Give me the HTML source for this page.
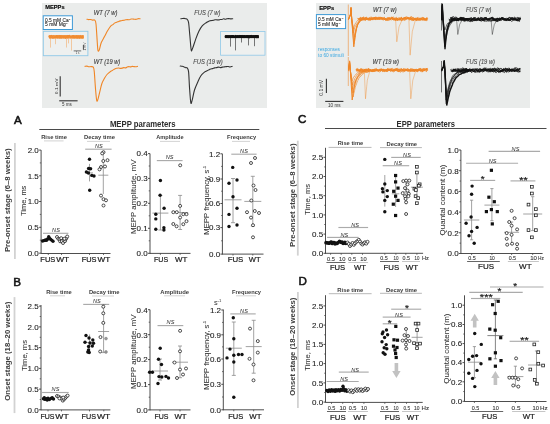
<!DOCTYPE html>
<html><head><meta charset="utf-8"><title>MEPP / EPP parameters</title>
<style>html,body{margin:0;padding:0;background:#fff;width:550px;height:424px;overflow:hidden}svg{display:block;filter:blur(0.3px)}</style>
</head><body>
<svg width="550" height="424" viewBox="0 0 550 424" font-family="'Liberation Sans', Arial, sans-serif">
<rect x="0.00" y="0.00" width="550.00" height="424.00" fill="#ffffff" stroke="none" stroke-width="1"/>
<rect x="42.00" y="3.00" width="225.00" height="105.00" fill="#eaeceb" stroke="none" stroke-width="1"/>
<text x="45.20" y="9.30" font-size="5.6" font-weight="bold" textLength="19.40" lengthAdjust="spacingAndGlyphs" stroke="#222" stroke-width="0.15">MEPPs</text>
<rect x="43.20" y="15.80" width="29.20" height="13.70" fill="#ffffff" stroke="#3d9ad6" stroke-width="1.0"/>
<text x="45.10" y="21.70" font-size="4.6" fill="#2a2a2a" textLength="23.50" lengthAdjust="spacingAndGlyphs" stroke="#2a2a2a" stroke-width="0.1">0.5 mM Ca</text>
<text x="68.80" y="19.50" font-size="2.4" fill="#2a2a2a">2+</text>
<text x="45.10" y="26.30" font-size="4.6" fill="#2a2a2a" textLength="20.60" lengthAdjust="spacingAndGlyphs" stroke="#2a2a2a" stroke-width="0.1">5 mM Mg</text>
<text x="65.90" y="24.30" font-size="2.4" fill="#2a2a2a">2+</text>
<rect x="43.30" y="31.30" width="44.60" height="24.40" fill="#eef0ef" stroke="#8fc9e8" stroke-width="0.9"/>
<path d="M49.00 36.34 L49.35 35.89 L49.70 37.19 L50.05 35.69 L50.40 36.89 L50.75 36.45 L51.10 35.65 L51.45 36.82 L51.80 35.60 L52.15 36.63 L52.50 35.68 L52.85 35.74 L53.20 36.60 L53.55 37.65 L53.90 35.82 L54.25 36.08 L54.60 37.13 L54.95 37.96 L55.30 37.00 L55.65 36.53 L56.00 38.04 L56.35 35.62 L56.70 37.73 L57.05 36.25 L57.40 35.88 L57.75 35.81 L58.10 36.30 L58.45 37.62 L58.80 35.97 L59.15 37.01 L59.50 37.16 L59.85 36.47 L60.20 36.92 L60.55 35.66 L60.90 35.65 L61.25 36.04 L61.60 37.27 L61.95 36.61 L62.30 36.32 L62.65 37.02 L63.00 36.68 L63.35 36.28 L63.70 37.57 L64.05 37.32 L64.40 36.13 L64.75 36.99 L65.10 36.87 L65.45 37.78 L65.80 37.40 L66.15 36.25 L66.50 38.05 L66.85 35.81 L67.20 36.59 L67.55 37.47 L67.90 35.90 L68.25 36.77 L68.60 35.60 L68.95 37.24 L69.30 37.49 L69.65 36.99 L70.00 37.78 L70.35 36.32 L70.70 37.31 L71.05 37.05 L71.40 37.01 L71.75 36.69 L72.10 37.68 L72.45 37.96 L72.80 36.73 L73.15 37.23 L73.50 35.66 L73.85 37.32 L74.20 37.18 L74.55 38.08 L74.90 37.64 L75.25 36.24 L75.60 36.50 L75.95 37.24 L76.30 35.56 L76.65 36.70 L77.00 35.94 L77.35 35.80 L77.70 35.65 L78.05 37.50 L78.40 35.84 L78.75 36.14 L79.10 36.52 L79.45 37.77 L79.80 35.71 L80.15 36.67 L80.50 36.93 L80.85 37.80 L81.20 37.63 L81.55 37.75 L81.90 36.22 L82.25 36.58 L82.60 36.43 L82.95 37.80 L83.30 37.99" fill="none" stroke="#f08626" stroke-width="0.7" stroke-linejoin="round" stroke-linecap="round"/>
<path d="M49.00 35.89 L49.35 35.96 L49.70 36.10 L50.05 36.11 L50.40 36.76 L50.75 37.03 L51.10 36.18 L51.45 35.51 L51.80 36.59 L52.15 36.46 L52.50 36.97 L52.85 37.98 L53.20 37.30 L53.55 36.84 L53.90 37.11 L54.25 37.26 L54.60 35.64 L54.95 37.84 L55.30 37.53 L55.65 37.77 L56.00 37.57 L56.35 36.52 L56.70 36.54 L57.05 35.77 L57.40 37.15 L57.75 35.66 L58.10 35.68 L58.45 36.04 L58.80 35.92 L59.15 36.38 L59.50 35.64 L59.85 35.50 L60.20 35.89 L60.55 35.76 L60.90 36.45 L61.25 35.57 L61.60 37.77 L61.95 37.10 L62.30 35.89 L62.65 36.16 L63.00 36.40 L63.35 36.45 L63.70 35.82 L64.05 37.71 L64.40 38.08 L64.75 36.71 L65.10 36.76 L65.45 35.72 L65.80 35.77 L66.15 36.39 L66.50 36.19 L66.85 37.66 L67.20 35.92 L67.55 35.56 L67.90 37.97 L68.25 36.87 L68.60 35.88 L68.95 36.91 L69.30 35.57 L69.65 36.87 L70.00 38.04 L70.35 37.74 L70.70 37.31 L71.05 36.18 L71.40 36.45 L71.75 35.93 L72.10 37.51 L72.45 36.88 L72.80 37.53 L73.15 36.36 L73.50 36.08 L73.85 37.61 L74.20 38.06 L74.55 37.72 L74.90 37.60 L75.25 37.63 L75.60 37.42 L75.95 36.09 L76.30 36.85 L76.65 36.42 L77.00 35.58 L77.35 35.57 L77.70 36.23 L78.05 36.17 L78.40 37.30 L78.75 37.99 L79.10 36.66 L79.45 37.94 L79.80 38.07 L80.15 37.98 L80.50 36.45 L80.85 36.07 L81.20 36.09 L81.55 36.01 L81.90 36.03 L82.25 37.12 L82.60 37.84 L82.95 37.69 L83.30 36.75" fill="none" stroke="#f08626" stroke-width="0.7" stroke-linejoin="round" stroke-linecap="round"/>
<path d="M49.00 37.20 L49.35 37.58 L49.70 35.72 L50.05 37.22 L50.40 37.87 L50.75 37.53 L51.10 37.45 L51.45 36.74 L51.80 35.96 L52.15 37.55 L52.50 36.36 L52.85 37.58 L53.20 38.03 L53.55 36.53 L53.90 36.54 L54.25 37.96 L54.60 37.38 L54.95 35.94 L55.30 35.83 L55.65 35.89 L56.00 37.85 L56.35 37.60 L56.70 35.88 L57.05 37.65 L57.40 38.05 L57.75 37.21 L58.10 36.41 L58.45 36.93 L58.80 35.84 L59.15 35.54 L59.50 38.02 L59.85 37.19 L60.20 36.87 L60.55 37.93 L60.90 36.63 L61.25 37.77 L61.60 37.65 L61.95 36.05 L62.30 36.15 L62.65 36.26 L63.00 36.13 L63.35 37.02 L63.70 36.17 L64.05 36.59 L64.40 35.84 L64.75 37.87 L65.10 36.42 L65.45 36.69 L65.80 37.02 L66.15 37.85 L66.50 36.59 L66.85 37.89 L67.20 36.80 L67.55 36.88 L67.90 36.86 L68.25 35.55 L68.60 36.64 L68.95 35.98 L69.30 35.51 L69.65 37.58 L70.00 35.95 L70.35 36.73 L70.70 37.39 L71.05 36.95 L71.40 36.35 L71.75 36.85 L72.10 36.94 L72.45 37.54 L72.80 35.78 L73.15 36.96 L73.50 36.15 L73.85 36.22 L74.20 37.51 L74.55 36.82 L74.90 36.96 L75.25 37.48 L75.60 37.87 L75.95 36.65 L76.30 37.09 L76.65 36.81 L77.00 36.83 L77.35 37.30 L77.70 36.68 L78.05 36.89 L78.40 36.74 L78.75 37.95 L79.10 37.32 L79.45 37.78 L79.80 37.95 L80.15 36.17 L80.50 36.95 L80.85 37.95 L81.20 37.68 L81.55 35.86 L81.90 35.82 L82.25 36.65 L82.60 35.69 L82.95 36.13 L83.30 35.69" fill="none" stroke="#f08626" stroke-width="0.7" stroke-linejoin="round" stroke-linecap="round"/>
<path d="M49.00 37.24 L49.35 37.54 L49.70 37.83 L50.05 35.90 L50.40 37.36 L50.75 37.22 L51.10 35.87 L51.45 37.80 L51.80 38.02 L52.15 36.07 L52.50 37.98 L52.85 36.54 L53.20 36.77 L53.55 38.07 L53.90 37.66 L54.25 35.92 L54.60 36.62 L54.95 36.84 L55.30 36.38 L55.65 36.01 L56.00 36.33 L56.35 37.38 L56.70 35.55 L57.05 36.94 L57.40 36.65 L57.75 35.55 L58.10 36.36 L58.45 37.12 L58.80 36.83 L59.15 35.67 L59.50 38.06 L59.85 37.55 L60.20 38.03 L60.55 35.77 L60.90 36.19 L61.25 35.60 L61.60 37.53 L61.95 36.20 L62.30 35.84 L62.65 36.60 L63.00 37.87 L63.35 37.63 L63.70 36.17 L64.05 35.89 L64.40 37.89 L64.75 36.98 L65.10 37.32 L65.45 35.73 L65.80 35.65 L66.15 37.29 L66.50 36.61 L66.85 35.69 L67.20 37.94 L67.55 37.15 L67.90 37.58 L68.25 35.72 L68.60 37.73 L68.95 35.67 L69.30 37.74 L69.65 36.68 L70.00 36.38 L70.35 36.94 L70.70 37.91 L71.05 36.20 L71.40 35.84 L71.75 36.87 L72.10 36.12 L72.45 35.78 L72.80 35.92 L73.15 35.63 L73.50 36.02 L73.85 36.31 L74.20 36.29 L74.55 37.47 L74.90 36.25 L75.25 36.80 L75.60 35.96 L75.95 36.40 L76.30 35.55 L76.65 36.15 L77.00 35.54 L77.35 37.41 L77.70 36.93 L78.05 35.99 L78.40 36.73 L78.75 37.93 L79.10 35.78 L79.45 37.63 L79.80 36.62 L80.15 36.79 L80.50 37.67 L80.85 36.52 L81.20 36.82 L81.55 37.29 L81.90 38.05 L82.25 36.39 L82.60 37.66 L82.95 37.34 L83.30 37.15" fill="none" stroke="#f08626" stroke-width="0.7" stroke-linejoin="round" stroke-linecap="round"/>
<path d="M49.00 36.55 L49.35 36.40 L49.70 35.64 L50.05 35.84 L50.40 35.68 L50.75 37.43 L51.10 36.16 L51.45 35.92 L51.80 35.72 L52.15 37.69 L52.50 37.76 L52.85 37.24 L53.20 36.23 L53.55 36.13 L53.90 36.26 L54.25 36.69 L54.60 35.91 L54.95 36.66 L55.30 36.18 L55.65 38.00 L56.00 38.03 L56.35 36.92 L56.70 36.14 L57.05 38.01 L57.40 36.30 L57.75 36.43 L58.10 35.50 L58.45 36.49 L58.80 36.73 L59.15 36.81 L59.50 36.02 L59.85 36.81 L60.20 35.51 L60.55 36.19 L60.90 35.73 L61.25 36.54 L61.60 35.61 L61.95 35.56 L62.30 36.29 L62.65 36.11 L63.00 37.02 L63.35 36.88 L63.70 37.45 L64.05 37.21 L64.40 37.36 L64.75 37.79 L65.10 36.51 L65.45 36.35 L65.80 38.06 L66.15 35.89 L66.50 37.38 L66.85 37.17 L67.20 35.61 L67.55 37.67 L67.90 37.82 L68.25 37.13 L68.60 37.41 L68.95 37.61 L69.30 35.86 L69.65 36.86 L70.00 36.81 L70.35 37.67 L70.70 37.59 L71.05 37.65 L71.40 37.02 L71.75 37.82 L72.10 37.28 L72.45 37.30 L72.80 36.10 L73.15 35.58 L73.50 35.85 L73.85 36.44 L74.20 35.77 L74.55 37.67 L74.90 36.95 L75.25 37.13 L75.60 37.13 L75.95 37.27 L76.30 36.77 L76.65 35.51 L77.00 37.57 L77.35 37.45 L77.70 36.81 L78.05 36.89 L78.40 37.21 L78.75 35.67 L79.10 37.42 L79.45 36.16 L79.80 35.69 L80.15 36.19 L80.50 37.40 L80.85 36.03 L81.20 37.42 L81.55 38.04 L81.90 36.78 L82.25 36.49 L82.60 36.75 L82.95 37.28 L83.30 37.49" fill="none" stroke="#f08626" stroke-width="0.7" stroke-linejoin="round" stroke-linecap="round"/>
<rect x="49.40" y="35.30" width="33.90" height="3.20" fill="#f39a48" stroke="none" stroke-width="1"/>
<path d="M49.40 37.30 L49.85 37.39 L50.30 35.46 L50.75 35.70 L51.20 36.06 L51.65 37.73 L52.10 36.24 L52.55 37.13 L53.00 35.24 L53.45 35.41 L53.90 36.11 L54.35 37.48 L54.80 37.55 L55.25 37.50 L55.70 36.19 L56.15 36.96 L56.60 36.78 L57.05 36.79 L57.50 35.60 L57.95 38.24 L58.40 35.88 L58.85 38.53 L59.30 38.38 L59.75 35.26 L60.20 36.76 L60.65 37.99 L61.10 38.49 L61.55 36.73 L62.00 36.11 L62.45 35.91 L62.90 38.41 L63.35 35.92 L63.80 37.18 L64.25 35.68 L64.70 36.98 L65.15 38.44 L65.60 35.65 L66.05 37.99 L66.50 36.93 L66.95 38.22 L67.40 37.59 L67.85 35.99 L68.30 38.25 L68.75 36.85 L69.20 35.28 L69.65 35.21 L70.10 36.87 L70.55 36.73 L71.00 36.23 L71.45 35.68 L71.90 36.37 L72.35 36.27 L72.80 38.06 L73.25 35.21 L73.70 37.75 L74.15 38.05 L74.60 35.61 L75.05 38.35 L75.50 37.62 L75.95 38.27 L76.40 36.19 L76.85 36.47 L77.30 36.54 L77.75 38.60 L78.20 37.20 L78.65 36.43 L79.10 36.66 L79.55 36.14 L80.00 35.36 L80.45 35.55 L80.90 38.04 L81.35 36.17 L81.80 38.38 L82.25 36.05 L82.70 36.10 L83.15 36.94" fill="none" stroke="#f08a30" stroke-width="0.45" stroke-linejoin="round" stroke-linecap="round"/>
<path d="M49.40 35.85 L49.85 36.47 L50.30 38.45 L50.75 38.21 L51.20 37.96 L51.65 37.35 L52.10 38.31 L52.55 38.40 L53.00 37.07 L53.45 37.65 L53.90 35.37 L54.35 37.69 L54.80 36.73 L55.25 37.76 L55.70 37.39 L56.15 36.17 L56.60 35.37 L57.05 38.35 L57.50 35.63 L57.95 36.81 L58.40 36.37 L58.85 36.21 L59.30 37.71 L59.75 38.52 L60.20 36.08 L60.65 37.43 L61.10 36.22 L61.55 37.09 L62.00 36.54 L62.45 35.77 L62.90 35.75 L63.35 35.91 L63.80 38.28 L64.25 36.89 L64.70 35.95 L65.15 38.28 L65.60 38.59 L66.05 36.73 L66.50 35.67 L66.95 35.85 L67.40 35.51 L67.85 36.36 L68.30 35.51 L68.75 36.01 L69.20 36.08 L69.65 37.14 L70.10 38.22 L70.55 37.75 L71.00 36.60 L71.45 36.61 L71.90 36.98 L72.35 36.48 L72.80 36.35 L73.25 35.41 L73.70 36.14 L74.15 38.49 L74.60 35.63 L75.05 36.91 L75.50 37.34 L75.95 38.13 L76.40 35.93 L76.85 36.12 L77.30 36.04 L77.75 36.56 L78.20 36.72 L78.65 38.44 L79.10 38.09 L79.55 38.17 L80.00 35.27 L80.45 35.31 L80.90 37.61 L81.35 38.25 L81.80 36.81 L82.25 37.20 L82.70 35.20 L83.15 36.53" fill="none" stroke="#f08a30" stroke-width="0.45" stroke-linejoin="round" stroke-linecap="round"/>
<path d="M49.40 38.35 L49.85 38.01 L50.30 38.11 L50.75 38.51 L51.20 36.04 L51.65 35.57 L52.10 35.72 L52.55 36.98 L53.00 37.52 L53.45 38.40 L53.90 37.65 L54.35 37.40 L54.80 37.80 L55.25 36.75 L55.70 37.08 L56.15 35.33 L56.60 37.86 L57.05 35.99 L57.50 38.33 L57.95 37.39 L58.40 36.23 L58.85 35.64 L59.30 36.06 L59.75 37.36 L60.20 37.58 L60.65 35.58 L61.10 35.44 L61.55 36.98 L62.00 37.18 L62.45 36.52 L62.90 35.96 L63.35 37.24 L63.80 35.24 L64.25 36.23 L64.70 36.77 L65.15 38.46 L65.60 37.39 L66.05 38.20 L66.50 36.82 L66.95 36.00 L67.40 36.04 L67.85 38.47 L68.30 37.60 L68.75 36.25 L69.20 35.27 L69.65 36.89 L70.10 37.49 L70.55 36.63 L71.00 36.07 L71.45 37.47 L71.90 38.35 L72.35 35.97 L72.80 35.32 L73.25 36.35 L73.70 36.63 L74.15 37.52 L74.60 35.87 L75.05 37.91 L75.50 37.71 L75.95 36.92 L76.40 35.90 L76.85 38.50 L77.30 36.26 L77.75 37.99 L78.20 35.98 L78.65 35.95 L79.10 37.79 L79.55 36.20 L80.00 38.44 L80.45 36.89 L80.90 35.84 L81.35 35.96 L81.80 36.62 L82.25 37.46 L82.70 38.43 L83.15 35.70" fill="none" stroke="#f08a30" stroke-width="0.45" stroke-linejoin="round" stroke-linecap="round"/>
<path d="M49.40 36.54 L49.85 35.92 L50.30 38.51 L50.75 35.68 L51.20 35.38 L51.65 35.40 L52.10 36.54 L52.55 38.25 L53.00 38.20 L53.45 37.69 L53.90 38.59 L54.35 38.37 L54.80 36.32 L55.25 35.83 L55.70 38.38 L56.15 37.74 L56.60 35.31 L57.05 37.46 L57.50 36.49 L57.95 36.47 L58.40 36.33 L58.85 35.78 L59.30 35.21 L59.75 36.15 L60.20 36.39 L60.65 38.45 L61.10 35.62 L61.55 38.48 L62.00 35.91 L62.45 36.41 L62.90 37.99 L63.35 37.99 L63.80 36.67 L64.25 35.37 L64.70 36.81 L65.15 36.47 L65.60 38.33 L66.05 35.86 L66.50 36.44 L66.95 38.25 L67.40 35.30 L67.85 36.60 L68.30 37.96 L68.75 37.81 L69.20 35.34 L69.65 35.32 L70.10 35.41 L70.55 38.33 L71.00 36.07 L71.45 37.74 L71.90 38.26 L72.35 36.35 L72.80 36.13 L73.25 38.46 L73.70 37.30 L74.15 36.09 L74.60 37.64 L75.05 36.28 L75.50 36.14 L75.95 35.21 L76.40 37.77 L76.85 38.32 L77.30 37.36 L77.75 38.41 L78.20 35.28 L78.65 36.00 L79.10 36.82 L79.55 38.45 L80.00 38.44 L80.45 36.51 L80.90 36.05 L81.35 36.66 L81.80 36.88 L82.25 38.36 L82.70 35.82 L83.15 37.93" fill="none" stroke="#f08a30" stroke-width="0.45" stroke-linejoin="round" stroke-linecap="round"/>
<line x1="50.50" y1="38.00" x2="50.50" y2="47.60" stroke="#f4ac6a" stroke-width="0.6"/>
<line x1="55.50" y1="38.00" x2="55.50" y2="44.20" stroke="#f4ac6a" stroke-width="0.6"/>
<line x1="66.50" y1="38.00" x2="66.50" y2="47.50" stroke="#f4ac6a" stroke-width="0.6"/>
<line x1="68.50" y1="38.00" x2="68.50" y2="43.40" stroke="#f4ac6a" stroke-width="0.6"/>
<line x1="71.50" y1="38.00" x2="71.50" y2="50.50" stroke="#f4ac6a" stroke-width="0.6"/>
<line x1="73.70" y1="50.90" x2="81.20" y2="50.90" stroke="#333" stroke-width="0.7"/>
<text x="77.50" y="54.40" font-size="2.8" fill="#333" text-anchor="middle" textLength="3.60" lengthAdjust="spacingAndGlyphs">1 s</text>
<line x1="83.40" y1="45.00" x2="83.40" y2="49.60" stroke="#333" stroke-width="0.9"/>
<text x="86.40" y="46.50" font-size="2.6" fill="#555" text-anchor="middle" textLength="8.00" lengthAdjust="spacingAndGlyphs" transform="rotate(-90 86.40 46.50)">1 mV</text>
<text x="93.80" y="15.20" font-size="6.3" font-style="italic" fill="#383838" textLength="23.60" lengthAdjust="spacingAndGlyphs" stroke="#383838" stroke-width="0.1">WT (7 w)</text>
<text x="93.80" y="63.70" font-size="6.3" font-style="italic" fill="#383838" textLength="26.50" lengthAdjust="spacingAndGlyphs" stroke="#383838" stroke-width="0.1">WT (19 w)</text>
<text x="194.20" y="15.20" font-size="6.3" font-style="italic" fill="#4a4a4a" textLength="26.20" lengthAdjust="spacingAndGlyphs" stroke="#4a4a4a" stroke-width="0.1">FUS (7 w)</text>
<text x="193.20" y="64.20" font-size="6.3" font-style="italic" fill="#4a4a4a" textLength="29.50" lengthAdjust="spacingAndGlyphs" stroke="#4a4a4a" stroke-width="0.1">FUS (19 w)</text>
<path d="M86.90 19.20 C87.20 19.26 88.10 19.54 88.70 19.59 C89.30 19.64 89.85 19.41 90.50 19.50 C91.15 19.59 91.90 20.02 92.60 20.12 C93.30 20.22 94.13 19.45 94.70 20.10 C95.27 20.75 95.57 20.22 96.00 24.00 C96.43 27.78 96.97 38.37 97.30 42.80 C97.63 47.23 97.67 49.42 98.00 50.60 C98.33 51.78 98.77 51.20 99.30 49.90 C99.83 48.60 100.33 45.02 101.20 42.80 C102.07 40.58 103.42 38.65 104.50 36.60 C105.58 34.55 106.63 32.30 107.70 30.50 C108.77 28.70 110.04 26.78 110.90 25.80 C111.76 24.82 112.20 25.11 112.85 24.62 C113.50 24.14 114.15 23.29 114.80 22.90 C115.45 22.51 116.10 22.51 116.75 22.26 C117.40 22.01 118.09 21.63 118.70 21.40 C119.31 21.17 119.86 21.01 120.43 20.86 C121.01 20.71 121.59 20.58 122.17 20.49 C122.74 20.39 123.29 20.41 123.90 20.30 C124.51 20.19 125.20 19.93 125.85 19.81 C126.50 19.70 127.20 19.60 127.80 19.60 C128.40 19.60 128.88 19.89 129.43 19.78 C129.97 19.68 130.51 19.11 131.05 18.98 C131.59 18.85 132.13 18.96 132.68 19.00 C133.22 19.03 133.71 19.15 134.30 19.20 C134.89 19.25 135.59 19.41 136.23 19.32 C136.88 19.23 137.52 18.77 138.17 18.68 C138.81 18.59 139.78 18.78 140.10 18.80" fill="none" stroke="#f08626" stroke-width="1.1" stroke-linejoin="round" stroke-linecap="round"/>
<path d="M85.00 66.40 C85.33 66.36 86.33 66.10 87.00 66.16 C87.67 66.23 88.30 66.73 89.00 66.80 C89.70 66.87 90.47 66.50 91.20 66.58 C91.93 66.67 92.88 66.41 93.40 67.30 C93.92 68.19 93.97 68.55 94.30 71.90 C94.63 75.25 95.00 82.65 95.40 87.40 C95.80 92.15 96.27 98.45 96.70 100.40 C97.13 102.35 97.47 100.62 98.00 99.10 C98.53 97.58 99.25 93.90 99.90 91.30 C100.55 88.70 101.13 85.67 101.90 83.50 C102.67 81.33 103.65 79.80 104.50 78.30 C105.35 76.80 105.93 75.68 107.00 74.50 C108.07 73.32 109.93 71.93 110.90 71.20 C111.88 70.47 112.20 70.49 112.85 70.10 C113.50 69.72 114.15 69.20 114.80 68.90 C115.45 68.60 116.10 68.43 116.75 68.28 C117.40 68.13 118.09 67.99 118.70 68.00 C119.31 68.01 119.86 68.33 120.43 68.35 C121.01 68.37 121.59 68.24 122.17 68.12 C122.74 67.99 123.34 67.63 123.90 67.60 C124.46 67.57 124.98 68.01 125.53 67.91 C126.07 67.82 126.61 67.22 127.15 67.01 C127.69 66.81 128.23 66.68 128.78 66.66 C129.32 66.64 129.83 66.95 130.40 66.90 C130.97 66.85 131.58 66.41 132.18 66.37 C132.77 66.33 133.36 66.59 133.95 66.65 C134.54 66.71 135.13 66.78 135.72 66.73 C136.32 66.69 137.20 66.46 137.50 66.40" fill="none" stroke="#f08626" stroke-width="1.1" stroke-linejoin="round" stroke-linecap="round"/>
<path d="M180.80 18.80 C181.08 18.76 181.90 18.61 182.45 18.55 C183.00 18.48 183.56 18.38 184.10 18.40 C184.64 18.42 185.17 18.50 185.70 18.68 C186.23 18.87 186.82 18.83 187.30 19.50 C187.78 20.17 188.17 19.90 188.60 22.70 C189.03 25.50 189.47 31.77 189.90 36.30 C190.33 40.83 190.77 47.85 191.20 49.90 C191.63 51.95 191.73 50.43 192.50 48.60 C193.27 46.77 194.72 41.82 195.80 38.90 C196.88 35.98 197.93 33.27 199.00 31.10 C200.07 28.93 201.02 27.30 202.20 25.90 C203.38 24.50 205.12 23.41 206.10 22.70 C207.07 21.99 207.40 21.98 208.05 21.67 C208.70 21.35 209.39 20.99 210.00 20.80 C210.61 20.61 211.16 20.65 211.73 20.55 C212.31 20.46 212.89 20.38 213.47 20.24 C214.04 20.10 214.62 19.76 215.20 19.70 C215.78 19.64 216.36 19.85 216.93 19.88 C217.51 19.92 218.09 19.98 218.67 19.91 C219.24 19.85 219.84 19.57 220.40 19.50 C220.96 19.43 221.48 19.61 222.03 19.49 C222.57 19.37 223.11 18.80 223.65 18.77 C224.19 18.74 224.73 19.31 225.28 19.32 C225.82 19.32 226.31 18.92 226.90 18.80 C227.49 18.68 228.19 18.58 228.83 18.59 C229.48 18.60 230.12 18.83 230.77 18.87 C231.41 18.90 232.38 18.81 232.70 18.80" fill="none" stroke="#333" stroke-width="1.1" stroke-linejoin="round" stroke-linecap="round"/>
<path d="M180.20 66.00 C180.52 66.05 181.50 66.17 182.15 66.32 C182.80 66.47 183.51 66.67 184.10 66.90 C184.69 67.13 185.17 67.50 185.70 67.69 C186.23 67.87 186.82 67.30 187.30 68.00 C187.78 68.70 188.23 68.67 188.60 71.90 C188.97 75.13 189.13 82.27 189.50 87.40 C189.87 92.53 190.37 100.53 190.80 102.70 C191.23 104.87 191.48 102.52 192.10 100.40 C192.72 98.28 193.57 93.03 194.50 90.00 C195.43 86.97 196.63 84.57 197.70 82.20 C198.77 79.83 199.72 77.52 200.90 75.80 C202.08 74.08 203.72 72.77 204.80 71.90 C205.88 71.03 206.68 70.98 207.40 70.60 C208.12 70.22 208.56 69.90 209.13 69.63 C209.71 69.37 210.29 69.19 210.87 69.01 C211.44 68.84 211.99 68.79 212.60 68.60 C213.21 68.41 213.90 68.01 214.55 67.85 C215.20 67.68 215.85 67.73 216.50 67.60 C217.15 67.47 217.80 67.07 218.45 67.08 C219.10 67.08 219.75 67.62 220.40 67.63 C221.05 67.65 221.70 67.28 222.35 67.15 C223.00 67.03 223.65 66.99 224.30 66.90 C224.95 66.81 225.60 66.66 226.25 66.60 C226.90 66.54 227.55 66.48 228.20 66.55 C228.85 66.62 229.50 67.04 230.15 67.02 C230.80 66.99 231.78 66.50 232.10 66.40" fill="none" stroke="#333" stroke-width="1.1" stroke-linejoin="round" stroke-linecap="round"/>
<rect x="220.60" y="31.50" width="44.40" height="23.70" fill="#eef0ef" stroke="#8fc9e8" stroke-width="0.8"/>
<path d="M225.30 36.72 L225.65 36.00 L226.00 37.50 L226.35 37.10 L226.70 37.98 L227.05 35.67 L227.40 36.63 L227.75 37.53 L228.10 37.59 L228.45 37.78 L228.80 35.50 L229.15 36.16 L229.50 35.71 L229.85 35.89 L230.20 37.93 L230.55 36.92 L230.90 37.82 L231.25 36.37 L231.60 37.65 L231.95 36.57 L232.30 36.08 L232.65 37.42 L233.00 37.86 L233.35 35.68 L233.70 36.95 L234.05 37.01 L234.40 35.97 L234.75 36.36 L235.10 35.77 L235.45 35.93 L235.80 36.06 L236.15 36.96 L236.50 37.09 L236.85 35.93 L237.20 35.43 L237.55 36.25 L237.90 37.16 L238.25 35.88 L238.60 36.21 L238.95 35.93 L239.30 37.47 L239.65 36.82 L240.00 35.56 L240.35 35.66 L240.70 36.43 L241.05 36.83 L241.40 37.06 L241.75 35.64 L242.10 35.83 L242.45 37.21 L242.80 36.47 L243.15 36.14 L243.50 36.20 L243.85 37.88 L244.20 36.21 L244.55 36.87 L244.90 36.33 L245.25 36.48 L245.60 37.65 L245.95 37.99 L246.30 36.35 L246.65 35.91 L247.00 37.29 L247.35 35.93 L247.70 35.42 L248.05 37.74 L248.40 36.50 L248.75 37.53 L249.10 36.46 L249.45 37.70 L249.80 36.60 L250.15 35.82 L250.50 35.44 L250.85 36.83 L251.20 37.07 L251.55 37.77 L251.90 35.63 L252.25 37.02 L252.60 36.36 L252.95 36.71 L253.30 35.78 L253.65 36.14 L254.00 36.76 L254.35 37.81 L254.70 35.68 L255.05 36.68 L255.40 37.49 L255.75 37.91 L256.10 35.91 L256.45 35.73 L256.80 37.85 L257.15 37.94 L257.50 36.66 L257.85 35.54 L258.20 37.81" fill="none" stroke="#111" stroke-width="0.7" stroke-linejoin="round" stroke-linecap="round"/>
<path d="M225.30 36.41 L225.65 37.75 L226.00 37.01 L226.35 37.54 L226.70 35.82 L227.05 37.44 L227.40 35.98 L227.75 36.45 L228.10 37.60 L228.45 37.56 L228.80 35.88 L229.15 35.97 L229.50 36.44 L229.85 36.75 L230.20 36.40 L230.55 35.72 L230.90 36.04 L231.25 37.28 L231.60 37.73 L231.95 35.51 L232.30 36.86 L232.65 37.37 L233.00 35.50 L233.35 37.58 L233.70 35.71 L234.05 36.96 L234.40 36.83 L234.75 37.03 L235.10 36.20 L235.45 36.49 L235.80 36.91 L236.15 36.51 L236.50 37.11 L236.85 36.56 L237.20 36.54 L237.55 35.46 L237.90 37.01 L238.25 36.67 L238.60 36.01 L238.95 37.39 L239.30 37.43 L239.65 36.59 L240.00 35.87 L240.35 36.63 L240.70 35.68 L241.05 35.73 L241.40 36.52 L241.75 35.64 L242.10 36.55 L242.45 36.73 L242.80 35.51 L243.15 37.05 L243.50 35.61 L243.85 37.31 L244.20 37.42 L244.55 36.73 L244.90 35.54 L245.25 36.71 L245.60 36.38 L245.95 37.87 L246.30 35.75 L246.65 37.63 L247.00 37.99 L247.35 37.30 L247.70 37.52 L248.05 35.90 L248.40 37.95 L248.75 36.68 L249.10 37.89 L249.45 37.78 L249.80 35.83 L250.15 37.45 L250.50 37.82 L250.85 35.57 L251.20 36.31 L251.55 37.37 L251.90 35.81 L252.25 37.73 L252.60 36.11 L252.95 37.52 L253.30 35.77 L253.65 36.71 L254.00 37.79 L254.35 35.94 L254.70 36.08 L255.05 36.72 L255.40 36.23 L255.75 35.50 L256.10 35.87 L256.45 35.82 L256.80 37.83 L257.15 37.17 L257.50 37.73 L257.85 35.84 L258.20 37.44" fill="none" stroke="#111" stroke-width="0.7" stroke-linejoin="round" stroke-linecap="round"/>
<path d="M225.30 35.70 L225.65 36.78 L226.00 37.05 L226.35 36.34 L226.70 37.67 L227.05 36.84 L227.40 36.91 L227.75 37.69 L228.10 35.67 L228.45 37.98 L228.80 37.04 L229.15 36.43 L229.50 37.47 L229.85 36.09 L230.20 37.98 L230.55 36.90 L230.90 36.34 L231.25 37.39 L231.60 36.55 L231.95 35.86 L232.30 37.33 L232.65 35.53 L233.00 37.53 L233.35 36.06 L233.70 37.06 L234.05 37.96 L234.40 36.92 L234.75 37.13 L235.10 36.21 L235.45 35.40 L235.80 35.49 L236.15 35.79 L236.50 37.00 L236.85 36.52 L237.20 36.73 L237.55 37.73 L237.90 35.74 L238.25 35.99 L238.60 37.10 L238.95 35.46 L239.30 35.41 L239.65 36.32 L240.00 35.68 L240.35 36.33 L240.70 35.98 L241.05 36.92 L241.40 36.93 L241.75 35.93 L242.10 37.02 L242.45 36.63 L242.80 35.75 L243.15 37.84 L243.50 36.03 L243.85 35.79 L244.20 35.65 L244.55 37.06 L244.90 37.67 L245.25 37.43 L245.60 36.45 L245.95 36.09 L246.30 35.43 L246.65 37.08 L247.00 36.86 L247.35 36.31 L247.70 37.08 L248.05 36.55 L248.40 37.84 L248.75 37.31 L249.10 36.05 L249.45 37.75 L249.80 35.51 L250.15 36.78 L250.50 36.46 L250.85 36.02 L251.20 35.55 L251.55 37.43 L251.90 35.43 L252.25 36.83 L252.60 37.85 L252.95 35.77 L253.30 35.92 L253.65 36.98 L254.00 36.72 L254.35 37.07 L254.70 37.51 L255.05 35.85 L255.40 36.20 L255.75 36.18 L256.10 35.53 L256.45 37.71 L256.80 37.44 L257.15 37.26 L257.50 35.42 L257.85 37.60 L258.20 37.34" fill="none" stroke="#111" stroke-width="0.7" stroke-linejoin="round" stroke-linecap="round"/>
<path d="M225.30 36.61 L225.65 37.33 L226.00 36.58 L226.35 35.99 L226.70 35.67 L227.05 36.00 L227.40 35.50 L227.75 36.27 L228.10 37.35 L228.45 37.21 L228.80 37.60 L229.15 37.25 L229.50 36.09 L229.85 36.84 L230.20 36.53 L230.55 37.45 L230.90 36.76 L231.25 36.09 L231.60 37.07 L231.95 37.91 L232.30 35.96 L232.65 37.69 L233.00 35.44 L233.35 36.08 L233.70 36.01 L234.05 37.33 L234.40 37.86 L234.75 37.34 L235.10 36.25 L235.45 37.69 L235.80 36.25 L236.15 36.02 L236.50 37.76 L236.85 37.04 L237.20 37.20 L237.55 37.13 L237.90 37.95 L238.25 36.62 L238.60 37.58 L238.95 37.21 L239.30 37.63 L239.65 36.54 L240.00 37.28 L240.35 36.88 L240.70 36.20 L241.05 35.95 L241.40 37.02 L241.75 35.60 L242.10 37.77 L242.45 35.78 L242.80 35.47 L243.15 35.68 L243.50 37.82 L243.85 36.30 L244.20 35.77 L244.55 35.47 L244.90 35.51 L245.25 37.20 L245.60 37.05 L245.95 37.21 L246.30 37.32 L246.65 35.57 L247.00 36.94 L247.35 36.34 L247.70 37.53 L248.05 37.53 L248.40 37.72 L248.75 35.57 L249.10 37.66 L249.45 37.78 L249.80 37.86 L250.15 35.68 L250.50 35.93 L250.85 35.69 L251.20 35.49 L251.55 37.60 L251.90 37.51 L252.25 37.05 L252.60 37.55 L252.95 37.04 L253.30 36.15 L253.65 35.66 L254.00 35.65 L254.35 37.37 L254.70 35.93 L255.05 36.23 L255.40 36.50 L255.75 35.45 L256.10 36.07 L256.45 36.13 L256.80 37.26 L257.15 36.36 L257.50 36.23 L257.85 37.91 L258.20 36.71" fill="none" stroke="#111" stroke-width="0.7" stroke-linejoin="round" stroke-linecap="round"/>
<path d="M225.30 37.61 L225.65 37.01 L226.00 35.48 L226.35 36.47 L226.70 36.53 L227.05 37.41 L227.40 36.30 L227.75 37.23 L228.10 36.80 L228.45 35.96 L228.80 37.64 L229.15 35.64 L229.50 37.53 L229.85 35.84 L230.20 35.40 L230.55 35.93 L230.90 37.38 L231.25 37.94 L231.60 35.41 L231.95 36.68 L232.30 36.68 L232.65 37.47 L233.00 35.88 L233.35 36.69 L233.70 36.30 L234.05 37.56 L234.40 36.08 L234.75 37.85 L235.10 36.14 L235.45 35.96 L235.80 37.22 L236.15 36.70 L236.50 35.69 L236.85 37.05 L237.20 35.61 L237.55 37.45 L237.90 37.21 L238.25 37.45 L238.60 37.03 L238.95 36.32 L239.30 36.44 L239.65 36.43 L240.00 37.72 L240.35 35.62 L240.70 37.71 L241.05 35.47 L241.40 35.94 L241.75 36.08 L242.10 37.74 L242.45 36.70 L242.80 36.39 L243.15 37.70 L243.50 36.01 L243.85 36.60 L244.20 36.78 L244.55 37.36 L244.90 37.36 L245.25 37.08 L245.60 36.31 L245.95 36.25 L246.30 35.80 L246.65 37.59 L247.00 37.12 L247.35 37.33 L247.70 35.84 L248.05 36.54 L248.40 37.41 L248.75 36.91 L249.10 35.73 L249.45 36.60 L249.80 37.70 L250.15 36.02 L250.50 35.90 L250.85 36.18 L251.20 37.23 L251.55 37.59 L251.90 35.80 L252.25 35.81 L252.60 36.04 L252.95 36.25 L253.30 36.76 L253.65 35.82 L254.00 36.25 L254.35 35.89 L254.70 37.94 L255.05 37.29 L255.40 35.66 L255.75 37.90 L256.10 35.66 L256.45 36.40 L256.80 37.96 L257.15 37.47 L257.50 37.31 L257.85 36.53 L258.20 35.91" fill="none" stroke="#111" stroke-width="0.7" stroke-linejoin="round" stroke-linecap="round"/>
<rect x="225.30" y="35.30" width="33.20" height="2.80" fill="#111" stroke="none" stroke-width="1"/>
<path d="M225.30 37.09 L225.75 35.60 L226.20 35.88 L226.65 36.39 L227.10 35.40 L227.55 36.42 L228.00 37.51 L228.45 37.24 L228.90 36.70 L229.35 37.07 L229.80 36.60 L230.25 35.70 L230.70 36.99 L231.15 36.43 L231.60 37.37 L232.05 37.84 L232.50 36.50 L232.95 36.91 L233.40 37.40 L233.85 36.48 L234.30 35.94 L234.75 37.32 L235.20 37.76 L235.65 37.47 L236.10 37.26 L236.55 37.69 L237.00 37.20 L237.45 37.10 L237.90 36.57 L238.35 36.18 L238.80 37.06 L239.25 35.57 L239.70 36.47 L240.15 37.49 L240.60 37.30 L241.05 37.06 L241.50 36.00 L241.95 36.49 L242.40 36.57 L242.85 37.04 L243.30 36.45 L243.75 37.19 L244.20 37.90 L244.65 35.81 L245.10 37.13 L245.55 37.48 L246.00 36.39 L246.45 36.67 L246.90 38.03 L247.35 35.41 L247.80 36.82 L248.25 35.75 L248.70 37.49 L249.15 37.93 L249.60 36.75 L250.05 35.58 L250.50 36.91 L250.95 36.81 L251.40 37.31 L251.85 36.73 L252.30 37.09 L252.75 37.62 L253.20 36.76 L253.65 36.45 L254.10 37.95 L254.55 35.89 L255.00 37.22 L255.45 36.40 L255.90 37.44 L256.35 35.64 L256.80 38.06 L257.25 36.30 L257.70 35.46 L258.15 36.07" fill="none" stroke="#111" stroke-width="0.5" stroke-linejoin="round" stroke-linecap="round"/>
<path d="M225.30 36.42 L225.75 35.34 L226.20 36.47 L226.65 36.48 L227.10 37.26 L227.55 36.29 L228.00 36.04 L228.45 35.93 L228.90 37.38 L229.35 37.93 L229.80 36.78 L230.25 35.91 L230.70 37.54 L231.15 36.40 L231.60 35.89 L232.05 35.66 L232.50 37.47 L232.95 37.57 L233.40 37.08 L233.85 36.61 L234.30 36.87 L234.75 35.93 L235.20 38.00 L235.65 36.29 L236.10 37.09 L236.55 37.59 L237.00 37.59 L237.45 36.61 L237.90 36.12 L238.35 36.84 L238.80 35.65 L239.25 37.63 L239.70 36.29 L240.15 37.68 L240.60 36.05 L241.05 36.35 L241.50 36.01 L241.95 36.49 L242.40 35.82 L242.85 35.31 L243.30 37.32 L243.75 36.09 L244.20 35.99 L244.65 36.15 L245.10 36.64 L245.55 36.50 L246.00 37.08 L246.45 37.15 L246.90 36.31 L247.35 37.90 L247.80 37.69 L248.25 35.46 L248.70 37.62 L249.15 37.84 L249.60 37.50 L250.05 35.69 L250.50 37.63 L250.95 37.07 L251.40 35.34 L251.85 35.33 L252.30 37.96 L252.75 37.14 L253.20 36.00 L253.65 35.58 L254.10 35.70 L254.55 35.95 L255.00 37.47 L255.45 36.27 L255.90 35.73 L256.35 37.83 L256.80 37.52 L257.25 35.77 L257.70 37.80 L258.15 37.00" fill="none" stroke="#111" stroke-width="0.5" stroke-linejoin="round" stroke-linecap="round"/>
<path d="M225.30 37.49 L225.75 37.17 L226.20 37.80 L226.65 37.51 L227.10 37.65 L227.55 35.85 L228.00 37.24 L228.45 36.79 L228.90 37.38 L229.35 36.53 L229.80 37.77 L230.25 36.85 L230.70 36.04 L231.15 35.96 L231.60 35.69 L232.05 36.68 L232.50 35.46 L232.95 36.61 L233.40 35.70 L233.85 36.68 L234.30 36.69 L234.75 36.81 L235.20 37.72 L235.65 35.32 L236.10 37.65 L236.55 36.61 L237.00 36.88 L237.45 37.16 L237.90 37.65 L238.35 36.35 L238.80 36.47 L239.25 37.99 L239.70 35.51 L240.15 37.08 L240.60 37.08 L241.05 35.38 L241.50 37.01 L241.95 37.21 L242.40 37.91 L242.85 36.23 L243.30 38.05 L243.75 36.73 L244.20 36.66 L244.65 37.81 L245.10 35.39 L245.55 37.31 L246.00 37.05 L246.45 36.25 L246.90 37.71 L247.35 36.33 L247.80 36.63 L248.25 36.77 L248.70 37.46 L249.15 35.89 L249.60 36.52 L250.05 36.48 L250.50 36.85 L250.95 37.61 L251.40 36.12 L251.85 37.62 L252.30 36.43 L252.75 36.71 L253.20 36.06 L253.65 36.72 L254.10 38.03 L254.55 37.13 L255.00 37.52 L255.45 36.23 L255.90 36.19 L256.35 36.14 L256.80 36.94 L257.25 37.08 L257.70 37.50 L258.15 35.41" fill="none" stroke="#111" stroke-width="0.5" stroke-linejoin="round" stroke-linecap="round"/>
<line x1="230.50" y1="38.00" x2="230.50" y2="46.60" stroke="#222" stroke-width="0.6"/>
<line x1="235.50" y1="38.00" x2="235.50" y2="50.40" stroke="#222" stroke-width="0.6"/>
<line x1="241.50" y1="38.00" x2="241.50" y2="42.50" stroke="#222" stroke-width="0.6"/>
<line x1="248.50" y1="38.00" x2="248.50" y2="45.40" stroke="#222" stroke-width="0.6"/>
<line x1="254.50" y1="38.00" x2="254.50" y2="46.20" stroke="#222" stroke-width="0.6"/>
<line x1="60.20" y1="76.30" x2="60.20" y2="96.60" stroke="#333" stroke-width="1.1"/>
<text x="58.50" y="86.30" font-size="4.4" fill="#333" text-anchor="middle" textLength="15.70" lengthAdjust="spacingAndGlyphs" transform="rotate(-90 58.50 86.30)">0.1 mV</text>
<line x1="59.20" y1="100.80" x2="77.60" y2="100.80" stroke="#333" stroke-width="1.1"/>
<text x="66.80" y="106.30" font-size="4.7" fill="#333" text-anchor="middle" textLength="9.80" lengthAdjust="spacingAndGlyphs">5 ms</text>
<rect x="316.00" y="3.00" width="214.00" height="105.00" fill="#eaeceb" stroke="none" stroke-width="1"/>
<text x="319.20" y="9.60" font-size="5.6" font-weight="bold" textLength="15.00" lengthAdjust="spacingAndGlyphs" stroke="#222" stroke-width="0.15">EPPs</text>
<rect x="316.40" y="14.60" width="29.20" height="14.00" fill="#ffffff" stroke="#3d9ad6" stroke-width="1.0"/>
<text x="318.00" y="20.80" font-size="4.6" fill="#2a2a2a" textLength="23.20" lengthAdjust="spacingAndGlyphs" stroke="#2a2a2a" stroke-width="0.1">0.5 mM Ca</text>
<text x="341.40" y="18.60" font-size="2.4" fill="#2a2a2a">2+</text>
<text x="318.00" y="25.60" font-size="4.6" fill="#2a2a2a" textLength="20.20" lengthAdjust="spacingAndGlyphs" stroke="#2a2a2a" stroke-width="0.1">5 mM Mg</text>
<text x="338.40" y="23.60" font-size="2.4" fill="#2a2a2a">2+</text>
<text x="318.10" y="50.80" font-size="4.8" fill="#3aa8e2" textLength="21.90" lengthAdjust="spacingAndGlyphs">responses</text>
<text x="318.10" y="56.80" font-size="4.8" fill="#3aa8e2" textLength="25.60" lengthAdjust="spacingAndGlyphs">to 60 stimuli</text>
<text x="372.90" y="11.90" font-size="6.3" font-style="italic" fill="#383838" textLength="23.70" lengthAdjust="spacingAndGlyphs" stroke="#383838" stroke-width="0.1">WT (7 w)</text>
<text x="372.50" y="63.60" font-size="6.3" font-style="italic" fill="#383838" textLength="26.50" lengthAdjust="spacingAndGlyphs" stroke="#383838" stroke-width="0.1">WT (19 w)</text>
<text x="465.90" y="11.90" font-size="6.3" font-style="italic" fill="#4a4a4a" textLength="25.50" lengthAdjust="spacingAndGlyphs" stroke="#4a4a4a" stroke-width="0.1">FUS (7 w)</text>
<text x="465.90" y="63.80" font-size="6.3" font-style="italic" fill="#4a4a4a" textLength="29.10" lengthAdjust="spacingAndGlyphs" stroke="#4a4a4a" stroke-width="0.1">FUS (19 w)</text>
<line x1="348.30" y1="4.50" x2="348.30" y2="56.00" stroke="#f08626" stroke-width="0.55"/>
<path d="M359.57 19.74 L360.47 19.43 L361.37 18.05 L362.27 17.90 L363.17 17.11 L364.07 17.12 L364.97 18.90 L365.87 19.12 L366.77 19.36 L367.67 19.81 L368.57 20.35 L369.47 19.92 L370.37 19.70 L371.27 19.60 L372.17 19.72 L373.07 19.54 L373.97 19.65 L374.87 18.57 L375.77 19.08 L376.67 18.85 L377.57 19.47 L378.47 18.20 L379.37 17.69 L380.27 17.07 L381.17 18.51 L382.07 19.65 L382.97 19.65 L383.87 18.95 L384.77 19.66 L385.67 19.97 L386.57 19.60 L387.47 18.65 L388.37 18.24 L389.27 18.30 L390.17 18.08 L391.07 18.24 L391.97 18.84 L392.87 19.87 L393.77 18.31 L394.67 18.69 L395.57 17.62 L396.47 17.23 L397.37 18.69 L398.27 18.92 L399.17 19.88 L400.07 19.27 L400.97 17.88 L401.87 18.02 L402.77 18.59 L403.67 19.75 L404.57 20.49 L405.47 19.67 L406.37 19.07 L407.27 17.98 L408.17 18.70 L409.07 18.05 L409.97 17.54 L410.87 16.93 L411.77 16.57 L412.67 18.02 L413.57 17.45 L414.47 19.19 L415.37 18.01 L416.27 19.27 L417.17 18.15 L418.07 17.27 L418.97 18.49 L419.87 18.01 L420.77 18.93 L421.67 18.11 L422.57 17.33 L423.47 18.66 L424.37 19.24 L425.27 19.91 L426.17 19.97 L427.07 18.43" fill="none" stroke="#f08626" stroke-width="0.75" stroke-linejoin="round" stroke-linecap="round"/>
<path d="M359.29 19.31 L360.19 18.98 L361.09 19.95 L361.99 18.84 L362.89 19.95 L363.79 19.96 L364.69 18.25 L365.59 17.32 L366.49 18.35 L367.39 19.32 L368.29 18.07 L369.19 17.94 L370.09 18.88 L370.99 18.03 L371.89 19.26 L372.79 19.02 L373.69 17.85 L374.59 17.96 L375.49 18.52 L376.39 18.50 L377.29 19.06 L378.19 18.08 L379.09 19.13 L379.99 18.65 L380.89 19.07 L381.79 19.26 L382.69 18.86 L383.59 18.55 L384.49 19.36 L385.39 20.19 L386.29 20.26 L387.19 19.76 L388.09 18.83 L388.99 17.75 L389.89 19.37 L390.79 19.61 L391.69 20.04 L392.59 19.07 L393.49 19.21 L394.39 20.18 L395.29 20.37 L396.19 19.91 L397.09 18.94 L397.99 18.71 L398.89 19.69 L399.79 18.99 L400.69 19.35 L401.59 19.35 L402.49 20.07 L403.39 20.24 L404.29 19.07 L405.19 17.74 L406.09 17.64 L406.99 17.97 L407.89 18.56 L408.79 19.43 L409.69 20.09 L410.59 18.40 L411.49 19.39 L412.39 19.88 L413.29 20.29 L414.19 19.79 L415.09 18.80 L415.99 19.65 L416.89 20.01 L417.79 19.92 L418.69 20.42 L419.59 19.32 L420.49 18.08 L421.39 18.53 L422.29 19.38 L423.19 18.39 L424.09 19.18 L424.99 20.06 L425.89 18.85 L426.79 19.09" fill="none" stroke="#f08626" stroke-width="0.75" stroke-linejoin="round" stroke-linecap="round"/>
<path d="M359.43 18.72 L360.33 18.04 L361.23 17.79 L362.13 18.85 L363.03 19.54 L363.93 19.11 L364.83 17.97 L365.73 19.09 L366.63 19.62 L367.53 18.60 L368.43 18.88 L369.33 19.81 L370.23 20.29 L371.13 19.67 L372.03 19.22 L372.93 19.25 L373.83 18.29 L374.73 17.77 L375.63 17.46 L376.53 18.55 L377.43 18.33 L378.33 18.70 L379.23 18.51 L380.13 18.68 L381.03 17.88 L381.93 17.19 L382.83 19.12 L383.73 18.67 L384.63 17.77 L385.53 18.56 L386.43 19.36 L387.33 18.28 L388.23 18.75 L389.13 18.39 L390.03 18.62 L390.93 17.54 L391.83 16.97 L392.73 18.99 L393.63 19.79 L394.53 19.31 L395.43 19.25 L396.33 18.47 L397.23 19.29 L398.13 18.89 L399.03 19.94 L399.93 20.07 L400.83 20.28 L401.73 20.74 L402.63 19.27 L403.53 17.93 L404.43 17.60 L405.33 17.36 L406.23 17.00 L407.13 16.72 L408.03 17.79 L408.93 19.15 L409.83 18.89 L410.73 19.94 L411.63 20.42 L412.53 18.63 L413.43 18.95 L414.33 18.63 L415.23 17.78 L416.13 19.36 L417.03 18.52 L417.93 18.80 L418.83 19.14 L419.73 20.10 L420.63 19.93 L421.53 19.16 L422.43 18.87 L423.33 18.01 L424.23 19.50 L425.13 20.38 L426.03 18.99 L426.93 17.78" fill="none" stroke="#f08626" stroke-width="0.75" stroke-linejoin="round" stroke-linecap="round"/>
<path d="M358.17 18.44 L359.07 19.58 L359.97 20.21 L360.87 20.40 L361.77 18.58 L362.67 19.37 L363.57 19.62 L364.47 19.61 L365.37 20.43 L366.27 18.61 L367.17 17.83 L368.07 18.89 L368.97 19.92 L369.87 19.84 L370.77 18.89 L371.67 19.07 L372.57 19.57 L373.47 18.27 L374.37 18.08 L375.27 17.81 L376.17 17.34 L377.07 17.95 L377.97 17.53 L378.87 17.47 L379.77 17.20 L380.67 18.35 L381.57 17.37 L382.47 18.54 L383.37 17.92 L384.27 17.19 L385.17 18.95 L386.07 18.20 L386.97 19.53 L387.87 20.09 L388.77 20.45 L389.67 18.83 L390.57 18.69 L391.47 17.76 L392.37 19.27 L393.27 19.89 L394.17 19.71 L395.07 19.19 L395.97 18.62 L396.87 19.49 L397.77 19.12 L398.67 19.29 L399.57 18.20 L400.47 17.79 L401.37 17.17 L402.27 18.42 L403.17 18.72 L404.07 17.89 L404.97 19.20 L405.87 18.45 L406.77 18.40 L407.67 17.74 L408.57 17.66 L409.47 19.00 L410.37 18.51 L411.27 17.83 L412.17 18.25 L413.07 18.05 L413.97 19.37 L414.87 18.18 L415.77 19.62 L416.67 18.17 L417.57 19.42 L418.47 19.55 L419.37 18.51 L420.27 18.59 L421.17 18.16 L422.07 17.86 L422.97 17.56 L423.87 17.79 L424.77 19.44 L425.67 20.36 L426.57 20.69 L427.47 18.86" fill="none" stroke="#f08626" stroke-width="0.75" stroke-linejoin="round" stroke-linecap="round"/>
<path d="M358.27 19.76 L359.17 18.25 L360.07 19.05 L360.97 18.44 L361.87 19.76 L362.77 18.15 L363.67 19.19 L364.57 18.63 L365.47 17.83 L366.37 17.06 L367.27 18.65 L368.17 18.78 L369.07 18.03 L369.97 18.22 L370.87 19.48 L371.77 18.49 L372.67 18.80 L373.57 17.92 L374.47 17.54 L375.37 18.76 L376.27 19.29 L377.17 18.33 L378.07 17.52 L378.97 17.09 L379.87 18.13 L380.77 18.42 L381.67 18.04 L382.57 17.67 L383.47 18.45 L384.37 19.11 L385.27 19.73 L386.17 19.51 L387.07 18.47 L387.97 17.56 L388.87 18.68 L389.77 18.51 L390.67 19.18 L391.57 17.93 L392.47 19.08 L393.37 18.55 L394.27 19.49 L395.17 20.07 L396.07 19.48 L396.97 18.00 L397.87 19.35 L398.77 19.05 L399.67 19.84 L400.57 18.80 L401.47 18.04 L402.37 19.19 L403.27 18.69 L404.17 17.92 L405.07 18.00 L405.97 18.59 L406.87 17.48 L407.77 18.12 L408.67 18.30 L409.57 18.56 L410.47 17.75 L411.37 18.74 L412.27 19.54 L413.17 20.09 L414.07 19.08 L414.97 19.47 L415.87 18.88 L416.77 19.45 L417.67 18.09 L418.57 19.32 L419.47 20.19 L420.37 19.55 L421.27 19.25 L422.17 19.12 L423.07 19.07 L423.97 17.78 L424.87 19.38 L425.77 18.45 L426.67 17.83" fill="none" stroke="#f08626" stroke-width="0.75" stroke-linejoin="round" stroke-linecap="round"/>
<path d="M357.71 18.19 L358.61 19.24 L359.51 17.90 L360.41 17.32 L361.31 18.47 L362.21 17.88 L363.11 17.12 L364.01 18.12 L364.91 18.61 L365.81 18.75 L366.71 19.27 L367.61 18.09 L368.51 19.31 L369.41 19.61 L370.31 18.14 L371.21 17.52 L372.11 18.08 L373.01 18.41 L373.91 18.05 L374.81 17.47 L375.71 17.84 L376.61 17.39 L377.51 18.25 L378.41 19.37 L379.31 18.26 L380.21 18.68 L381.11 19.33 L382.01 18.28 L382.91 19.30 L383.81 20.14 L384.71 19.27 L385.61 18.86 L386.51 19.66 L387.41 19.34 L388.31 18.84 L389.21 19.89 L390.11 20.08 L391.01 19.11 L391.91 18.34 L392.81 18.15 L393.71 18.28 L394.61 19.69 L395.51 20.03 L396.41 20.48 L397.31 20.49 L398.21 20.57 L399.11 18.69 L400.01 18.78 L400.91 19.90 L401.81 20.46 L402.71 19.10 L403.61 18.78 L404.51 19.11 L405.41 18.64 L406.31 18.79 L407.21 17.75 L408.11 18.06 L409.01 18.40 L409.91 17.42 L410.81 17.16 L411.71 19.04 L412.61 19.60 L413.51 20.30 L414.41 19.95 L415.31 20.18 L416.21 20.50 L417.11 20.67 L418.01 18.70 L418.91 19.09 L419.81 18.39 L420.71 19.01 L421.61 18.36 L422.51 18.66 L423.41 19.76 L424.31 19.62 L425.21 18.65 L426.11 18.76 L427.01 18.62" fill="none" stroke="#f08626" stroke-width="0.75" stroke-linejoin="round" stroke-linecap="round"/>
<path d="M360.25 18.28 L361.15 18.04 L362.05 18.74 L362.95 17.85 L363.85 18.50 L364.75 19.75 L365.65 19.35 L366.55 18.54 L367.45 18.58 L368.35 18.76 L369.25 17.92 L370.15 17.40 L371.05 17.14 L371.95 17.38 L372.85 17.79 L373.75 17.73 L374.65 17.59 L375.55 17.13 L376.45 18.00 L377.35 19.18 L378.25 19.28 L379.15 19.23 L380.05 19.40 L380.95 18.41 L381.85 19.09 L382.75 18.87 L383.65 18.95 L384.55 19.16 L385.45 18.92 L386.35 18.41 L387.25 17.96 L388.15 17.66 L389.05 18.20 L389.95 18.19 L390.85 18.67 L391.75 17.54 L392.65 17.75 L393.55 19.10 L394.45 18.33 L395.35 18.68 L396.25 18.71 L397.15 18.23 L398.05 19.67 L398.95 18.78 L399.85 19.45 L400.75 18.33 L401.65 17.49 L402.55 18.98 L403.45 18.75 L404.35 17.71 L405.25 17.93 L406.15 18.17 L407.05 19.03 L407.95 17.98 L408.85 17.68 L409.75 19.30 L410.65 19.65 L411.55 18.43 L412.45 18.20 L413.35 18.11 L414.25 18.85 L415.15 19.11 L416.05 19.82 L416.95 20.14 L417.85 19.58 L418.75 19.81 L419.65 19.95 L420.55 20.06 L421.45 19.43 L422.35 19.84 L423.25 19.88 L424.15 20.40 L425.05 18.78 L425.95 19.69 L426.85 18.08" fill="none" stroke="#f08626" stroke-width="0.75" stroke-linejoin="round" stroke-linecap="round"/>
<path d="M359.70 19.01 L360.60 18.91 L361.50 19.98 L362.40 19.63 L363.30 19.06 L364.20 19.63 L365.10 20.16 L366.00 19.81 L366.90 19.06 L367.80 18.83 L368.70 18.71 L369.60 19.29 L370.50 18.57 L371.40 18.41 L372.30 18.72 L373.20 18.47 L374.10 18.19 L375.00 19.16 L375.90 19.85 L376.80 19.38 L377.70 18.98 L378.60 18.13 L379.50 17.96 L380.40 17.47 L381.30 18.25 L382.20 18.70 L383.10 17.74 L384.00 19.24 L384.90 18.61 L385.80 19.53 L386.70 20.02 L387.60 20.59 L388.50 19.06 L389.40 18.77 L390.30 19.78 L391.20 18.15 L392.10 17.34 L393.00 18.16 L393.90 18.44 L394.80 19.62 L395.70 19.92 L396.60 19.51 L397.50 20.40 L398.40 19.72 L399.30 19.35 L400.20 19.55 L401.10 18.95 L402.00 18.53 L402.90 18.88 L403.80 18.48 L404.70 19.71 L405.60 19.73 L406.50 19.37 L407.40 18.14 L408.30 18.13 L409.20 18.19 L410.10 18.61 L411.00 18.88 L411.90 19.77 L412.80 20.46 L413.70 19.68 L414.60 19.14 L415.50 19.29 L416.40 20.27 L417.30 19.23 L418.20 19.11 L419.10 19.74 L420.00 18.52 L420.90 18.20 L421.80 19.63 L422.70 20.05 L423.60 19.52 L424.50 18.25 L425.40 19.46 L426.30 19.62 L427.20 20.03" fill="none" stroke="#f08626" stroke-width="0.75" stroke-linejoin="round" stroke-linecap="round"/>
<path d="M360.37 19.74 L361.27 19.13 L362.17 18.14 L363.07 17.93 L363.97 18.35 L364.87 18.56 L365.77 17.91 L366.67 17.54 L367.57 18.42 L368.47 18.84 L369.37 18.47 L370.27 19.82 L371.17 19.69 L372.07 18.18 L372.97 18.24 L373.87 19.19 L374.77 18.55 L375.67 19.12 L376.57 17.77 L377.47 17.76 L378.37 19.06 L379.27 19.15 L380.17 19.40 L381.07 18.39 L381.97 18.57 L382.87 18.80 L383.77 18.23 L384.67 18.85 L385.57 18.90 L386.47 20.06 L387.37 19.68 L388.27 19.07 L389.17 18.03 L390.07 17.54 L390.97 18.74 L391.87 17.81 L392.77 17.28 L393.67 17.17 L394.57 17.96 L395.47 19.12 L396.37 19.25 L397.27 19.79 L398.17 18.28 L399.07 17.33 L399.97 18.65 L400.87 18.29 L401.77 19.04 L402.67 18.58 L403.57 17.87 L404.47 17.72 L405.37 17.23 L406.27 18.92 L407.17 19.07 L408.07 18.58 L408.97 18.56 L409.87 18.39 L410.77 17.49 L411.67 19.03 L412.57 19.13 L413.47 20.10 L414.37 19.37 L415.27 19.40 L416.17 18.52 L417.07 17.54 L417.97 19.15 L418.87 19.86 L419.77 18.93 L420.67 19.84 L421.57 20.14 L422.47 19.06 L423.37 19.19 L424.27 20.13 L425.17 19.52 L426.07 20.29 L426.97 18.99" fill="none" stroke="#f08626" stroke-width="0.75" stroke-linejoin="round" stroke-linecap="round"/>
<path d="M348.60 19.24 L350.40 14.80 L351.00 7.16 L351.70 18.80 L353.80 46.80 L354.50 40.68 L355.20 35.30 L355.90 31.78 L356.60 28.29 L357.30 25.96 L358.00 24.40 L358.70 22.90 L359.40 22.66 L360.10 21.19 L360.80 20.86 L361.50 19.95 L362.20 20.01 L362.90 19.59 L363.60 19.40 L364.30 18.90 L365.00 18.83 L365.70 19.44 L366.40 18.89 L367.10 18.73 L367.80 18.63 L368.50 18.69 L369.20 18.62 L369.90 18.40 L370.60 19.01 L371.30 18.68 L372.00 18.49 L372.70 19.03 L373.40 18.41 L374.10 18.58 L374.80 19.15 L375.50 18.44" fill="none" stroke="#f08626" stroke-width="1.0" stroke-linejoin="round" stroke-linecap="round"/>
<path d="M348.60 19.47 L350.40 14.80 L351.00 8.91 L351.70 18.80 L353.90 44.00 L354.60 37.56 L355.30 33.21 L356.00 29.32 L356.70 27.25 L357.40 24.50 L358.10 23.75 L358.80 22.18 L359.50 21.06 L360.20 20.65 L360.90 19.86 L361.60 20.08 L362.30 19.36 L363.00 19.80 L363.70 19.34 L364.40 19.01 L365.10 18.80 L365.80 19.10 L366.50 18.66 L367.20 19.28 L367.90 18.50 L368.60 18.87 L369.30 18.89 L370.00 18.60 L370.70 19.10 L371.40 18.70 L372.10 18.97 L372.80 18.88 L373.50 18.62 L374.20 18.70 L374.90 18.39 L375.60 18.48" fill="none" stroke="#f08626" stroke-width="0.65" stroke-linejoin="round" stroke-linecap="round"/>
<path d="M348.60 18.44 L350.40 14.80 L351.00 8.49 L351.70 18.80 L354.63 41.00 L355.33 35.38 L356.03 30.95 L356.73 27.94 L357.43 25.39 L358.13 23.42 L358.83 22.37 L359.53 21.32 L360.23 20.51 L360.93 20.56 L361.63 19.73 L362.33 19.56 L363.03 19.85 L363.73 19.55 L364.43 19.54 L365.13 19.42 L365.83 18.63 L366.53 18.72 L367.23 18.44 L367.93 19.06 L368.63 19.02 L369.33 18.70 L370.03 18.75 L370.73 18.98 L371.43 19.02 L372.13 18.56 L372.83 19.16 L373.53 18.66 L374.23 18.93 L374.93 18.49 L375.63 18.42" fill="none" stroke="#f08626" stroke-width="0.65" stroke-linejoin="round" stroke-linecap="round"/>
<path d="M348.60 19.27 L350.40 14.80 L351.00 8.64 L351.70 18.80 L354.74 37.00 L355.44 31.71 L356.14 28.28 L356.84 25.71 L357.54 23.90 L358.24 22.57 L358.94 21.20 L359.64 20.71 L360.34 20.48 L361.04 19.61 L361.74 19.97 L362.44 19.48 L363.14 19.46 L363.84 18.88 L364.54 18.98 L365.24 19.16 L365.94 18.78 L366.64 18.40 L367.34 19.20 L368.04 19.13 L368.74 18.62 L369.44 18.37 L370.14 19.17 L370.84 18.92 L371.54 18.36 L372.24 18.55 L372.94 18.42 L373.64 19.10 L374.34 18.51 L375.04 19.22 L375.74 19.05" fill="none" stroke="#f08626" stroke-width="0.65" stroke-linejoin="round" stroke-linecap="round"/>
<path d="M348.60 19.19 L350.40 14.80 L351.00 7.68 L351.70 18.80 L353.26 33.00 L353.96 30.60 L354.66 27.85 L355.36 25.87 L356.06 25.29 L356.76 23.61 L357.46 23.17 L358.16 22.18 L358.86 21.61 L359.56 21.21 L360.26 20.61 L360.96 20.11 L361.66 19.45 L362.36 19.88 L363.06 19.44 L363.76 19.39 L364.46 19.69 L365.16 18.80 L365.86 19.37 L366.56 18.59 L367.26 19.20 L367.96 19.27 L368.66 18.69 L369.36 18.95 L370.06 19.35 L370.76 19.01 L371.46 18.90 L372.16 18.59 L372.86 18.40 L373.56 18.69 L374.26 18.74 L374.96 18.52 L375.66 18.63" fill="none" stroke="#f08626" stroke-width="0.65" stroke-linejoin="round" stroke-linecap="round"/>
<path d="M348.60 19.21 L350.40 14.80 L351.00 8.51 L351.70 18.80 L353.35 29.00 L354.05 26.29 L354.75 24.71 L355.45 23.22 L356.15 22.64 L356.85 21.24 L357.55 20.56 L358.25 20.68 L358.95 19.58 L359.65 19.73 L360.35 19.29 L361.05 19.61 L361.75 19.23 L362.45 19.35 L363.15 18.69 L363.85 19.13 L364.55 19.02 L365.25 18.86 L365.95 19.14 L366.65 19.19 L367.35 18.46 L368.05 18.62 L368.75 18.68 L369.45 18.52 L370.15 18.37 L370.85 18.59 L371.55 18.51 L372.25 19.01 L372.95 18.75 L373.65 18.42 L374.35 18.63 L375.05 18.77 L375.75 18.66" fill="none" stroke="#f08626" stroke-width="0.65" stroke-linejoin="round" stroke-linecap="round"/>
<path d="M395.60 19.30 L396.80 41.80 L399.00 26.85 L402.30 19.30" fill="none" stroke="#f08626" stroke-width="0.55" stroke-linejoin="round" stroke-linecap="round" stroke-opacity="0.75"/>
<path d="M408.90 19.30 L410.10 55.20 L412.30 31.54 L415.60 19.30" fill="none" stroke="#f08626" stroke-width="0.55" stroke-linejoin="round" stroke-linecap="round" stroke-opacity="0.75"/>
<line x1="348.30" y1="57.00" x2="348.30" y2="86.00" stroke="#f08626" stroke-width="0.55"/>
<path d="M356.50 69.16 L357.40 68.44 L358.30 70.43 L359.20 70.93 L360.10 69.59 L361.00 70.39 L361.90 71.47 L362.80 71.06 L363.70 69.72 L364.60 69.91 L365.50 69.88 L366.40 69.27 L367.30 69.79 L368.20 68.78 L369.10 70.44 L370.00 70.68 L370.90 70.78 L371.80 71.57 L372.70 71.33 L373.60 70.22 L374.50 69.59 L375.40 68.99 L376.30 68.39 L377.20 69.87 L378.10 70.84 L379.00 70.06 L379.90 69.36 L380.80 70.07 L381.70 70.97 L382.60 71.66 L383.50 70.20 L384.40 70.89 L385.30 71.38 L386.20 71.44 L387.10 70.46 L388.00 69.58 L388.90 70.65 L389.80 70.01 L390.70 69.78 L391.60 70.09 L392.50 69.82 L393.40 70.80 L394.30 69.90 L395.20 68.92 L396.10 69.66 L397.00 70.21 L397.90 70.98 L398.80 71.13 L399.70 71.70 L400.60 72.10 L401.50 71.23 L402.40 70.77 L403.30 69.68 L404.20 69.43 L405.10 69.97 L406.00 69.05 L406.90 70.03 L407.80 69.29 L408.70 69.56 L409.60 70.99 L410.50 69.64 L411.40 68.77 L412.30 69.27 L413.20 68.94 L414.10 70.05 L415.00 68.91 L415.90 70.32 L416.80 71.13 L417.70 71.41 L418.60 70.68 L419.50 69.94 L420.40 70.45 L421.30 70.37 L422.20 70.10 L423.10 69.75 L424.00 69.81 L424.90 70.39 L425.80 71.10 L426.70 71.67" fill="none" stroke="#f08626" stroke-width="0.75" stroke-linejoin="round" stroke-linecap="round"/>
<path d="M356.49 69.70 L357.39 69.79 L358.29 70.13 L359.19 69.79 L360.09 69.24 L360.99 68.66 L361.89 68.93 L362.79 69.40 L363.69 70.91 L364.59 71.58 L365.49 71.85 L366.39 72.26 L367.29 72.45 L368.19 71.73 L369.09 71.80 L369.99 70.01 L370.89 70.52 L371.79 70.64 L372.69 69.95 L373.59 70.24 L374.49 71.32 L375.39 70.77 L376.29 70.87 L377.19 70.08 L378.09 69.75 L378.99 70.89 L379.89 69.43 L380.79 69.02 L381.69 69.99 L382.59 69.95 L383.49 69.06 L384.39 69.96 L385.29 69.76 L386.19 70.15 L387.09 69.97 L387.99 70.15 L388.89 70.33 L389.79 70.02 L390.69 69.16 L391.59 68.85 L392.49 70.41 L393.39 70.43 L394.29 69.38 L395.19 70.63 L396.09 69.84 L396.99 69.02 L397.89 69.62 L398.79 69.28 L399.69 69.67 L400.59 70.04 L401.49 69.45 L402.39 69.96 L403.29 69.13 L404.19 69.64 L405.09 70.11 L405.99 69.13 L406.89 69.39 L407.79 68.72 L408.69 69.24 L409.59 70.55 L410.49 70.52 L411.39 70.90 L412.29 71.21 L413.19 69.82 L414.09 71.18 L414.99 71.28 L415.89 69.83 L416.79 70.80 L417.69 70.27 L418.59 69.44 L419.49 70.90 L420.39 70.74 L421.29 71.16 L422.19 69.85 L423.09 70.68 L423.99 69.39 L424.89 69.11 L425.79 69.29 L426.69 68.52 L427.59 69.51" fill="none" stroke="#f08626" stroke-width="0.75" stroke-linejoin="round" stroke-linecap="round"/>
<path d="M356.64 69.71 L357.54 70.44 L358.44 70.15 L359.34 71.12 L360.24 71.00 L361.14 71.54 L362.04 71.09 L362.94 71.71 L363.84 71.93 L364.74 70.34 L365.64 70.88 L366.54 70.19 L367.44 70.83 L368.34 70.99 L369.24 71.42 L370.14 69.96 L371.04 69.76 L371.94 70.53 L372.84 71.47 L373.74 71.44 L374.64 69.77 L375.54 70.22 L376.44 69.24 L377.34 69.79 L378.24 70.71 L379.14 69.54 L380.04 70.87 L380.94 70.99 L381.84 70.04 L382.74 69.37 L383.64 69.61 L384.54 70.70 L385.44 70.67 L386.34 69.52 L387.24 68.66 L388.14 68.41 L389.04 69.94 L389.94 69.29 L390.84 69.83 L391.74 69.49 L392.64 70.26 L393.54 69.95 L394.44 69.20 L395.34 70.56 L396.24 70.49 L397.14 70.82 L398.04 71.29 L398.94 71.89 L399.84 69.95 L400.74 69.68 L401.64 69.06 L402.54 69.58 L403.44 70.77 L404.34 71.24 L405.24 69.64 L406.14 69.12 L407.04 70.38 L407.94 70.74 L408.84 70.23 L409.74 70.16 L410.64 69.35 L411.54 70.57 L412.44 70.14 L413.34 71.08 L414.24 70.95 L415.14 69.58 L416.04 69.45 L416.94 69.10 L417.84 70.55 L418.74 70.61 L419.64 69.32 L420.54 68.91 L421.44 69.15 L422.34 69.55 L423.24 70.03 L424.14 69.83 L425.04 69.64 L425.94 68.69 L426.84 69.56" fill="none" stroke="#f08626" stroke-width="0.75" stroke-linejoin="round" stroke-linecap="round"/>
<path d="M357.00 69.03 L357.90 69.46 L358.80 70.98 L359.70 69.52 L360.60 68.97 L361.50 69.94 L362.40 69.50 L363.30 69.27 L364.20 69.69 L365.10 69.34 L366.00 69.89 L366.90 70.10 L367.80 71.26 L368.70 71.98 L369.60 70.04 L370.50 70.26 L371.40 70.89 L372.30 71.49 L373.20 71.57 L374.10 71.28 L375.00 71.12 L375.90 70.37 L376.80 69.76 L377.70 70.68 L378.60 71.37 L379.50 71.91 L380.40 71.58 L381.30 70.48 L382.20 71.00 L383.10 71.22 L384.00 70.78 L384.90 70.85 L385.80 70.19 L386.70 70.32 L387.60 70.04 L388.50 69.04 L389.40 69.17 L390.30 69.20 L391.20 70.84 L392.10 70.51 L393.00 70.05 L393.90 69.49 L394.80 69.17 L395.70 69.26 L396.60 68.80 L397.50 68.23 L398.40 70.02 L399.30 69.99 L400.20 69.95 L401.10 70.23 L402.00 69.74 L402.90 69.14 L403.80 68.56 L404.70 68.82 L405.60 68.97 L406.50 70.08 L407.40 70.26 L408.30 71.29 L409.20 70.41 L410.10 71.34 L411.00 71.03 L411.90 69.64 L412.80 69.11 L413.70 69.80 L414.60 71.16 L415.50 70.38 L416.40 70.97 L417.30 70.45 L418.20 71.23 L419.10 69.72 L420.00 69.90 L420.90 71.00 L421.80 70.10 L422.70 69.55 L423.60 68.69 L424.50 68.55 L425.40 68.73 L426.30 69.89 L427.20 69.34" fill="none" stroke="#f08626" stroke-width="0.75" stroke-linejoin="round" stroke-linecap="round"/>
<path d="M357.20 69.47 L358.10 70.05 L359.00 71.00 L359.90 71.00 L360.80 69.90 L361.70 70.61 L362.60 71.55 L363.50 71.19 L364.40 69.72 L365.30 70.69 L366.20 71.38 L367.10 70.46 L368.00 69.46 L368.90 69.04 L369.80 69.65 L370.70 70.81 L371.60 70.88 L372.50 71.60 L373.40 70.27 L374.30 69.82 L375.20 70.60 L376.10 70.78 L377.00 70.29 L377.90 70.68 L378.80 70.07 L379.70 69.05 L380.60 69.36 L381.50 68.63 L382.40 69.65 L383.30 69.49 L384.20 69.80 L385.10 70.22 L386.00 69.62 L386.90 69.79 L387.80 68.79 L388.70 70.46 L389.60 70.50 L390.50 71.55 L391.40 69.86 L392.30 70.29 L393.20 70.80 L394.10 70.11 L395.00 69.16 L395.90 68.79 L396.80 68.56 L397.70 69.95 L398.60 69.06 L399.50 70.34 L400.40 70.09 L401.30 70.23 L402.20 70.43 L403.10 70.46 L404.00 70.73 L404.90 70.74 L405.80 70.08 L406.70 70.72 L407.60 69.90 L408.50 70.55 L409.40 71.03 L410.30 71.33 L411.20 70.36 L412.10 70.95 L413.00 71.77 L413.90 70.95 L414.80 70.07 L415.70 70.19 L416.60 71.26 L417.50 69.89 L418.40 68.84 L419.30 69.39 L420.20 70.13 L421.10 70.83 L422.00 70.21 L422.90 71.40 L423.80 70.20 L424.70 70.82 L425.60 69.55 L426.50 68.69 L427.40 68.48" fill="none" stroke="#f08626" stroke-width="0.75" stroke-linejoin="round" stroke-linecap="round"/>
<path d="M356.18 70.20 L357.08 70.34 L357.98 69.50 L358.88 70.88 L359.78 70.25 L360.68 69.38 L361.58 68.96 L362.48 70.10 L363.38 71.17 L364.28 69.91 L365.18 68.90 L366.08 70.16 L366.98 69.55 L367.88 71.02 L368.78 70.65 L369.68 70.78 L370.58 70.14 L371.48 70.90 L372.38 70.49 L373.28 69.93 L374.18 71.03 L375.08 69.70 L375.98 70.49 L376.88 69.31 L377.78 70.06 L378.68 69.89 L379.58 70.91 L380.48 69.52 L381.38 69.98 L382.28 69.86 L383.18 71.03 L384.08 71.74 L384.98 71.36 L385.88 70.17 L386.78 69.58 L387.68 69.28 L388.58 69.53 L389.48 69.18 L390.38 68.92 L391.28 70.12 L392.18 70.51 L393.08 69.88 L393.98 71.22 L394.88 70.07 L395.78 70.30 L396.68 69.42 L397.58 70.65 L398.48 71.35 L399.38 70.27 L400.28 70.85 L401.18 71.34 L402.08 70.30 L402.98 69.84 L403.88 69.97 L404.78 71.02 L405.68 69.83 L406.58 70.44 L407.48 70.57 L408.38 70.29 L409.28 70.44 L410.18 71.26 L411.08 70.08 L411.98 71.07 L412.88 70.34 L413.78 70.96 L414.68 71.50 L415.58 70.14 L416.48 71.05 L417.38 71.87 L418.28 70.63 L419.18 69.28 L420.08 68.75 L420.98 70.56 L421.88 69.20 L422.78 70.65 L423.68 69.60 L424.58 70.44 L425.48 69.36 L426.38 68.93 L427.28 69.95" fill="none" stroke="#f08626" stroke-width="0.75" stroke-linejoin="round" stroke-linecap="round"/>
<path d="M356.27 69.81 L357.17 71.00 L358.07 71.17 L358.97 71.66 L359.87 72.17 L360.77 70.15 L361.67 69.53 L362.57 70.54 L363.47 70.85 L364.37 69.43 L365.27 69.79 L366.17 69.32 L367.07 69.55 L367.97 68.88 L368.87 68.31 L369.77 70.35 L370.67 69.84 L371.57 70.92 L372.47 69.67 L373.37 69.88 L374.27 69.14 L375.17 69.44 L376.07 69.00 L376.97 69.99 L377.87 69.23 L378.77 70.25 L379.67 70.23 L380.57 69.27 L381.47 69.33 L382.37 69.71 L383.27 70.95 L384.17 70.25 L385.07 69.53 L385.97 70.97 L386.87 71.55 L387.77 71.51 L388.67 70.37 L389.57 69.51 L390.47 69.25 L391.37 68.63 L392.27 68.23 L393.17 69.14 L394.07 69.39 L394.97 69.89 L395.87 69.70 L396.77 68.73 L397.67 69.85 L398.57 70.38 L399.47 70.41 L400.37 70.43 L401.27 70.79 L402.17 71.70 L403.07 71.93 L403.97 71.68 L404.87 70.77 L405.77 70.07 L406.67 69.93 L407.57 71.20 L408.47 70.48 L409.37 70.07 L410.27 69.91 L411.17 69.17 L412.07 70.85 L412.97 69.35 L413.87 70.00 L414.77 71.12 L415.67 70.11 L416.57 70.42 L417.47 70.02 L418.37 69.47 L419.27 69.07 L420.17 68.64 L421.07 70.18 L421.97 70.88 L422.87 71.57 L423.77 69.86 L424.67 70.48 L425.57 69.93 L426.47 70.41 L427.37 70.43" fill="none" stroke="#f08626" stroke-width="0.75" stroke-linejoin="round" stroke-linecap="round"/>
<path d="M356.95 71.35 L357.85 69.62 L358.75 70.48 L359.65 71.21 L360.55 70.78 L361.45 70.74 L362.35 71.70 L363.25 70.38 L364.15 70.61 L365.05 71.02 L365.95 70.36 L366.85 70.80 L367.75 70.27 L368.65 70.30 L369.55 70.53 L370.45 70.81 L371.35 70.10 L372.25 70.46 L373.15 70.45 L374.05 69.66 L374.95 70.18 L375.85 69.62 L376.75 70.87 L377.65 70.51 L378.55 70.91 L379.45 70.64 L380.35 70.39 L381.25 69.63 L382.15 69.01 L383.05 70.59 L383.95 70.48 L384.85 70.41 L385.75 70.38 L386.65 71.06 L387.55 70.04 L388.45 69.32 L389.35 70.50 L390.25 70.27 L391.15 70.58 L392.05 71.20 L392.95 71.71 L393.85 71.92 L394.75 70.04 L395.65 69.82 L396.55 70.80 L397.45 71.30 L398.35 69.89 L399.25 69.19 L400.15 69.04 L401.05 68.60 L401.95 68.97 L402.85 70.26 L403.75 70.28 L404.65 70.13 L405.55 69.16 L406.45 69.37 L407.35 70.95 L408.25 71.09 L409.15 70.57 L410.05 70.35 L410.95 71.01 L411.85 71.27 L412.75 69.94 L413.65 70.49 L414.55 70.04 L415.45 70.16 L416.35 69.54 L417.25 69.52 L418.15 69.44 L419.05 69.49 L419.95 68.64 L420.85 68.61 L421.75 69.50 L422.65 68.74 L423.55 68.62 L424.45 69.86 L425.35 69.46 L426.25 69.37 L427.15 69.11" fill="none" stroke="#f08626" stroke-width="0.75" stroke-linejoin="round" stroke-linecap="round"/>
<path d="M358.50 69.21 L359.40 69.98 L360.30 70.95 L361.20 69.89 L362.10 69.84 L363.00 70.71 L363.90 70.77 L364.80 70.20 L365.70 69.09 L366.60 69.45 L367.50 69.47 L368.40 70.31 L369.30 69.76 L370.20 69.74 L371.10 70.31 L372.00 71.01 L372.90 70.29 L373.80 69.97 L374.70 70.26 L375.60 71.27 L376.50 70.04 L377.40 71.26 L378.30 71.30 L379.20 70.49 L380.10 70.76 L381.00 70.10 L381.90 69.10 L382.80 70.22 L383.70 69.92 L384.60 70.11 L385.50 70.14 L386.40 71.14 L387.30 71.34 L388.20 69.68 L389.10 70.14 L390.00 70.07 L390.90 70.04 L391.80 70.94 L392.70 70.40 L393.60 70.24 L394.50 71.17 L395.40 70.59 L396.30 70.39 L397.20 70.33 L398.10 71.06 L399.00 71.09 L399.90 71.27 L400.80 70.55 L401.70 69.28 L402.60 70.13 L403.50 70.29 L404.40 70.90 L405.30 71.24 L406.20 69.85 L407.10 69.33 L408.00 68.69 L408.90 70.14 L409.80 69.20 L410.70 68.65 L411.60 69.96 L412.50 70.23 L413.40 69.13 L414.30 70.05 L415.20 70.63 L416.10 70.40 L417.00 69.23 L417.90 70.13 L418.80 69.96 L419.70 70.27 L420.60 71.45 L421.50 71.66 L422.40 71.91 L423.30 70.28 L424.20 69.84 L425.10 70.05 L426.00 68.91 L426.90 70.68" fill="none" stroke="#f08626" stroke-width="0.75" stroke-linejoin="round" stroke-linecap="round"/>
<path d="M348.60 69.72 L349.00 66.20 L349.60 61.54 L350.30 70.20 L352.19 100.00 L352.89 95.05 L353.59 90.38 L354.29 86.75 L354.99 83.71 L355.69 80.92 L356.39 79.18 L357.09 78.11 L357.79 76.70 L358.49 75.65 L359.19 74.14 L359.89 73.34 L360.59 72.58 L361.29 72.56 L361.99 71.98 L362.69 71.73 L363.39 71.48 L364.09 71.34 L364.79 70.94 L365.49 71.22 L366.19 70.49 L366.89 71.10 L367.59 70.65 L368.29 70.08 L368.99 70.28 L369.69 70.45 L370.39 70.29 L371.09 70.41 L371.79 70.15 L372.49 70.07 L373.19 70.58 L373.89 70.06 L374.59 70.47" fill="none" stroke="#f08626" stroke-width="1.0" stroke-linejoin="round" stroke-linecap="round"/>
<path d="M348.60 70.38 L349.00 66.20 L349.60 61.96 L350.30 70.20 L353.14 97.00 L353.84 93.38 L354.54 90.73 L355.24 87.23 L355.94 85.29 L356.64 83.48 L357.34 81.14 L358.04 80.44 L358.74 78.34 L359.44 77.73 L360.14 76.32 L360.84 76.21 L361.54 75.11 L362.24 74.70 L362.94 73.84 L363.64 73.53 L364.34 73.11 L365.04 72.37 L365.74 71.97 L366.44 72.32 L367.14 71.39 L367.84 71.96 L368.54 71.07 L369.24 70.81 L369.94 70.67 L370.64 71.24 L371.34 71.31 L372.04 70.69 L372.74 70.85 L373.44 70.39 L374.14 70.98" fill="none" stroke="#f08626" stroke-width="0.65" stroke-linejoin="round" stroke-linecap="round"/>
<path d="M348.60 69.51 L349.00 66.20 L349.60 60.77 L350.30 70.20 L352.93 93.00 L353.63 89.21 L354.33 87.17 L355.03 84.20 L355.73 82.06 L356.43 80.64 L357.13 78.87 L357.83 77.82 L358.53 76.31 L359.23 76.12 L359.93 74.73 L360.63 74.56 L361.33 73.29 L362.03 73.43 L362.73 73.19 L363.43 72.23 L364.13 71.56 L364.83 71.64 L365.53 71.67 L366.23 71.06 L366.93 71.22 L367.63 70.62 L368.33 70.87 L369.03 71.03 L369.73 70.65 L370.43 70.82 L371.13 70.19 L371.83 70.85 L372.53 70.10 L373.23 70.86 L373.93 70.90 L374.63 70.81" fill="none" stroke="#f08626" stroke-width="0.65" stroke-linejoin="round" stroke-linecap="round"/>
<path d="M348.60 69.78 L349.00 66.20 L349.60 61.64 L350.30 70.20 L352.65 89.00 L353.35 86.31 L354.05 84.45 L354.75 81.64 L355.45 80.34 L356.15 79.27 L356.85 77.76 L357.55 76.64 L358.25 75.27 L358.95 74.54 L359.65 74.00 L360.35 74.05 L361.05 73.51 L361.75 72.47 L362.45 72.80 L363.15 71.60 L363.85 71.90 L364.55 72.04 L365.25 71.22 L365.95 71.65 L366.65 71.22 L367.35 70.49 L368.05 70.67 L368.75 70.69 L369.45 70.41 L370.15 70.84 L370.85 70.22 L371.55 70.78 L372.25 70.25 L372.95 69.99 L373.65 70.44 L374.35 69.95" fill="none" stroke="#f08626" stroke-width="0.65" stroke-linejoin="round" stroke-linecap="round"/>
<path d="M348.60 70.78 L349.00 66.20 L349.60 62.39 L350.30 70.20 L352.69 85.00 L353.39 82.14 L354.09 80.62 L354.79 78.52 L355.49 77.66 L356.19 75.97 L356.89 75.42 L357.59 74.37 L358.29 73.69 L358.99 73.39 L359.69 72.41 L360.39 72.00 L361.09 72.43 L361.79 71.53 L362.49 71.80 L363.19 71.63 L363.89 71.06 L364.59 70.59 L365.29 70.42 L365.99 71.10 L366.69 70.25 L367.39 70.56 L368.09 70.54 L368.79 70.07 L369.49 70.38 L370.19 70.04 L370.89 70.39 L371.59 70.33 L372.29 70.17 L372.99 69.99 L373.69 70.18 L374.39 69.97" fill="none" stroke="#f08626" stroke-width="0.65" stroke-linejoin="round" stroke-linecap="round"/>
<path d="M348.60 69.68 L349.00 66.20 L349.60 63.21 L350.30 70.20 L351.93 81.00 L352.63 79.68 L353.33 77.36 L354.03 77.08 L354.73 75.60 L355.43 75.05 L356.13 74.10 L356.83 73.61 L357.53 72.64 L358.23 72.73 L358.93 71.77 L359.63 71.58 L360.33 71.09 L361.03 71.24 L361.73 71.18 L362.43 70.80 L363.13 71.27 L363.83 70.36 L364.53 70.76 L365.23 70.34 L365.93 70.64 L366.63 70.77 L367.33 70.65 L368.03 69.97 L368.73 70.12 L369.43 70.44 L370.13 70.80 L370.83 69.84 L371.53 70.40 L372.23 70.46 L372.93 70.58 L373.63 70.09 L374.33 70.55" fill="none" stroke="#f08626" stroke-width="0.65" stroke-linejoin="round" stroke-linecap="round"/>
<path d="M364.30 70.70 L365.50 98.80 L367.30 80.21 L370.00 70.70" fill="none" stroke="#f08626" stroke-width="0.55" stroke-linejoin="round" stroke-linecap="round" stroke-opacity="0.75"/>
<path d="M409.60 70.70 L410.80 98.80 L412.80 80.21 L415.80 70.70" fill="none" stroke="#f08626" stroke-width="0.55" stroke-linejoin="round" stroke-linecap="round" stroke-opacity="0.75"/>
<line x1="441.50" y1="3.20" x2="441.50" y2="30.50" stroke="#111" stroke-width="0.55"/>
<path d="M450.19 20.41 L451.09 18.46 L451.99 20.06 L452.89 19.42 L453.79 19.05 L454.69 17.93 L455.59 17.77 L456.49 19.09 L457.39 19.65 L458.29 18.44 L459.19 18.34 L460.09 17.69 L460.99 17.50 L461.89 17.46 L462.79 17.76 L463.69 19.78 L464.59 20.95 L465.49 21.00 L466.39 20.13 L467.29 19.71 L468.19 20.28 L469.09 20.97 L469.99 20.90 L470.89 20.53 L471.79 19.06 L472.69 19.49 L473.59 20.35 L474.49 20.66 L475.39 18.83 L476.29 19.62 L477.19 19.00 L478.09 18.12 L478.99 19.95 L479.89 20.11 L480.79 20.41 L481.69 18.81 L482.59 19.93 L483.49 20.86 L484.39 21.28 L485.29 21.05 L486.19 21.17 L487.09 21.16 L487.99 20.54 L488.89 19.75 L489.79 20.44 L490.69 20.70 L491.59 21.09 L492.49 19.66 L493.39 20.78 L494.29 20.16 L495.19 21.01 L496.09 19.09 L496.99 20.49 L497.89 20.74 L498.79 19.33 L499.69 20.25 L500.59 19.00 L501.49 18.22 L502.39 18.54 L503.29 18.08 L504.19 18.56 L505.09 20.02 L505.99 20.19 L506.89 20.35 L507.79 19.52 L508.69 20.19 L509.59 20.59 L510.49 20.49 L511.39 21.18 L512.29 21.23 L513.19 20.05 L514.09 18.48 L514.99 19.24 L515.89 20.19 L516.79 19.28 L517.69 19.52 L518.59 20.34 L519.49 20.67 L520.39 18.58" fill="none" stroke="#111" stroke-width="0.75" stroke-linejoin="round" stroke-linecap="round"/>
<path d="M450.27 17.81 L451.17 17.31 L452.07 19.06 L452.97 18.89 L453.87 19.33 L454.77 19.15 L455.67 18.70 L456.57 18.10 L457.47 18.17 L458.37 19.63 L459.27 19.78 L460.17 18.92 L461.07 17.86 L461.97 17.80 L462.87 19.01 L463.77 18.93 L464.67 19.51 L465.57 20.26 L466.47 18.69 L467.37 19.45 L468.27 18.01 L469.17 19.48 L470.07 18.44 L470.97 18.13 L471.87 19.93 L472.77 19.20 L473.67 18.41 L474.57 19.89 L475.47 19.90 L476.37 20.72 L477.27 19.73 L478.17 19.49 L479.07 20.67 L479.97 20.03 L480.87 21.06 L481.77 19.33 L482.67 20.22 L483.57 18.79 L484.47 19.05 L485.37 17.68 L486.27 17.43 L487.17 19.51 L488.07 19.24 L488.97 20.11 L489.87 18.98 L490.77 18.66 L491.67 17.75 L492.57 18.55 L493.47 19.89 L494.37 19.62 L495.27 19.08 L496.17 20.37 L497.07 20.98 L497.97 20.66 L498.87 18.78 L499.77 19.33 L500.67 19.11 L501.57 20.47 L502.47 19.50 L503.37 19.83 L504.27 19.93 L505.17 19.24 L506.07 19.29 L506.97 19.76 L507.87 20.68 L508.77 20.01 L509.67 19.25 L510.57 20.60 L511.47 18.69 L512.37 19.89 L513.27 20.11 L514.17 19.86 L515.07 19.41 L515.97 20.04 L516.87 20.79 L517.77 20.73 L518.67 20.76 L519.57 18.72 L520.47 18.43" fill="none" stroke="#111" stroke-width="0.75" stroke-linejoin="round" stroke-linecap="round"/>
<path d="M449.21 20.50 L450.11 21.04 L451.01 19.19 L451.91 19.45 L452.81 19.56 L453.71 18.09 L454.61 18.28 L455.51 19.41 L456.41 19.72 L457.31 18.86 L458.21 19.77 L459.11 18.91 L460.01 19.17 L460.91 18.95 L461.81 20.44 L462.71 20.31 L463.61 20.69 L464.51 20.53 L465.41 19.59 L466.31 20.75 L467.21 20.65 L468.11 20.55 L469.01 19.30 L469.91 18.28 L470.81 18.91 L471.71 19.98 L472.61 20.47 L473.51 19.46 L474.41 18.31 L475.31 18.75 L476.21 20.04 L477.11 18.69 L478.01 19.61 L478.91 18.47 L479.81 18.26 L480.71 17.40 L481.61 17.63 L482.51 18.00 L483.41 19.88 L484.31 20.91 L485.21 19.24 L486.11 18.67 L487.01 20.19 L487.91 18.87 L488.81 18.50 L489.71 18.64 L490.61 17.76 L491.51 17.72 L492.41 18.08 L493.31 18.25 L494.21 20.02 L495.11 18.98 L496.01 18.22 L496.91 19.84 L497.81 19.41 L498.71 20.29 L499.61 20.19 L500.51 20.55 L501.41 19.41 L502.31 18.31 L503.21 19.45 L504.11 19.25 L505.01 19.40 L505.91 19.80 L506.81 20.26 L507.71 19.13 L508.61 18.77 L509.51 20.17 L510.41 19.82 L511.31 18.93 L512.21 19.43 L513.11 18.63 L514.01 19.67 L514.91 18.14 L515.81 19.56 L516.71 19.59 L517.61 18.99 L518.51 20.35 L519.41 19.16 L520.31 18.44" fill="none" stroke="#111" stroke-width="0.75" stroke-linejoin="round" stroke-linecap="round"/>
<path d="M449.01 19.34 L449.91 20.01 L450.81 20.16 L451.71 19.48 L452.61 20.24 L453.51 18.65 L454.41 18.34 L455.31 19.15 L456.21 20.52 L457.11 20.31 L458.01 20.36 L458.91 20.63 L459.81 19.68 L460.71 20.73 L461.61 20.74 L462.51 19.59 L463.41 19.11 L464.31 20.03 L465.21 19.22 L466.11 18.31 L467.01 19.78 L467.91 19.61 L468.81 19.49 L469.71 19.85 L470.61 20.71 L471.51 18.98 L472.41 18.61 L473.31 17.63 L474.21 18.08 L475.11 18.59 L476.01 19.88 L476.91 20.06 L477.81 19.90 L478.71 19.31 L479.61 19.47 L480.51 18.70 L481.41 19.92 L482.31 20.42 L483.21 20.85 L484.11 19.10 L485.01 19.64 L485.91 20.17 L486.81 19.74 L487.71 20.64 L488.61 21.14 L489.51 20.97 L490.41 21.10 L491.31 20.67 L492.21 21.10 L493.11 19.18 L494.01 19.78 L494.91 20.11 L495.81 20.02 L496.71 19.00 L497.61 17.85 L498.51 18.75 L499.41 19.89 L500.31 18.92 L501.21 18.22 L502.11 17.87 L503.01 17.30 L503.91 18.66 L504.81 20.27 L505.71 20.66 L506.61 19.60 L507.51 19.99 L508.41 18.40 L509.31 19.74 L510.21 18.99 L511.11 17.66 L512.01 18.72 L512.91 17.90 L513.81 17.84 L514.71 17.18 L515.61 17.93 L516.51 18.66 L517.41 19.79 L518.31 18.20 L519.21 19.59 L520.11 18.29" fill="none" stroke="#111" stroke-width="0.75" stroke-linejoin="round" stroke-linecap="round"/>
<path d="M449.47 19.57 L450.37 18.94 L451.27 18.57 L452.17 19.05 L453.07 18.31 L453.97 19.55 L454.87 18.56 L455.77 19.82 L456.67 20.43 L457.57 19.98 L458.47 18.28 L459.37 19.49 L460.27 18.00 L461.17 18.56 L462.07 18.63 L462.97 17.63 L463.87 18.71 L464.77 19.58 L465.67 19.65 L466.57 19.16 L467.47 19.21 L468.37 19.46 L469.27 18.56 L470.17 19.90 L471.07 21.02 L471.97 21.07 L472.87 21.56 L473.77 20.01 L474.67 21.04 L475.57 18.98 L476.47 19.02 L477.37 18.04 L478.27 18.43 L479.17 19.30 L480.07 19.86 L480.97 19.43 L481.87 18.87 L482.77 18.13 L483.67 18.33 L484.57 18.10 L485.47 17.71 L486.37 19.06 L487.27 19.17 L488.17 19.01 L489.07 18.22 L489.97 19.25 L490.87 18.35 L491.77 18.06 L492.67 18.75 L493.57 19.53 L494.47 20.74 L495.37 20.76 L496.27 21.35 L497.17 21.59 L498.07 21.16 L498.97 20.91 L499.87 18.88 L500.77 18.18 L501.67 17.23 L502.57 19.17 L503.47 19.82 L504.37 19.92 L505.27 18.91 L506.17 18.63 L507.07 17.92 L507.97 18.87 L508.87 20.44 L509.77 19.32 L510.67 17.95 L511.57 17.58 L512.47 17.89 L513.37 19.63 L514.27 20.31 L515.17 19.68 L516.07 18.32 L516.97 17.58 L517.87 17.31 L518.77 18.96 L519.67 18.99" fill="none" stroke="#111" stroke-width="0.75" stroke-linejoin="round" stroke-linecap="round"/>
<path d="M451.77 20.39 L452.67 20.70 L453.57 19.96 L454.47 20.54 L455.37 18.87 L456.27 17.89 L457.17 18.66 L458.07 18.93 L458.97 18.21 L459.87 17.94 L460.77 17.13 L461.67 19.24 L462.57 19.83 L463.47 20.83 L464.37 21.48 L465.27 20.27 L466.17 20.46 L467.07 19.56 L467.97 20.30 L468.87 20.79 L469.77 19.02 L470.67 17.70 L471.57 17.55 L472.47 18.54 L473.37 18.49 L474.27 17.39 L475.17 19.16 L476.07 20.00 L476.97 19.54 L477.87 18.07 L478.77 19.70 L479.67 19.57 L480.57 18.17 L481.47 18.12 L482.37 18.97 L483.27 20.18 L484.17 19.70 L485.07 19.87 L485.97 18.72 L486.87 18.20 L487.77 19.82 L488.67 19.20 L489.57 18.06 L490.47 18.84 L491.37 17.92 L492.27 17.63 L493.17 18.21 L494.07 18.90 L494.97 19.43 L495.87 19.92 L496.77 19.42 L497.67 18.08 L498.57 19.23 L499.47 17.93 L500.37 18.42 L501.27 18.48 L502.17 19.30 L503.07 19.87 L503.97 18.82 L504.87 19.42 L505.77 19.88 L506.67 19.49 L507.57 18.33 L508.47 19.90 L509.37 19.87 L510.27 18.31 L511.17 17.96 L512.07 19.92 L512.97 18.81 L513.87 18.68 L514.77 19.74 L515.67 20.43 L516.57 20.26 L517.47 20.48 L518.37 18.57 L519.27 17.69 L520.17 19.74" fill="none" stroke="#111" stroke-width="0.75" stroke-linejoin="round" stroke-linecap="round"/>
<path d="M451.21 17.87 L452.11 17.17 L453.01 17.34 L453.91 19.41 L454.81 18.51 L455.71 19.32 L456.61 20.50 L457.51 20.32 L458.41 21.02 L459.31 19.52 L460.21 18.38 L461.11 17.36 L462.01 18.93 L462.91 17.91 L463.81 19.85 L464.71 20.16 L465.61 18.83 L466.51 19.88 L467.41 18.60 L468.31 18.91 L469.21 17.90 L470.11 19.31 L471.01 20.38 L471.91 21.05 L472.81 18.78 L473.71 19.98 L474.61 19.79 L475.51 20.45 L476.41 19.90 L477.31 19.93 L478.21 19.87 L479.11 20.43 L480.01 18.66 L480.91 17.62 L481.81 18.46 L482.71 18.19 L483.61 18.35 L484.51 17.31 L485.41 18.87 L486.31 17.65 L487.21 19.30 L488.11 20.15 L489.01 19.60 L489.91 18.33 L490.81 19.16 L491.71 18.33 L492.61 18.52 L493.51 17.70 L494.41 19.75 L495.31 19.63 L496.21 19.01 L497.11 17.93 L498.01 19.16 L498.91 20.19 L499.81 20.75 L500.71 18.90 L501.61 18.66 L502.51 18.33 L503.41 19.48 L504.31 18.34 L505.21 19.03 L506.11 20.49 L507.01 20.68 L507.91 18.59 L508.81 17.64 L509.71 17.23 L510.61 18.67 L511.51 19.19 L512.41 19.25 L513.31 19.10 L514.21 18.88 L515.11 19.34 L516.01 19.71 L516.91 20.68 L517.81 20.68 L518.71 20.87 L519.61 21.31" fill="none" stroke="#111" stroke-width="0.75" stroke-linejoin="round" stroke-linecap="round"/>
<path d="M451.31 19.82 L452.21 18.19 L453.11 19.17 L454.01 20.19 L454.91 19.54 L455.81 20.48 L456.71 18.98 L457.61 20.35 L458.51 19.67 L459.41 20.05 L460.31 18.96 L461.21 18.49 L462.11 18.37 L463.01 18.24 L463.91 17.50 L464.81 18.10 L465.71 19.98 L466.61 20.07 L467.51 20.93 L468.41 20.90 L469.31 21.11 L470.21 21.67 L471.11 21.29 L472.01 19.70 L472.91 18.75 L473.81 18.70 L474.71 17.55 L475.61 17.52 L476.51 19.39 L477.41 20.51 L478.31 19.43 L479.21 20.11 L480.11 20.49 L481.01 21.03 L481.91 21.06 L482.81 20.31 L483.71 18.67 L484.61 19.85 L485.51 19.02 L486.41 19.47 L487.31 18.96 L488.21 19.18 L489.11 20.53 L490.01 18.95 L490.91 19.15 L491.81 19.61 L492.71 19.53 L493.61 20.65 L494.51 19.73 L495.41 20.68 L496.31 20.56 L497.21 21.30 L498.11 19.17 L499.01 18.36 L499.91 18.12 L500.81 19.78 L501.71 18.12 L502.61 17.91 L503.51 19.11 L504.41 20.56 L505.31 19.02 L506.21 18.92 L507.11 19.58 L508.01 19.96 L508.91 20.33 L509.81 20.55 L510.71 19.22 L511.61 18.51 L512.51 17.46 L513.41 18.79 L514.31 18.14 L515.21 17.92 L516.11 19.84 L517.01 19.96 L517.91 19.88 L518.81 20.02 L519.71 19.94" fill="none" stroke="#111" stroke-width="0.75" stroke-linejoin="round" stroke-linecap="round"/>
<path d="M450.88 18.64 L451.78 17.63 L452.68 17.09 L453.58 16.64 L454.48 17.39 L455.38 17.18 L456.28 16.97 L457.18 17.96 L458.08 19.87 L458.98 20.11 L459.88 19.05 L460.78 19.89 L461.68 18.65 L462.58 17.75 L463.48 17.83 L464.38 18.19 L465.28 19.19 L466.18 19.04 L467.08 19.77 L467.98 18.34 L468.88 19.97 L469.78 19.17 L470.68 20.14 L471.58 18.37 L472.48 19.69 L473.38 18.68 L474.28 19.94 L475.18 20.48 L476.08 20.39 L476.98 19.22 L477.88 17.80 L478.78 17.54 L479.68 19.45 L480.58 18.35 L481.48 19.19 L482.38 19.45 L483.28 19.80 L484.18 18.61 L485.08 17.85 L485.98 17.30 L486.88 19.54 L487.78 19.05 L488.68 19.56 L489.58 19.60 L490.48 18.62 L491.38 17.63 L492.28 16.94 L493.18 18.97 L494.08 18.01 L494.98 19.88 L495.88 19.18 L496.78 19.83 L497.68 18.51 L498.58 19.65 L499.48 18.73 L500.38 18.56 L501.28 18.91 L502.18 17.92 L503.08 17.77 L503.98 19.27 L504.88 18.62 L505.78 18.54 L506.68 19.60 L507.58 18.62 L508.48 18.00 L509.38 17.73 L510.28 18.06 L511.18 18.18 L512.08 19.05 L512.98 19.04 L513.88 20.17 L514.78 18.44 L515.68 19.25 L516.58 20.20 L517.48 18.99 L518.38 17.73 L519.28 18.21 L520.18 17.55" fill="none" stroke="#111" stroke-width="0.75" stroke-linejoin="round" stroke-linecap="round"/>
<path d="M441.80 19.62 L441.70 15.20 L442.30 4.28 L443.00 19.20 L445.01 48.70 L445.71 41.16 L446.41 35.25 L447.11 31.13 L447.81 28.23 L448.51 25.59 L449.21 23.81 L449.91 22.82 L450.61 21.97 L451.31 21.72 L452.01 20.81 L452.71 19.93 L453.41 19.79 L454.11 20.09 L454.81 19.74 L455.51 19.93 L456.21 19.93 L456.91 19.76 L457.61 18.96 L458.31 19.75 L459.01 19.31 L459.71 19.00 L460.41 18.92 L461.11 19.60 L461.81 18.94 L462.51 18.80 L463.21 18.98 L463.91 19.63 L464.61 19.17 L465.31 19.44 L466.01 18.78 L466.71 19.16 L467.41 19.02" fill="none" stroke="#111" stroke-width="1.4" stroke-linejoin="round" stroke-linecap="round"/>
<path d="M441.80 19.53 L441.70 15.20 L442.30 5.08 L443.00 19.20 L444.73 47.00 L445.43 40.40 L446.13 34.62 L446.83 30.39 L447.53 27.29 L448.23 25.75 L448.93 23.98 L449.63 22.28 L450.33 21.82 L451.03 21.41 L451.73 20.71 L452.43 20.03 L453.13 20.02 L453.83 19.91 L454.53 19.80 L455.23 19.18 L455.93 19.76 L456.63 19.83 L457.33 19.58 L458.03 19.66 L458.73 19.15 L459.43 19.66 L460.13 18.92 L460.83 18.96 L461.53 19.32 L462.23 19.62 L462.93 18.80 L463.63 18.93 L464.33 18.74 L465.03 19.14 L465.73 18.84 L466.43 18.89 L467.13 19.45" fill="none" stroke="#111" stroke-width="0.65" stroke-linejoin="round" stroke-linecap="round"/>
<path d="M441.80 20.08 L441.70 15.20 L442.30 5.21 L443.00 19.20 L445.14 45.00 L445.84 39.42 L446.54 36.26 L447.24 32.27 L447.94 29.88 L448.64 27.80 L449.34 26.54 L450.04 24.72 L450.74 24.13 L451.44 22.88 L452.14 21.77 L452.84 21.83 L453.54 20.74 L454.24 21.18 L454.94 20.34 L455.64 19.88 L456.34 20.42 L457.04 19.63 L457.74 19.60 L458.44 19.44 L459.14 19.69 L459.84 18.98 L460.54 19.28 L461.24 19.03 L461.94 19.66 L462.64 18.81 L463.34 19.39 L464.04 19.03 L464.74 19.21 L465.44 19.31 L466.14 19.45 L466.84 18.87" fill="none" stroke="#111" stroke-width="0.65" stroke-linejoin="round" stroke-linecap="round"/>
<path d="M441.80 18.44 L441.70 15.20 L442.30 6.88 L443.00 19.20 L444.76 42.00 L445.46 35.92 L446.16 32.02 L446.86 28.87 L447.56 26.77 L448.26 24.14 L448.96 22.96 L449.66 21.89 L450.36 21.55 L451.06 20.85 L451.76 20.38 L452.46 20.54 L453.16 20.07 L453.86 20.09 L454.56 20.06 L455.26 19.27 L455.96 19.87 L456.66 19.28 L457.36 18.88 L458.06 19.71 L458.76 18.87 L459.46 18.77 L460.16 19.03 L460.86 19.02 L461.56 19.69 L462.26 19.59 L462.96 19.13 L463.66 19.24 L464.36 19.56 L465.06 19.51 L465.76 19.36 L466.46 19.22 L467.16 18.82" fill="none" stroke="#111" stroke-width="0.65" stroke-linejoin="round" stroke-linecap="round"/>
<path d="M441.80 19.52 L441.70 15.20 L442.30 5.76 L443.00 19.20 L444.77 30.00 L445.47 28.37 L446.17 26.78 L446.87 24.67 L447.57 23.46 L448.27 23.40 L448.97 22.36 L449.67 21.39 L450.37 21.43 L451.07 20.61 L451.77 20.28 L452.47 20.15 L453.17 20.11 L453.87 20.09 L454.57 19.36 L455.27 19.91 L455.97 19.71 L456.67 19.48 L457.37 19.62 L458.07 19.70 L458.77 18.88 L459.47 19.31 L460.17 19.49 L460.87 19.50 L461.57 19.42 L462.27 18.94 L462.97 19.71 L463.67 19.52 L464.37 18.96 L465.07 19.16 L465.77 19.68 L466.47 18.92 L467.17 19.12" fill="none" stroke="#111" stroke-width="0.65" stroke-linejoin="round" stroke-linecap="round"/>
<path d="M456.60 19.70 L457.80 34.50 L459.60 24.55 L462.30 19.70" fill="none" stroke="#111" stroke-width="0.55" stroke-linejoin="round" stroke-linecap="round" stroke-opacity="0.75"/>
<path d="M491.10 19.70 L492.30 34.50 L494.30 24.55 L497.30 19.70" fill="none" stroke="#111" stroke-width="0.55" stroke-linejoin="round" stroke-linecap="round" stroke-opacity="0.75"/>
<line x1="441.50" y1="61.00" x2="441.50" y2="92.40" stroke="#111" stroke-width="0.55"/>
<path d="M453.18 71.35 L454.08 70.06 L454.98 70.80 L455.88 70.13 L456.78 70.63 L457.68 71.21 L458.58 69.68 L459.48 69.12 L460.38 68.78 L461.28 68.75 L462.18 68.06 L463.08 67.98 L463.98 68.71 L464.88 69.15 L465.78 68.41 L466.68 69.45 L467.58 71.06 L468.48 70.90 L469.38 70.17 L470.28 70.77 L471.18 70.33 L472.08 69.34 L472.98 69.67 L473.88 68.52 L474.78 69.78 L475.68 68.99 L476.58 69.16 L477.48 70.96 L478.38 71.39 L479.28 71.82 L480.18 71.50 L481.08 71.30 L481.98 71.40 L482.88 72.20 L483.78 70.43 L484.68 71.09 L485.58 70.12 L486.48 69.45 L487.38 70.71 L488.28 70.77 L489.18 71.52 L490.08 72.01 L490.98 71.45 L491.88 70.02 L492.78 68.70 L493.68 69.48 L494.58 70.45 L495.48 69.68 L496.38 68.68 L497.28 67.94 L498.18 68.01 L499.08 69.56 L499.98 68.42 L500.88 68.44 L501.78 68.56 L502.68 69.90 L503.58 71.44 L504.48 69.50 L505.38 68.70 L506.28 70.63 L507.18 71.79 L508.08 70.06 L508.98 69.65 L509.88 69.96 L510.78 69.55 L511.68 69.61 L512.58 69.81 L513.48 69.29 L514.38 68.42 L515.28 68.02 L516.18 68.03 L517.08 67.83 L517.98 69.25 L518.88 70.25 L519.78 69.54" fill="none" stroke="#111" stroke-width="0.75" stroke-linejoin="round" stroke-linecap="round"/>
<path d="M452.68 70.86 L453.58 70.11 L454.48 70.12 L455.38 69.26 L456.28 70.92 L457.18 70.77 L458.08 69.22 L458.98 68.66 L459.88 69.91 L460.78 69.71 L461.68 70.56 L462.58 69.62 L463.48 70.73 L464.38 71.36 L465.28 69.67 L466.18 70.16 L467.08 69.29 L467.98 70.30 L468.88 71.13 L469.78 71.55 L470.68 70.17 L471.58 69.01 L472.48 70.02 L473.38 70.29 L474.28 69.21 L475.18 68.77 L476.08 69.65 L476.98 68.77 L477.88 69.80 L478.78 69.23 L479.68 68.97 L480.58 69.30 L481.48 69.80 L482.38 70.63 L483.28 69.08 L484.18 70.23 L485.08 69.41 L485.98 69.17 L486.88 70.03 L487.78 70.66 L488.68 70.78 L489.58 71.68 L490.48 70.16 L491.38 69.64 L492.28 70.36 L493.18 69.60 L494.08 68.88 L494.98 68.69 L495.88 70.15 L496.78 71.11 L497.68 71.33 L498.58 72.14 L499.48 72.11 L500.38 70.71 L501.28 69.95 L502.18 70.70 L503.08 69.19 L503.98 69.96 L504.88 68.89 L505.78 68.18 L506.68 69.13 L507.58 68.61 L508.48 70.57 L509.38 71.49 L510.28 70.80 L511.18 69.66 L512.08 68.81 L512.98 69.45 L513.88 69.85 L514.78 69.61 L515.68 70.50 L516.58 70.45 L517.48 71.13 L518.38 69.58 L519.28 68.62 L520.18 69.01" fill="none" stroke="#111" stroke-width="0.75" stroke-linejoin="round" stroke-linecap="round"/>
<path d="M451.75 69.49 L452.65 70.29 L453.55 69.45 L454.45 69.26 L455.35 69.62 L456.25 70.49 L457.15 71.14 L458.05 70.35 L458.95 70.13 L459.85 71.39 L460.75 72.11 L461.65 71.59 L462.55 69.83 L463.45 69.87 L464.35 70.41 L465.25 69.68 L466.15 68.58 L467.05 70.70 L467.95 71.65 L468.85 69.93 L469.75 69.95 L470.65 70.41 L471.55 69.74 L472.45 68.70 L473.35 70.10 L474.25 70.92 L475.15 70.42 L476.05 69.13 L476.95 69.30 L477.85 68.54 L478.75 70.62 L479.65 69.14 L480.55 69.01 L481.45 70.31 L482.35 69.21 L483.25 68.52 L484.15 68.04 L485.05 68.05 L485.95 69.11 L486.85 70.56 L487.75 69.44 L488.65 68.84 L489.55 70.22 L490.45 70.00 L491.35 69.62 L492.25 68.80 L493.15 68.69 L494.05 70.73 L494.95 69.39 L495.85 69.06 L496.75 70.27 L497.65 71.36 L498.55 72.00 L499.45 71.11 L500.35 72.02 L501.25 71.50 L502.15 70.31 L503.05 70.16 L503.95 70.80 L504.85 71.20 L505.75 69.69 L506.65 69.03 L507.55 70.88 L508.45 69.44 L509.35 70.69 L510.25 70.00 L511.15 69.37 L512.05 69.04 L512.95 69.47 L513.85 71.21 L514.75 69.74 L515.65 70.97 L516.55 70.11 L517.45 69.21 L518.35 70.36 L519.25 69.83 L520.15 69.10" fill="none" stroke="#111" stroke-width="0.75" stroke-linejoin="round" stroke-linecap="round"/>
<path d="M451.56 71.13 L452.46 71.76 L453.36 71.27 L454.26 69.38 L455.16 70.51 L456.06 70.68 L456.96 71.61 L457.86 72.28 L458.76 70.85 L459.66 71.56 L460.56 71.87 L461.46 70.44 L462.36 69.95 L463.26 69.70 L464.16 69.50 L465.06 69.46 L465.96 68.67 L466.86 68.57 L467.76 70.49 L468.66 70.10 L469.56 70.54 L470.46 71.50 L471.36 71.65 L472.26 70.26 L473.16 71.44 L474.06 71.76 L474.96 72.47 L475.86 72.11 L476.76 71.98 L477.66 72.08 L478.56 70.52 L479.46 70.83 L480.36 70.20 L481.26 71.18 L482.16 69.68 L483.06 70.03 L483.96 69.63 L484.86 70.81 L485.76 70.09 L486.66 71.13 L487.56 71.71 L488.46 72.12 L489.36 70.22 L490.26 71.47 L491.16 71.60 L492.06 71.48 L492.96 71.34 L493.86 69.53 L494.76 70.90 L495.66 70.72 L496.56 70.36 L497.46 69.82 L498.36 70.81 L499.26 71.35 L500.16 71.90 L501.06 70.31 L501.96 69.80 L502.86 69.26 L503.76 68.53 L504.66 68.78 L505.56 68.06 L506.46 69.88 L507.36 69.24 L508.26 68.43 L509.16 67.98 L510.06 69.68 L510.96 69.04 L511.86 69.45 L512.76 69.51 L513.66 70.69 L514.56 71.78 L515.46 70.52 L516.36 70.76 L517.26 71.64 L518.16 70.91 L519.06 71.74 L519.96 71.72" fill="none" stroke="#111" stroke-width="0.75" stroke-linejoin="round" stroke-linecap="round"/>
<path d="M451.23 71.28 L452.13 71.00 L453.03 69.51 L453.93 70.07 L454.83 71.08 L455.73 70.74 L456.63 70.45 L457.53 70.10 L458.43 71.24 L459.33 71.25 L460.23 69.94 L461.13 69.66 L462.03 69.51 L462.93 71.14 L463.83 71.28 L464.73 69.71 L465.63 71.13 L466.53 69.37 L467.43 70.01 L468.33 69.90 L469.23 70.66 L470.13 70.25 L471.03 69.05 L471.93 69.64 L472.83 70.81 L473.73 71.37 L474.63 70.43 L475.53 69.53 L476.43 70.53 L477.33 71.25 L478.23 69.97 L479.13 71.18 L480.03 72.16 L480.93 71.08 L481.83 70.34 L482.73 70.88 L483.63 71.81 L484.53 70.23 L485.43 69.64 L486.33 69.40 L487.23 70.43 L488.13 69.42 L489.03 69.91 L489.93 70.04 L490.83 70.60 L491.73 69.39 L492.63 71.07 L493.53 72.12 L494.43 71.43 L495.33 71.73 L496.23 70.13 L497.13 71.34 L498.03 70.98 L498.93 71.37 L499.83 71.91 L500.73 70.74 L501.63 71.72 L502.53 70.19 L503.43 68.82 L504.33 69.45 L505.23 70.94 L506.13 71.76 L507.03 72.37 L507.93 71.42 L508.83 72.12 L509.73 71.43 L510.63 69.85 L511.53 70.38 L512.43 71.18 L513.33 70.52 L514.23 70.67 L515.13 69.76 L516.03 69.32 L516.93 69.48 L517.83 69.84 L518.73 69.91 L519.63 68.87" fill="none" stroke="#111" stroke-width="0.75" stroke-linejoin="round" stroke-linecap="round"/>
<path d="M450.32 69.74 L451.22 70.57 L452.12 71.12 L453.02 69.95 L453.92 69.36 L454.82 69.78 L455.72 69.04 L456.62 69.86 L457.52 71.18 L458.42 69.88 L459.32 70.27 L460.22 70.87 L461.12 71.29 L462.02 71.41 L462.92 71.47 L463.82 70.24 L464.72 71.20 L465.62 71.97 L466.52 69.89 L467.42 71.31 L468.32 70.64 L469.22 69.25 L470.12 68.44 L471.02 70.09 L471.92 70.65 L472.82 69.42 L473.72 69.65 L474.62 70.30 L475.52 71.69 L476.42 70.55 L477.32 71.16 L478.22 69.99 L479.12 69.22 L480.02 68.68 L480.92 69.11 L481.82 69.94 L482.72 69.49 L483.62 68.84 L484.52 68.64 L485.42 68.15 L486.32 68.19 L487.22 68.56 L488.12 69.31 L489.02 68.80 L489.92 69.37 L490.82 69.57 L491.72 71.22 L492.62 70.72 L493.52 71.77 L494.42 70.98 L495.32 69.76 L496.22 70.22 L497.12 69.19 L498.02 68.69 L498.92 68.14 L499.82 69.65 L500.72 71.24 L501.62 70.49 L502.52 69.94 L503.42 69.84 L504.32 69.58 L505.22 70.41 L506.12 70.00 L507.02 69.09 L507.92 70.64 L508.82 70.65 L509.72 69.03 L510.62 70.56 L511.52 71.06 L512.42 70.25 L513.32 70.60 L514.22 71.63 L515.12 70.70 L516.02 70.28 L516.92 69.66 L517.82 70.06 L518.72 70.59 L519.62 71.09" fill="none" stroke="#111" stroke-width="0.75" stroke-linejoin="round" stroke-linecap="round"/>
<path d="M453.15 69.18 L454.05 69.25 L454.95 70.69 L455.85 71.31 L456.75 71.07 L457.65 71.19 L458.55 70.28 L459.45 71.53 L460.35 71.07 L461.25 70.40 L462.15 69.39 L463.05 68.65 L463.95 70.49 L464.85 71.23 L465.75 69.40 L466.65 69.25 L467.55 69.62 L468.45 69.87 L469.35 69.62 L470.25 71.02 L471.15 70.22 L472.05 70.30 L472.95 71.49 L473.85 71.31 L474.75 70.75 L475.65 70.02 L476.55 69.77 L477.45 70.28 L478.35 71.07 L479.25 69.99 L480.15 69.71 L481.05 69.61 L481.95 69.48 L482.85 70.99 L483.75 70.75 L484.65 69.86 L485.55 69.53 L486.45 70.76 L487.35 69.53 L488.25 70.38 L489.15 68.92 L490.05 68.61 L490.95 68.06 L491.85 69.90 L492.75 69.02 L493.65 68.77 L494.55 68.14 L495.45 68.39 L496.35 69.87 L497.25 70.65 L498.15 71.63 L499.05 72.27 L499.95 71.49 L500.85 72.12 L501.75 70.08 L502.65 71.36 L503.55 70.65 L504.45 69.56 L505.35 70.56 L506.25 71.43 L507.15 70.55 L508.05 69.22 L508.95 70.74 L509.85 71.22 L510.75 71.04 L511.65 72.04 L512.55 69.88 L513.45 68.75 L514.35 68.32 L515.25 67.79 L516.15 69.47 L517.05 70.17 L517.95 69.07 L518.85 68.60 L519.75 68.40" fill="none" stroke="#111" stroke-width="0.75" stroke-linejoin="round" stroke-linecap="round"/>
<path d="M452.13 70.70 L453.03 71.83 L453.93 70.69 L454.83 71.85 L455.73 70.92 L456.63 70.28 L457.53 69.53 L458.43 69.06 L459.33 70.94 L460.23 72.03 L461.13 71.80 L462.03 70.14 L462.93 69.25 L463.83 68.67 L464.73 68.93 L465.63 70.19 L466.53 68.92 L467.43 69.58 L468.33 70.38 L469.23 68.96 L470.13 69.34 L471.03 70.57 L471.93 70.62 L472.83 70.29 L473.73 71.35 L474.63 71.12 L475.53 70.24 L476.43 69.92 L477.33 71.32 L478.23 71.85 L479.13 72.30 L480.03 71.53 L480.93 69.90 L481.83 69.10 L482.73 69.26 L483.63 70.23 L484.53 68.79 L485.43 70.29 L486.33 71.08 L487.23 70.72 L488.13 69.06 L489.03 70.43 L489.93 70.08 L490.83 70.62 L491.73 70.63 L492.63 71.10 L493.53 70.43 L494.43 71.65 L495.33 72.31 L496.23 72.60 L497.13 71.85 L498.03 70.58 L498.93 70.05 L499.83 69.45 L500.73 70.95 L501.63 71.46 L502.53 71.72 L503.43 71.96 L504.33 72.58 L505.23 72.05 L506.13 70.70 L507.03 71.21 L507.93 70.07 L508.83 70.45 L509.73 69.35 L510.63 70.76 L511.53 70.48 L512.43 69.71 L513.33 71.15 L514.23 69.52 L515.13 71.06 L516.03 71.42 L516.93 69.86 L517.83 70.76 L518.73 70.72 L519.63 71.66" fill="none" stroke="#111" stroke-width="0.75" stroke-linejoin="round" stroke-linecap="round"/>
<path d="M452.06 69.99 L452.96 71.33 L453.86 69.63 L454.76 70.69 L455.66 69.32 L456.56 69.08 L457.46 68.47 L458.36 70.32 L459.26 70.10 L460.16 70.80 L461.06 69.83 L461.96 70.66 L462.86 70.88 L463.76 69.42 L464.66 69.75 L465.56 70.59 L466.46 69.59 L467.36 70.31 L468.26 69.62 L469.16 69.51 L470.06 71.03 L470.96 71.93 L471.86 72.59 L472.76 71.30 L473.66 71.01 L474.56 71.54 L475.46 71.68 L476.36 70.89 L477.26 71.63 L478.16 70.70 L479.06 71.77 L479.96 70.99 L480.86 69.53 L481.76 70.55 L482.66 69.37 L483.56 70.26 L484.46 68.95 L485.36 70.92 L486.26 70.71 L487.16 71.17 L488.06 69.67 L488.96 70.30 L489.86 69.90 L490.76 69.31 L491.66 70.62 L492.56 69.09 L493.46 69.52 L494.36 68.64 L495.26 70.35 L496.16 71.42 L497.06 69.53 L497.96 69.73 L498.86 69.85 L499.76 70.64 L500.66 71.10 L501.56 70.24 L502.46 71.47 L503.36 69.99 L504.26 69.04 L505.16 70.47 L506.06 69.25 L506.96 68.77 L507.86 69.42 L508.76 69.30 L509.66 68.74 L510.56 70.63 L511.46 70.36 L512.36 71.11 L513.26 69.98 L514.16 71.27 L515.06 69.98 L515.96 71.25 L516.86 71.10 L517.76 72.05 L518.66 72.00 L519.56 71.57 L520.46 71.05" fill="none" stroke="#111" stroke-width="0.75" stroke-linejoin="round" stroke-linecap="round"/>
<path d="M441.80 70.09 L443.60 66.20 L444.20 60.80 L444.90 70.20 L446.77 105.00 L447.47 101.60 L448.17 98.17 L448.87 95.28 L449.57 92.12 L450.27 89.99 L450.97 88.24 L451.67 86.49 L452.37 84.77 L453.07 82.50 L453.77 81.68 L454.47 80.35 L455.17 79.13 L455.87 77.93 L456.57 77.04 L457.27 76.61 L457.97 75.94 L458.67 75.11 L459.37 74.66 L460.07 74.36 L460.77 74.13 L461.47 73.57 L462.17 72.79 L462.87 73.20 L463.57 72.41 L464.27 72.75 L464.97 72.55 L465.67 71.51 L466.37 71.77 L467.07 72.00 L467.77 71.28 L468.47 71.31" fill="none" stroke="#111" stroke-width="1.5" stroke-linejoin="round" stroke-linecap="round"/>
<path d="M441.80 69.26 L443.60 66.20 L444.20 61.11 L444.90 70.20 L446.28 104.00 L446.98 98.62 L447.68 94.59 L448.38 90.82 L449.08 88.07 L449.78 85.14 L450.48 82.57 L451.18 81.24 L451.88 79.31 L452.58 77.85 L453.28 77.01 L453.98 75.83 L454.68 74.69 L455.38 74.22 L456.08 73.32 L456.78 73.48 L457.48 72.33 L458.18 72.69 L458.88 71.48 L459.58 71.16 L460.28 71.48 L460.98 70.95 L461.68 71.09 L462.38 70.57 L463.08 71.17 L463.78 70.91 L464.48 70.84 L465.18 71.01 L465.88 71.02 L466.58 70.65 L467.28 70.65 L467.98 69.90 L468.68 69.92" fill="none" stroke="#111" stroke-width="0.65" stroke-linejoin="round" stroke-linecap="round"/>
<path d="M441.80 71.14 L443.60 66.20 L444.20 61.44 L444.90 70.20 L446.38 102.50 L447.08 98.05 L447.78 94.98 L448.48 92.41 L449.18 89.42 L449.88 87.31 L450.58 84.44 L451.28 82.82 L451.98 81.22 L452.68 80.48 L453.38 78.53 L454.08 78.29 L454.78 76.68 L455.48 76.47 L456.18 75.38 L456.88 74.56 L457.58 74.64 L458.28 73.60 L458.98 73.46 L459.68 72.45 L460.38 72.89 L461.08 72.75 L461.78 71.62 L462.48 72.04 L463.18 71.37 L463.88 71.07 L464.58 71.14 L465.28 71.30 L465.98 71.48 L466.68 71.42 L467.38 71.33 L468.08 70.88 L468.78 70.84" fill="none" stroke="#111" stroke-width="0.65" stroke-linejoin="round" stroke-linecap="round"/>
<path d="M441.80 70.65 L443.60 66.20 L444.20 62.15 L444.90 70.20 L446.15 100.00 L446.85 96.37 L447.55 92.24 L448.25 89.11 L448.95 86.52 L449.65 84.26 L450.35 82.75 L451.05 81.28 L451.75 79.18 L452.45 78.26 L453.15 77.25 L453.85 76.29 L454.55 75.33 L455.25 74.75 L455.95 73.61 L456.65 73.13 L457.35 73.04 L458.05 72.46 L458.75 72.64 L459.45 71.83 L460.15 72.15 L460.85 71.35 L461.55 71.01 L462.25 71.23 L462.95 71.00 L463.65 70.82 L464.35 71.15 L465.05 70.51 L465.75 70.88 L466.45 70.98 L467.15 70.53 L467.85 70.53 L468.55 70.91" fill="none" stroke="#111" stroke-width="0.65" stroke-linejoin="round" stroke-linecap="round"/>
<path d="M441.80 69.56 L443.60 66.20 L444.20 60.71 L444.90 70.20 L446.54 97.00 L447.24 92.64 L447.94 88.86 L448.64 86.44 L449.34 83.70 L450.04 81.46 L450.74 79.88 L451.44 78.79 L452.14 76.82 L452.84 75.66 L453.54 74.90 L454.24 74.16 L454.94 74.10 L455.64 73.35 L456.34 72.61 L457.04 71.96 L457.74 71.51 L458.44 71.31 L459.14 71.80 L459.84 71.41 L460.54 70.75 L461.24 71.08 L461.94 70.40 L462.64 70.74 L463.34 70.49 L464.04 70.18 L464.74 70.77 L465.44 70.69 L466.14 70.44 L466.84 70.06 L467.54 70.53 L468.24 70.27 L468.94 70.48" fill="none" stroke="#111" stroke-width="0.65" stroke-linejoin="round" stroke-linecap="round"/>
<line x1="326.40" y1="78.80" x2="326.40" y2="93.10" stroke="#333" stroke-width="1.1"/>
<text x="323.00" y="87.80" font-size="4.5" fill="#333" text-anchor="middle" textLength="16.00" lengthAdjust="spacingAndGlyphs" transform="rotate(-90 323.00 87.80)">0.1 mV</text>
<line x1="325.20" y1="101.40" x2="343.40" y2="101.40" stroke="#333" stroke-width="1.1"/>
<text x="334.30" y="107.00" font-size="5.0" fill="#333" text-anchor="middle" textLength="12.60" lengthAdjust="spacingAndGlyphs">10 ms</text>
<text x="14.00" y="123.60" font-size="11.6" fill="#111" stroke="#111" stroke-width="0.55">A</text>
<text x="298.10" y="123.40" font-size="11.6" fill="#111" stroke="#111" stroke-width="0.55">C</text>
<text x="13.30" y="285.50" font-size="11.6" fill="#111" stroke="#111" stroke-width="0.55">B</text>
<text x="298.40" y="285.40" font-size="11.6" fill="#111" stroke="#111" stroke-width="0.55">D</text>
<text x="109.90" y="126.60" font-size="8.4" font-weight="bold" fill="#2c2c2c" textLength="65.70" lengthAdjust="spacingAndGlyphs">MEPP parameters</text>
<line x1="39.30" y1="129.50" x2="259.30" y2="129.50" stroke="#4a4a4a" stroke-width="1.0"/>
<text x="396.60" y="126.80" font-size="8.4" font-weight="bold" fill="#2c2c2c" textLength="58.50" lengthAdjust="spacingAndGlyphs">EPP parameters</text>
<line x1="325.00" y1="128.50" x2="546.50" y2="128.50" stroke="#4a4a4a" stroke-width="1.0"/>
<text x="10.40" y="200.25" font-size="7.3" font-weight="bold" fill="#404040" text-anchor="middle" textLength="103.70" lengthAdjust="spacingAndGlyphs" transform="rotate(-90 10.40 200.25)">Pre-onset stage (6–8 weeks)</text>
<line x1="14.90" y1="143.10" x2="14.90" y2="258.90" stroke="#d2d2d2" stroke-width="1.8"/>
<text x="295.30" y="195.20" font-size="7.3" font-weight="bold" fill="#404040" text-anchor="middle" textLength="103.40" lengthAdjust="spacingAndGlyphs" transform="rotate(-90 295.30 195.20)">Pre-onset stage (6–8 weeks)</text>
<line x1="297.80" y1="140.70" x2="297.80" y2="255.60" stroke="#d2d2d2" stroke-width="1.8"/>
<text x="10.30" y="351.20" font-size="7.3" font-weight="bold" fill="#404040" text-anchor="middle" textLength="99.00" lengthAdjust="spacingAndGlyphs" transform="rotate(-90 10.30 351.20)">Onset stage (18–20 weeks)</text>
<line x1="14.50" y1="297.10" x2="14.50" y2="413.10" stroke="#d2d2d2" stroke-width="1.8"/>
<text x="295.10" y="346.70" font-size="7.3" font-weight="bold" fill="#404040" text-anchor="middle" textLength="98.00" lengthAdjust="spacingAndGlyphs" transform="rotate(-90 295.10 346.70)">Onset stage (18–20 weeks)</text>
<line x1="297.90" y1="292.10" x2="297.90" y2="408.10" stroke="#d2d2d2" stroke-width="1.8"/>
<text x="41.20" y="138.90" font-size="5.8" font-weight="bold" fill="#3c3c3c" textLength="25.70" lengthAdjust="spacingAndGlyphs">Rise time</text>
<line x1="44.00" y1="140.90" x2="63.60" y2="140.90" stroke="#c8c8c8" stroke-width="0.8"/>
<text x="84.10" y="138.90" font-size="5.8" font-weight="bold" fill="#3c3c3c" textLength="30.80" lengthAdjust="spacingAndGlyphs">Decay time</text>
<line x1="87.00" y1="141.40" x2="110.00" y2="141.40" stroke="#c8c8c8" stroke-width="0.8"/>
<text x="156.20" y="139.10" font-size="5.8" font-weight="bold" fill="#3c3c3c" textLength="27.40" lengthAdjust="spacingAndGlyphs">Amplitude</text>
<line x1="160.00" y1="141.40" x2="180.00" y2="141.40" stroke="#c8c8c8" stroke-width="0.8"/>
<text x="227.10" y="138.90" font-size="5.8" font-weight="bold" fill="#3c3c3c" textLength="29.00" lengthAdjust="spacingAndGlyphs">Frequency</text>
<line x1="232.00" y1="141.40" x2="250.00" y2="141.40" stroke="#c8c8c8" stroke-width="0.8"/>
<line x1="41.10" y1="150.10" x2="41.10" y2="253.80" stroke="#3a3a3a" stroke-width="0.9"/>
<line x1="39.10" y1="150.10" x2="41.10" y2="150.10" stroke="#3a3a3a" stroke-width="0.9"/>
<text x="38.80" y="152.96" font-size="8.0" fill="#1c1c1c" text-anchor="end" stroke="#1c1c1c" stroke-width="0.1">2.0</text>
<line x1="39.10" y1="175.80" x2="41.10" y2="175.80" stroke="#3a3a3a" stroke-width="0.9"/>
<text x="38.80" y="178.66" font-size="8.0" fill="#1c1c1c" text-anchor="end" stroke="#1c1c1c" stroke-width="0.1">1.5</text>
<line x1="39.10" y1="201.50" x2="41.10" y2="201.50" stroke="#3a3a3a" stroke-width="0.9"/>
<text x="38.80" y="204.36" font-size="8.0" fill="#1c1c1c" text-anchor="end" stroke="#1c1c1c" stroke-width="0.1">1.0</text>
<line x1="39.10" y1="227.30" x2="41.10" y2="227.30" stroke="#3a3a3a" stroke-width="0.9"/>
<text x="38.80" y="230.16" font-size="8.0" fill="#1c1c1c" text-anchor="end" stroke="#1c1c1c" stroke-width="0.1">0.5</text>
<line x1="39.10" y1="253.20" x2="41.10" y2="253.20" stroke="#3a3a3a" stroke-width="0.9"/>
<text x="38.80" y="256.06" font-size="8.0" fill="#1c1c1c" text-anchor="end" stroke="#1c1c1c" stroke-width="0.1">0.0</text>
<line x1="39.80" y1="162.90" x2="41.10" y2="162.90" stroke="#3a3a3a" stroke-width="0.7"/>
<line x1="39.80" y1="188.60" x2="41.10" y2="188.60" stroke="#3a3a3a" stroke-width="0.7"/>
<line x1="39.80" y1="214.40" x2="41.10" y2="214.40" stroke="#3a3a3a" stroke-width="0.7"/>
<line x1="39.80" y1="240.20" x2="41.10" y2="240.20" stroke="#3a3a3a" stroke-width="0.7"/>
<line x1="41.10" y1="253.50" x2="110.50" y2="253.50" stroke="#3a3a3a" stroke-width="0.9"/>
<line x1="48.30" y1="253.50" x2="48.30" y2="255.00" stroke="#3a3a3a" stroke-width="0.7"/>
<line x1="61.50" y1="253.50" x2="61.50" y2="255.00" stroke="#3a3a3a" stroke-width="0.7"/>
<line x1="89.50" y1="253.50" x2="89.50" y2="255.00" stroke="#3a3a3a" stroke-width="0.7"/>
<line x1="103.50" y1="253.50" x2="103.50" y2="255.00" stroke="#3a3a3a" stroke-width="0.7"/>
<text x="47.80" y="261.60" font-size="7.8" fill="#1c1c1c" text-anchor="middle" textLength="14.90" lengthAdjust="spacingAndGlyphs" stroke="#1c1c1c" stroke-width="0.22">FUS</text>
<text x="62.70" y="261.60" font-size="7.8" fill="#1c1c1c" text-anchor="middle" textLength="13.00" lengthAdjust="spacingAndGlyphs" stroke="#1c1c1c" stroke-width="0.22">WT</text>
<text x="89.10" y="261.60" font-size="7.8" fill="#1c1c1c" text-anchor="middle" textLength="14.80" lengthAdjust="spacingAndGlyphs" stroke="#1c1c1c" stroke-width="0.22">FUS</text>
<text x="103.90" y="261.60" font-size="7.8" fill="#1c1c1c" text-anchor="middle" textLength="12.70" lengthAdjust="spacingAndGlyphs" stroke="#1c1c1c" stroke-width="0.22">WT</text>
<text x="25.70" y="200.80" font-size="7.7" fill="#333" text-anchor="middle" textLength="30.20" lengthAdjust="spacingAndGlyphs" transform="rotate(-90 25.70 200.80)" stroke="#333" stroke-width="0.05">Time, ms</text>
<line x1="43.00" y1="233.30" x2="68.40" y2="233.30" stroke="#ababab" stroke-width="1.15"/>
<text x="56.00" y="232.00" font-size="5.9" font-style="italic" fill="#2e2e2e" text-anchor="middle" textLength="7.80" lengthAdjust="spacingAndGlyphs">NS</text>
<circle cx="42.60" cy="241.00" r="1.7" fill="#111"/>
<circle cx="44.00" cy="240.60" r="1.7" fill="#111"/>
<circle cx="45.50" cy="239.90" r="1.7" fill="#111"/>
<circle cx="46.60" cy="240.30" r="1.7" fill="#111"/>
<circle cx="47.60" cy="239.00" r="1.7" fill="#111"/>
<circle cx="48.70" cy="236.80" r="1.7" fill="#111"/>
<circle cx="49.40" cy="238.20" r="1.7" fill="#111"/>
<circle cx="50.50" cy="239.20" r="1.7" fill="#111"/>
<circle cx="51.60" cy="240.10" r="1.7" fill="#111"/>
<circle cx="53.00" cy="241.30" r="1.7" fill="#111"/>
<circle cx="44.80" cy="240.40" r="1.7" fill="#111"/>
<circle cx="57.00" cy="237.00" r="1.5" fill="#fff" stroke="#222" stroke-width="0.8"/>
<circle cx="58.40" cy="238.90" r="1.5" fill="#fff" stroke="#222" stroke-width="0.8"/>
<circle cx="59.80" cy="239.40" r="1.5" fill="#fff" stroke="#222" stroke-width="0.8"/>
<circle cx="61.20" cy="238.20" r="1.5" fill="#fff" stroke="#222" stroke-width="0.8"/>
<circle cx="60.10" cy="241.30" r="1.5" fill="#fff" stroke="#222" stroke-width="0.8"/>
<circle cx="61.80" cy="241.10" r="1.5" fill="#fff" stroke="#222" stroke-width="0.8"/>
<circle cx="63.00" cy="243.00" r="1.5" fill="#fff" stroke="#222" stroke-width="0.8"/>
<circle cx="63.60" cy="240.20" r="1.5" fill="#fff" stroke="#222" stroke-width="0.8"/>
<circle cx="65.00" cy="241.10" r="1.5" fill="#fff" stroke="#222" stroke-width="0.8"/>
<circle cx="65.60" cy="239.30" r="1.5" fill="#fff" stroke="#222" stroke-width="0.8"/>
<circle cx="66.30" cy="238.10" r="1.5" fill="#fff" stroke="#222" stroke-width="0.8"/>
<circle cx="67.20" cy="236.50" r="1.5" fill="#fff" stroke="#222" stroke-width="0.8"/>
<circle cx="64.40" cy="238.70" r="1.5" fill="#fff" stroke="#222" stroke-width="0.8"/>
<line x1="85.20" y1="149.20" x2="111.60" y2="149.20" stroke="#ababab" stroke-width="1.15"/>
<text x="98.80" y="147.90" font-size="5.9" font-style="italic" fill="#2e2e2e" text-anchor="middle" textLength="7.80" lengthAdjust="spacingAndGlyphs">NS</text>
<line x1="89.50" y1="163.90" x2="89.50" y2="181.40" stroke="#8a8a8a" stroke-width="0.8"/>
<line x1="86.00" y1="172.90" x2="93.00" y2="172.90" stroke="#8a8a8a" stroke-width="0.8"/>
<circle cx="89.50" cy="159.30" r="1.7" fill="#111"/>
<circle cx="88.60" cy="168.50" r="1.7" fill="#111"/>
<circle cx="90.60" cy="168.80" r="1.7" fill="#111"/>
<circle cx="86.40" cy="172.00" r="1.7" fill="#111"/>
<circle cx="88.40" cy="173.00" r="1.7" fill="#111"/>
<circle cx="91.80" cy="175.40" r="1.7" fill="#111"/>
<circle cx="94.00" cy="176.00" r="1.7" fill="#111"/>
<circle cx="89.70" cy="190.30" r="1.7" fill="#111"/>
<line x1="103.30" y1="151.00" x2="103.30" y2="194.00" stroke="#8a8a8a" stroke-width="0.8"/>
<line x1="98.30" y1="175.20" x2="108.30" y2="175.20" stroke="#8a8a8a" stroke-width="0.8"/>
<circle cx="103.50" cy="152.20" r="1.5" fill="#fff" stroke="#222" stroke-width="0.8"/>
<circle cx="102.20" cy="153.40" r="1.5" fill="#fff" stroke="#222" stroke-width="0.8"/>
<circle cx="103.30" cy="161.00" r="1.5" fill="#fff" stroke="#222" stroke-width="0.8"/>
<circle cx="107.50" cy="160.20" r="1.5" fill="#fff" stroke="#222" stroke-width="0.8"/>
<circle cx="101.00" cy="167.00" r="1.5" fill="#fff" stroke="#222" stroke-width="0.8"/>
<circle cx="99.50" cy="169.40" r="1.5" fill="#fff" stroke="#222" stroke-width="0.8"/>
<circle cx="105.00" cy="166.50" r="1.5" fill="#fff" stroke="#222" stroke-width="0.8"/>
<circle cx="101.00" cy="195.60" r="1.5" fill="#fff" stroke="#222" stroke-width="0.8"/>
<circle cx="103.50" cy="199.20" r="1.5" fill="#fff" stroke="#222" stroke-width="0.8"/>
<circle cx="106.00" cy="200.30" r="1.5" fill="#fff" stroke="#222" stroke-width="0.8"/>
<circle cx="103.50" cy="205.50" r="1.5" fill="#fff" stroke="#222" stroke-width="0.8"/>
<line x1="150.00" y1="153.60" x2="150.00" y2="253.80" stroke="#3a3a3a" stroke-width="0.9"/>
<line x1="148.00" y1="153.60" x2="150.00" y2="153.60" stroke="#3a3a3a" stroke-width="0.9"/>
<text x="147.70" y="156.46" font-size="8.0" fill="#1c1c1c" text-anchor="end" stroke="#1c1c1c" stroke-width="0.1">0.4</text>
<line x1="148.00" y1="178.40" x2="150.00" y2="178.40" stroke="#3a3a3a" stroke-width="0.9"/>
<text x="147.70" y="181.26" font-size="8.0" fill="#1c1c1c" text-anchor="end" stroke="#1c1c1c" stroke-width="0.1">0.3</text>
<line x1="148.00" y1="203.30" x2="150.00" y2="203.30" stroke="#3a3a3a" stroke-width="0.9"/>
<text x="147.70" y="206.16" font-size="8.0" fill="#1c1c1c" text-anchor="end" stroke="#1c1c1c" stroke-width="0.1">0.2</text>
<line x1="148.00" y1="228.30" x2="150.00" y2="228.30" stroke="#3a3a3a" stroke-width="0.9"/>
<text x="147.70" y="231.16" font-size="8.0" fill="#1c1c1c" text-anchor="end" stroke="#1c1c1c" stroke-width="0.1">0.1</text>
<line x1="148.00" y1="253.30" x2="150.00" y2="253.30" stroke="#3a3a3a" stroke-width="0.9"/>
<text x="147.70" y="256.16" font-size="8.0" fill="#1c1c1c" text-anchor="end" stroke="#1c1c1c" stroke-width="0.1">0.0</text>
<line x1="148.70" y1="166.00" x2="150.00" y2="166.00" stroke="#3a3a3a" stroke-width="0.7"/>
<line x1="148.70" y1="190.85" x2="150.00" y2="190.85" stroke="#3a3a3a" stroke-width="0.7"/>
<line x1="148.70" y1="215.80" x2="150.00" y2="215.80" stroke="#3a3a3a" stroke-width="0.7"/>
<line x1="148.70" y1="240.80" x2="150.00" y2="240.80" stroke="#3a3a3a" stroke-width="0.7"/>
<line x1="150.00" y1="253.40" x2="190.50" y2="253.40" stroke="#3a3a3a" stroke-width="0.9"/>
<line x1="160.40" y1="253.40" x2="160.40" y2="254.90" stroke="#3a3a3a" stroke-width="0.7"/>
<line x1="180.10" y1="253.40" x2="180.10" y2="254.90" stroke="#3a3a3a" stroke-width="0.7"/>
<text x="161.10" y="261.90" font-size="7.8" fill="#1c1c1c" text-anchor="middle" textLength="14.10" lengthAdjust="spacingAndGlyphs" stroke="#1c1c1c" stroke-width="0.22">FUS</text>
<text x="181.20" y="261.90" font-size="7.8" fill="#1c1c1c" text-anchor="middle" textLength="12.30" lengthAdjust="spacingAndGlyphs" stroke="#1c1c1c" stroke-width="0.22">WT</text>
<text x="135.70" y="196.80" font-size="7.7" fill="#333" text-anchor="middle" textLength="74.40" lengthAdjust="spacingAndGlyphs" transform="rotate(-90 135.70 196.80)" stroke="#333" stroke-width="0.05">MEPP amplitude, mV</text>
<line x1="156.80" y1="160.60" x2="182.60" y2="160.60" stroke="#ababab" stroke-width="1.15"/>
<text x="169.70" y="159.30" font-size="5.9" font-style="italic" fill="#2e2e2e" text-anchor="middle" textLength="7.80" lengthAdjust="spacingAndGlyphs">NS</text>
<line x1="160.40" y1="195.50" x2="160.40" y2="230.00" stroke="#8a8a8a" stroke-width="0.8"/>
<line x1="158.40" y1="195.50" x2="162.40" y2="195.50" stroke="#8a8a8a" stroke-width="0.8"/>
<line x1="158.40" y1="230.00" x2="162.40" y2="230.00" stroke="#8a8a8a" stroke-width="0.8"/>
<line x1="152.40" y1="213.10" x2="168.40" y2="213.10" stroke="#8a8a8a" stroke-width="0.8"/>
<circle cx="160.40" cy="180.50" r="1.7" fill="#111"/>
<circle cx="160.10" cy="195.30" r="1.7" fill="#111"/>
<circle cx="164.10" cy="208.30" r="1.7" fill="#111"/>
<circle cx="155.80" cy="214.20" r="1.7" fill="#111"/>
<circle cx="155.80" cy="218.90" r="1.7" fill="#111"/>
<circle cx="155.80" cy="229.20" r="1.7" fill="#111"/>
<circle cx="163.90" cy="227.70" r="1.7" fill="#111"/>
<circle cx="163.90" cy="230.10" r="1.7" fill="#111"/>
<line x1="180.10" y1="195.40" x2="180.10" y2="229.50" stroke="#8a8a8a" stroke-width="0.8"/>
<line x1="178.10" y1="195.40" x2="182.10" y2="195.40" stroke="#8a8a8a" stroke-width="0.8"/>
<line x1="178.10" y1="229.50" x2="182.10" y2="229.50" stroke="#8a8a8a" stroke-width="0.8"/>
<line x1="172.10" y1="212.50" x2="188.10" y2="212.50" stroke="#8a8a8a" stroke-width="0.8"/>
<circle cx="180.20" cy="165.30" r="1.5" fill="#fff" stroke="#222" stroke-width="0.8"/>
<circle cx="180.10" cy="205.90" r="1.5" fill="#fff" stroke="#222" stroke-width="0.8"/>
<circle cx="173.30" cy="212.20" r="1.5" fill="#fff" stroke="#222" stroke-width="0.8"/>
<circle cx="176.80" cy="212.20" r="1.5" fill="#fff" stroke="#222" stroke-width="0.8"/>
<circle cx="180.10" cy="217.50" r="1.5" fill="#fff" stroke="#222" stroke-width="0.8"/>
<circle cx="183.30" cy="214.20" r="1.5" fill="#fff" stroke="#222" stroke-width="0.8"/>
<circle cx="186.50" cy="214.20" r="1.5" fill="#fff" stroke="#222" stroke-width="0.8"/>
<circle cx="173.30" cy="224.00" r="1.5" fill="#fff" stroke="#222" stroke-width="0.8"/>
<circle cx="176.60" cy="226.30" r="1.5" fill="#fff" stroke="#222" stroke-width="0.8"/>
<circle cx="183.30" cy="224.20" r="1.5" fill="#fff" stroke="#222" stroke-width="0.8"/>
<circle cx="186.50" cy="221.20" r="1.5" fill="#fff" stroke="#222" stroke-width="0.8"/>
<line x1="222.40" y1="153.80" x2="222.40" y2="254.60" stroke="#3a3a3a" stroke-width="0.9"/>
<line x1="220.40" y1="153.80" x2="222.40" y2="153.80" stroke="#3a3a3a" stroke-width="0.9"/>
<text x="220.10" y="156.66" font-size="8.0" fill="#1c1c1c" text-anchor="end" stroke="#1c1c1c" stroke-width="0.1">1.2</text>
<line x1="220.40" y1="179.00" x2="222.40" y2="179.00" stroke="#3a3a3a" stroke-width="0.9"/>
<text x="220.10" y="181.86" font-size="8.0" fill="#1c1c1c" text-anchor="end" stroke="#1c1c1c" stroke-width="0.1">0.9</text>
<line x1="220.40" y1="203.50" x2="222.40" y2="203.50" stroke="#3a3a3a" stroke-width="0.9"/>
<text x="220.10" y="206.36" font-size="8.0" fill="#1c1c1c" text-anchor="end" stroke="#1c1c1c" stroke-width="0.1">0.6</text>
<line x1="220.40" y1="227.60" x2="222.40" y2="227.60" stroke="#3a3a3a" stroke-width="0.9"/>
<text x="220.10" y="230.46" font-size="8.0" fill="#1c1c1c" text-anchor="end" stroke="#1c1c1c" stroke-width="0.1">0.3</text>
<line x1="220.40" y1="254.10" x2="222.40" y2="254.10" stroke="#3a3a3a" stroke-width="0.9"/>
<text x="220.10" y="256.96" font-size="8.0" fill="#1c1c1c" text-anchor="end" stroke="#1c1c1c" stroke-width="0.1">0.0</text>
<line x1="221.10" y1="166.40" x2="222.40" y2="166.40" stroke="#3a3a3a" stroke-width="0.7"/>
<line x1="221.10" y1="191.20" x2="222.40" y2="191.20" stroke="#3a3a3a" stroke-width="0.7"/>
<line x1="221.10" y1="215.50" x2="222.40" y2="215.50" stroke="#3a3a3a" stroke-width="0.7"/>
<line x1="221.10" y1="240.80" x2="222.40" y2="240.80" stroke="#3a3a3a" stroke-width="0.7"/>
<line x1="222.40" y1="254.10" x2="263.50" y2="254.10" stroke="#3a3a3a" stroke-width="0.9"/>
<line x1="233.00" y1="254.10" x2="233.00" y2="255.60" stroke="#3a3a3a" stroke-width="0.7"/>
<line x1="252.80" y1="254.10" x2="252.80" y2="255.60" stroke="#3a3a3a" stroke-width="0.7"/>
<text x="235.50" y="262.00" font-size="7.8" fill="#1c1c1c" text-anchor="middle" textLength="15.70" lengthAdjust="spacingAndGlyphs" stroke="#1c1c1c" stroke-width="0.22">FUS</text>
<text x="254.70" y="262.00" font-size="7.8" fill="#1c1c1c" text-anchor="middle" textLength="11.80" lengthAdjust="spacingAndGlyphs" stroke="#1c1c1c" stroke-width="0.22">WT</text>
<text x="208.60" y="200.20" font-size="7.7" fill="#333" text-anchor="middle" transform="rotate(-90 208.60 200.20)" stroke="#333" stroke-width="0.05">MEPP frequency, s<tspan font-size="4.2" dy="-2.5">-1</tspan></text>
<line x1="231.30" y1="154.20" x2="256.60" y2="154.20" stroke="#ababab" stroke-width="1.15"/>
<text x="244.00" y="152.90" font-size="5.9" font-style="italic" fill="#2e2e2e" text-anchor="middle" textLength="7.80" lengthAdjust="spacingAndGlyphs">NS</text>
<line x1="233.00" y1="178.50" x2="233.00" y2="222.70" stroke="#8a8a8a" stroke-width="0.8"/>
<line x1="231.00" y1="178.50" x2="235.00" y2="178.50" stroke="#8a8a8a" stroke-width="0.8"/>
<line x1="231.00" y1="222.70" x2="235.00" y2="222.70" stroke="#8a8a8a" stroke-width="0.8"/>
<line x1="224.50" y1="199.80" x2="241.50" y2="199.80" stroke="#8a8a8a" stroke-width="0.8"/>
<circle cx="232.70" cy="167.40" r="1.7" fill="#111"/>
<circle cx="229.00" cy="183.20" r="1.7" fill="#111"/>
<circle cx="237.00" cy="180.00" r="1.7" fill="#111"/>
<circle cx="233.00" cy="196.70" r="1.7" fill="#111"/>
<circle cx="237.00" cy="208.20" r="1.7" fill="#111"/>
<circle cx="229.00" cy="214.40" r="1.7" fill="#111"/>
<circle cx="229.00" cy="226.50" r="1.7" fill="#111"/>
<circle cx="237.00" cy="225.00" r="1.7" fill="#111"/>
<line x1="252.80" y1="176.30" x2="252.80" y2="226.00" stroke="#8a8a8a" stroke-width="0.8"/>
<line x1="250.80" y1="176.30" x2="254.80" y2="176.30" stroke="#8a8a8a" stroke-width="0.8"/>
<line x1="250.80" y1="226.00" x2="254.80" y2="226.00" stroke="#8a8a8a" stroke-width="0.8"/>
<line x1="244.30" y1="201.40" x2="261.30" y2="201.40" stroke="#8a8a8a" stroke-width="0.8"/>
<circle cx="255.00" cy="158.00" r="1.5" fill="#fff" stroke="#222" stroke-width="0.8"/>
<circle cx="251.00" cy="163.00" r="1.5" fill="#fff" stroke="#222" stroke-width="0.8"/>
<circle cx="253.50" cy="185.50" r="1.5" fill="#fff" stroke="#222" stroke-width="0.8"/>
<circle cx="255.50" cy="190.00" r="1.5" fill="#fff" stroke="#222" stroke-width="0.8"/>
<circle cx="251.30" cy="200.50" r="1.5" fill="#fff" stroke="#222" stroke-width="0.8"/>
<circle cx="247.00" cy="212.20" r="1.5" fill="#fff" stroke="#222" stroke-width="0.8"/>
<circle cx="254.80" cy="211.00" r="1.5" fill="#fff" stroke="#222" stroke-width="0.8"/>
<circle cx="259.00" cy="213.00" r="1.5" fill="#fff" stroke="#222" stroke-width="0.8"/>
<circle cx="251.00" cy="217.60" r="1.5" fill="#fff" stroke="#222" stroke-width="0.8"/>
<circle cx="253.00" cy="225.20" r="1.5" fill="#fff" stroke="#222" stroke-width="0.8"/>
<circle cx="253.00" cy="237.30" r="1.5" fill="#fff" stroke="#222" stroke-width="0.8"/>
<text x="46.20" y="294.20" font-size="5.8" font-weight="bold" fill="#3c3c3c" textLength="25.50" lengthAdjust="spacingAndGlyphs">Rise time</text>
<line x1="50.00" y1="295.80" x2="65.00" y2="295.80" stroke="#c8c8c8" stroke-width="0.8"/>
<text x="88.90" y="294.40" font-size="5.8" font-weight="bold" fill="#3c3c3c" textLength="30.60" lengthAdjust="spacingAndGlyphs">Decay time</text>
<line x1="92.00" y1="296.00" x2="114.00" y2="296.00" stroke="#c8c8c8" stroke-width="0.8"/>
<text x="160.30" y="294.20" font-size="5.8" font-weight="bold" fill="#3c3c3c" textLength="28.70" lengthAdjust="spacingAndGlyphs">Amplitude</text>
<line x1="164.00" y1="295.80" x2="185.00" y2="295.80" stroke="#c8c8c8" stroke-width="0.8"/>
<text x="232.10" y="294.10" font-size="5.8" font-weight="bold" fill="#3c3c3c" textLength="28.90" lengthAdjust="spacingAndGlyphs">Frequency</text>
<line x1="236.00" y1="295.80" x2="256.00" y2="295.80" stroke="#c8c8c8" stroke-width="0.8"/>
<line x1="41.00" y1="305.00" x2="41.00" y2="410.30" stroke="#3a3a3a" stroke-width="0.9"/>
<line x1="39.00" y1="306.10" x2="41.00" y2="306.10" stroke="#3a3a3a" stroke-width="0.9"/>
<text x="38.70" y="308.96" font-size="8.0" fill="#1c1c1c" text-anchor="end" stroke="#1c1c1c" stroke-width="0.1">2.5</text>
<line x1="39.00" y1="326.90" x2="41.00" y2="326.90" stroke="#3a3a3a" stroke-width="0.9"/>
<text x="38.70" y="329.76" font-size="8.0" fill="#1c1c1c" text-anchor="end" stroke="#1c1c1c" stroke-width="0.1">2.0</text>
<line x1="39.00" y1="347.60" x2="41.00" y2="347.60" stroke="#3a3a3a" stroke-width="0.9"/>
<text x="38.70" y="350.46" font-size="8.0" fill="#1c1c1c" text-anchor="end" stroke="#1c1c1c" stroke-width="0.1">1.5</text>
<line x1="39.00" y1="368.40" x2="41.00" y2="368.40" stroke="#3a3a3a" stroke-width="0.9"/>
<text x="38.70" y="371.26" font-size="8.0" fill="#1c1c1c" text-anchor="end" stroke="#1c1c1c" stroke-width="0.1">1.0</text>
<line x1="39.00" y1="389.10" x2="41.00" y2="389.10" stroke="#3a3a3a" stroke-width="0.9"/>
<text x="38.70" y="391.96" font-size="8.0" fill="#1c1c1c" text-anchor="end" stroke="#1c1c1c" stroke-width="0.1">0.5</text>
<line x1="39.00" y1="409.80" x2="41.00" y2="409.80" stroke="#3a3a3a" stroke-width="0.9"/>
<text x="38.70" y="412.66" font-size="8.0" fill="#1c1c1c" text-anchor="end" stroke="#1c1c1c" stroke-width="0.1">0.0</text>
<line x1="39.70" y1="316.50" x2="41.00" y2="316.50" stroke="#3a3a3a" stroke-width="0.7"/>
<line x1="39.70" y1="337.30" x2="41.00" y2="337.30" stroke="#3a3a3a" stroke-width="0.7"/>
<line x1="39.70" y1="358.00" x2="41.00" y2="358.00" stroke="#3a3a3a" stroke-width="0.7"/>
<line x1="39.70" y1="378.80" x2="41.00" y2="378.80" stroke="#3a3a3a" stroke-width="0.7"/>
<line x1="39.70" y1="399.50" x2="41.00" y2="399.50" stroke="#3a3a3a" stroke-width="0.7"/>
<line x1="41.00" y1="409.90" x2="110.40" y2="409.90" stroke="#3a3a3a" stroke-width="0.9"/>
<line x1="48.00" y1="409.90" x2="48.00" y2="411.40" stroke="#3a3a3a" stroke-width="0.7"/>
<line x1="61.50" y1="409.90" x2="61.50" y2="411.40" stroke="#3a3a3a" stroke-width="0.7"/>
<line x1="89.50" y1="409.90" x2="89.50" y2="411.40" stroke="#3a3a3a" stroke-width="0.7"/>
<line x1="103.80" y1="409.90" x2="103.80" y2="411.40" stroke="#3a3a3a" stroke-width="0.7"/>
<text x="47.40" y="419.00" font-size="7.8" fill="#1c1c1c" text-anchor="middle" textLength="14.00" lengthAdjust="spacingAndGlyphs" stroke="#1c1c1c" stroke-width="0.22">FUS</text>
<text x="62.00" y="419.00" font-size="7.8" fill="#1c1c1c" text-anchor="middle" textLength="13.30" lengthAdjust="spacingAndGlyphs" stroke="#1c1c1c" stroke-width="0.22">WT</text>
<text x="88.80" y="419.00" font-size="7.8" fill="#1c1c1c" text-anchor="middle" textLength="14.40" lengthAdjust="spacingAndGlyphs" stroke="#1c1c1c" stroke-width="0.22">FUS</text>
<text x="103.70" y="419.00" font-size="7.8" fill="#1c1c1c" text-anchor="middle" textLength="13.30" lengthAdjust="spacingAndGlyphs" stroke="#1c1c1c" stroke-width="0.22">WT</text>
<text x="26.60" y="355.50" font-size="7.7" fill="#333" text-anchor="middle" textLength="31.00" lengthAdjust="spacingAndGlyphs" transform="rotate(-90 26.60 355.50)" stroke="#333" stroke-width="0.05">Time, ms</text>
<line x1="42.10" y1="392.50" x2="68.70" y2="392.50" stroke="#ababab" stroke-width="1.15"/>
<text x="55.50" y="391.20" font-size="5.9" font-style="italic" fill="#2e2e2e" text-anchor="middle" textLength="7.80" lengthAdjust="spacingAndGlyphs">NS</text>
<circle cx="43.50" cy="398.80" r="1.7" fill="#111"/>
<circle cx="45.00" cy="399.40" r="1.7" fill="#111"/>
<circle cx="46.50" cy="398.60" r="1.7" fill="#111"/>
<circle cx="48.00" cy="398.20" r="1.7" fill="#111"/>
<circle cx="49.40" cy="399.60" r="1.7" fill="#111"/>
<circle cx="50.80" cy="398.40" r="1.7" fill="#111"/>
<circle cx="52.20" cy="397.80" r="1.7" fill="#111"/>
<circle cx="53.50" cy="399.00" r="1.7" fill="#111"/>
<circle cx="47.20" cy="400.00" r="1.7" fill="#111"/>
<circle cx="44.30" cy="397.80" r="1.7" fill="#111"/>
<circle cx="57.00" cy="396.00" r="1.5" fill="#fff" stroke="#222" stroke-width="0.8"/>
<circle cx="58.60" cy="396.60" r="1.5" fill="#fff" stroke="#222" stroke-width="0.8"/>
<circle cx="60.20" cy="397.60" r="1.5" fill="#fff" stroke="#222" stroke-width="0.8"/>
<circle cx="61.60" cy="398.80" r="1.5" fill="#fff" stroke="#222" stroke-width="0.8"/>
<circle cx="62.80" cy="400.60" r="1.5" fill="#fff" stroke="#222" stroke-width="0.8"/>
<circle cx="64.00" cy="399.40" r="1.5" fill="#fff" stroke="#222" stroke-width="0.8"/>
<circle cx="65.20" cy="398.00" r="1.5" fill="#fff" stroke="#222" stroke-width="0.8"/>
<circle cx="66.40" cy="396.60" r="1.5" fill="#fff" stroke="#222" stroke-width="0.8"/>
<circle cx="67.60" cy="395.60" r="1.5" fill="#fff" stroke="#222" stroke-width="0.8"/>
<circle cx="59.40" cy="398.40" r="1.5" fill="#fff" stroke="#222" stroke-width="0.8"/>
<circle cx="63.20" cy="397.60" r="1.5" fill="#fff" stroke="#222" stroke-width="0.8"/>
<line x1="83.20" y1="304.40" x2="109.20" y2="304.40" stroke="#ababab" stroke-width="1.15"/>
<text x="96.90" y="303.10" font-size="5.9" font-style="italic" fill="#2e2e2e" text-anchor="middle" textLength="7.80" lengthAdjust="spacingAndGlyphs">NS</text>
<line x1="89.60" y1="334.50" x2="89.60" y2="353.50" stroke="#8a8a8a" stroke-width="0.8"/>
<line x1="85.60" y1="342.50" x2="93.60" y2="342.50" stroke="#8a8a8a" stroke-width="0.8"/>
<circle cx="86.00" cy="335.50" r="1.7" fill="#111"/>
<circle cx="89.00" cy="338.00" r="1.7" fill="#111"/>
<circle cx="92.80" cy="340.00" r="1.7" fill="#111"/>
<circle cx="85.00" cy="342.30" r="1.7" fill="#111"/>
<circle cx="90.00" cy="343.00" r="1.7" fill="#111"/>
<circle cx="93.50" cy="343.20" r="1.7" fill="#111"/>
<circle cx="92.30" cy="346.00" r="1.7" fill="#111"/>
<circle cx="88.60" cy="346.50" r="1.7" fill="#111"/>
<circle cx="88.50" cy="350.00" r="1.7" fill="#111"/>
<circle cx="87.80" cy="352.00" r="1.7" fill="#111"/>
<circle cx="89.20" cy="352.50" r="1.7" fill="#111"/>
<line x1="103.60" y1="304.50" x2="103.60" y2="352.60" stroke="#8a8a8a" stroke-width="0.8"/>
<line x1="101.60" y1="304.50" x2="105.60" y2="304.50" stroke="#8a8a8a" stroke-width="0.8"/>
<line x1="101.60" y1="352.60" x2="105.60" y2="352.60" stroke="#8a8a8a" stroke-width="0.8"/>
<line x1="98.10" y1="331.50" x2="109.10" y2="331.50" stroke="#8a8a8a" stroke-width="0.8"/>
<circle cx="103.30" cy="306.70" r="1.5" fill="#fff" stroke="#222" stroke-width="0.8"/>
<circle cx="103.30" cy="313.30" r="1.5" fill="#fff" stroke="#222" stroke-width="0.8"/>
<circle cx="103.30" cy="322.90" r="1.5" fill="#fff" stroke="#222" stroke-width="0.8"/>
<circle cx="100.50" cy="337.10" r="1.5" fill="#fff" stroke="#222" stroke-width="0.8"/>
<circle cx="100.20" cy="351.50" r="1.5" fill="#fff" stroke="#222" stroke-width="0.8"/>
<circle cx="106.0" cy="338.6" r="1.4" fill="#9a9a9a" stroke="#777" stroke-width="0.5"/>
<circle cx="106.0" cy="352.0" r="1.4" fill="#9a9a9a" stroke="#777" stroke-width="0.5"/>
<line x1="150.00" y1="309.70" x2="150.00" y2="410.40" stroke="#3a3a3a" stroke-width="0.9"/>
<line x1="148.00" y1="309.70" x2="150.00" y2="309.70" stroke="#3a3a3a" stroke-width="0.9"/>
<text x="147.70" y="312.56" font-size="8.0" fill="#1c1c1c" text-anchor="end" stroke="#1c1c1c" stroke-width="0.1">0.4</text>
<line x1="148.00" y1="334.70" x2="150.00" y2="334.70" stroke="#3a3a3a" stroke-width="0.9"/>
<text x="147.70" y="337.56" font-size="8.0" fill="#1c1c1c" text-anchor="end" stroke="#1c1c1c" stroke-width="0.1">0.3</text>
<line x1="148.00" y1="359.60" x2="150.00" y2="359.60" stroke="#3a3a3a" stroke-width="0.9"/>
<text x="147.70" y="362.46" font-size="8.0" fill="#1c1c1c" text-anchor="end" stroke="#1c1c1c" stroke-width="0.1">0.2</text>
<line x1="148.00" y1="384.60" x2="150.00" y2="384.60" stroke="#3a3a3a" stroke-width="0.9"/>
<text x="147.70" y="387.46" font-size="8.0" fill="#1c1c1c" text-anchor="end" stroke="#1c1c1c" stroke-width="0.1">0.1</text>
<line x1="148.00" y1="409.90" x2="150.00" y2="409.90" stroke="#3a3a3a" stroke-width="0.9"/>
<text x="147.70" y="412.76" font-size="8.0" fill="#1c1c1c" text-anchor="end" stroke="#1c1c1c" stroke-width="0.1">0.0</text>
<line x1="148.70" y1="322.20" x2="150.00" y2="322.20" stroke="#3a3a3a" stroke-width="0.7"/>
<line x1="148.70" y1="347.20" x2="150.00" y2="347.20" stroke="#3a3a3a" stroke-width="0.7"/>
<line x1="148.70" y1="372.10" x2="150.00" y2="372.10" stroke="#3a3a3a" stroke-width="0.7"/>
<line x1="148.70" y1="397.20" x2="150.00" y2="397.20" stroke="#3a3a3a" stroke-width="0.7"/>
<line x1="150.00" y1="409.90" x2="190.50" y2="409.90" stroke="#3a3a3a" stroke-width="0.9"/>
<line x1="160.00" y1="409.90" x2="160.00" y2="411.40" stroke="#3a3a3a" stroke-width="0.7"/>
<line x1="180.00" y1="409.90" x2="180.00" y2="411.40" stroke="#3a3a3a" stroke-width="0.7"/>
<text x="161.40" y="419.30" font-size="7.8" fill="#1c1c1c" text-anchor="middle" textLength="14.00" lengthAdjust="spacingAndGlyphs" stroke="#1c1c1c" stroke-width="0.22">FUS</text>
<text x="180.50" y="419.30" font-size="7.8" fill="#1c1c1c" text-anchor="middle" textLength="12.20" lengthAdjust="spacingAndGlyphs" stroke="#1c1c1c" stroke-width="0.22">WT</text>
<text x="135.80" y="351.80" font-size="7.7" fill="#333" text-anchor="middle" textLength="74.40" lengthAdjust="spacingAndGlyphs" transform="rotate(-90 135.80 351.80)" stroke="#333" stroke-width="0.05">MEPP amplitude, mV</text>
<line x1="157.50" y1="325.60" x2="183.30" y2="325.60" stroke="#ababab" stroke-width="1.15"/>
<text x="170.50" y="324.30" font-size="5.9" font-style="italic" fill="#2e2e2e" text-anchor="middle" textLength="7.80" lengthAdjust="spacingAndGlyphs">NS</text>
<line x1="160.00" y1="359.00" x2="160.00" y2="380.00" stroke="#8a8a8a" stroke-width="0.8"/>
<line x1="158.00" y1="359.00" x2="162.00" y2="359.00" stroke="#8a8a8a" stroke-width="0.8"/>
<line x1="158.00" y1="380.00" x2="162.00" y2="380.00" stroke="#8a8a8a" stroke-width="0.8"/>
<line x1="152.00" y1="371.00" x2="168.00" y2="371.00" stroke="#8a8a8a" stroke-width="0.8"/>
<circle cx="160.20" cy="348.20" r="1.7" fill="#111"/>
<circle cx="158.50" cy="359.30" r="1.7" fill="#111"/>
<circle cx="161.50" cy="364.50" r="1.7" fill="#111"/>
<circle cx="149.60" cy="372.20" r="1.7" fill="#111"/>
<circle cx="152.40" cy="372.20" r="1.7" fill="#111"/>
<circle cx="159.00" cy="376.60" r="1.7" fill="#111"/>
<circle cx="161.80" cy="377.00" r="1.7" fill="#111"/>
<circle cx="166.00" cy="376.40" r="1.7" fill="#111"/>
<circle cx="168.50" cy="378.00" r="1.7" fill="#111"/>
<circle cx="158.00" cy="383.50" r="1.7" fill="#111"/>
<line x1="180.00" y1="346.00" x2="180.00" y2="377.70" stroke="#8a8a8a" stroke-width="0.8"/>
<line x1="178.00" y1="346.00" x2="182.00" y2="346.00" stroke="#8a8a8a" stroke-width="0.8"/>
<line x1="178.00" y1="377.70" x2="182.00" y2="377.70" stroke="#8a8a8a" stroke-width="0.8"/>
<line x1="172.00" y1="362.20" x2="188.00" y2="362.20" stroke="#8a8a8a" stroke-width="0.8"/>
<circle cx="180.10" cy="330.80" r="1.5" fill="#fff" stroke="#222" stroke-width="0.8"/>
<circle cx="180.00" cy="351.30" r="1.5" fill="#fff" stroke="#222" stroke-width="0.8"/>
<circle cx="174.50" cy="362.50" r="1.5" fill="#fff" stroke="#222" stroke-width="0.8"/>
<circle cx="180.00" cy="369.50" r="1.5" fill="#fff" stroke="#222" stroke-width="0.8"/>
<circle cx="186.00" cy="368.50" r="1.5" fill="#fff" stroke="#222" stroke-width="0.8"/>
<circle cx="183.00" cy="374.50" r="1.5" fill="#fff" stroke="#222" stroke-width="0.8"/>
<circle cx="177.00" cy="378.00" r="1.5" fill="#fff" stroke="#222" stroke-width="0.8"/>
<line x1="223.30" y1="309.50" x2="223.30" y2="410.30" stroke="#3a3a3a" stroke-width="0.9"/>
<line x1="221.30" y1="310.00" x2="223.30" y2="310.00" stroke="#3a3a3a" stroke-width="0.9"/>
<text x="221.00" y="312.86" font-size="8.0" fill="#1c1c1c" text-anchor="end" stroke="#1c1c1c" stroke-width="0.1">1.2</text>
<line x1="221.30" y1="334.80" x2="223.30" y2="334.80" stroke="#3a3a3a" stroke-width="0.9"/>
<text x="221.00" y="337.66" font-size="8.0" fill="#1c1c1c" text-anchor="end" stroke="#1c1c1c" stroke-width="0.1">0.9</text>
<line x1="221.30" y1="359.00" x2="223.30" y2="359.00" stroke="#3a3a3a" stroke-width="0.9"/>
<text x="221.00" y="361.86" font-size="8.0" fill="#1c1c1c" text-anchor="end" stroke="#1c1c1c" stroke-width="0.1">0.6</text>
<line x1="221.30" y1="384.30" x2="223.30" y2="384.30" stroke="#3a3a3a" stroke-width="0.9"/>
<text x="221.00" y="387.16" font-size="8.0" fill="#1c1c1c" text-anchor="end" stroke="#1c1c1c" stroke-width="0.1">0.3</text>
<line x1="221.30" y1="409.80" x2="223.30" y2="409.80" stroke="#3a3a3a" stroke-width="0.9"/>
<text x="221.00" y="412.66" font-size="8.0" fill="#1c1c1c" text-anchor="end" stroke="#1c1c1c" stroke-width="0.1">0.0</text>
<line x1="222.00" y1="322.40" x2="223.30" y2="322.40" stroke="#3a3a3a" stroke-width="0.7"/>
<line x1="222.00" y1="346.90" x2="223.30" y2="346.90" stroke="#3a3a3a" stroke-width="0.7"/>
<line x1="222.00" y1="371.60" x2="223.30" y2="371.60" stroke="#3a3a3a" stroke-width="0.7"/>
<line x1="222.00" y1="397.00" x2="223.30" y2="397.00" stroke="#3a3a3a" stroke-width="0.7"/>
<line x1="223.30" y1="409.80" x2="264.00" y2="409.80" stroke="#3a3a3a" stroke-width="0.9"/>
<line x1="233.80" y1="409.80" x2="233.80" y2="411.30" stroke="#3a3a3a" stroke-width="0.7"/>
<line x1="253.70" y1="409.80" x2="253.70" y2="411.30" stroke="#3a3a3a" stroke-width="0.7"/>
<text x="235.70" y="419.30" font-size="7.8" fill="#1c1c1c" text-anchor="middle" textLength="15.10" lengthAdjust="spacingAndGlyphs" stroke="#1c1c1c" stroke-width="0.22">FUS</text>
<text x="255.40" y="419.30" font-size="7.8" fill="#1c1c1c" text-anchor="middle" textLength="12.20" lengthAdjust="spacingAndGlyphs" stroke="#1c1c1c" stroke-width="0.22">WT</text>
<text x="208.60" y="355.20" font-size="7.7" fill="#333" text-anchor="middle" transform="rotate(-90 208.60 355.20)" stroke="#333" stroke-width="0.05">MEPP frequency, s<tspan font-size="4.2" dy="-2.5">-1</tspan></text>
<text x="213.90" y="304.70" font-size="7.3" fill="#333">s<tspan font-size="4.2" dy="-2.5">-1</tspan></text>
<line x1="230.30" y1="313.90" x2="255.70" y2="313.90" stroke="#ababab" stroke-width="1.15"/>
<text x="244.00" y="312.60" font-size="5.9" font-style="italic" fill="#2e2e2e" text-anchor="middle" textLength="7.80" lengthAdjust="spacingAndGlyphs">NS</text>
<line x1="233.80" y1="322.00" x2="233.80" y2="375.40" stroke="#8a8a8a" stroke-width="0.8"/>
<line x1="231.80" y1="322.00" x2="235.80" y2="322.00" stroke="#8a8a8a" stroke-width="0.8"/>
<line x1="231.80" y1="375.40" x2="235.80" y2="375.40" stroke="#8a8a8a" stroke-width="0.8"/>
<line x1="225.80" y1="348.20" x2="241.80" y2="348.20" stroke="#8a8a8a" stroke-width="0.8"/>
<circle cx="233.30" cy="317.70" r="1.7" fill="#111"/>
<circle cx="233.80" cy="338.70" r="1.7" fill="#111"/>
<circle cx="230.00" cy="349.10" r="1.7" fill="#111"/>
<circle cx="227.00" cy="357.90" r="1.7" fill="#111"/>
<circle cx="233.80" cy="355.30" r="1.7" fill="#111"/>
<circle cx="238.50" cy="354.50" r="1.7" fill="#111"/>
<circle cx="242.00" cy="354.50" r="1.7" fill="#111"/>
<circle cx="233.80" cy="362.00" r="1.7" fill="#111"/>
<circle cx="233.80" cy="397.20" r="1.7" fill="#111"/>
<line x1="253.70" y1="320.30" x2="253.70" y2="373.20" stroke="#8a8a8a" stroke-width="0.8"/>
<line x1="251.70" y1="320.30" x2="255.70" y2="320.30" stroke="#8a8a8a" stroke-width="0.8"/>
<line x1="251.70" y1="373.20" x2="255.70" y2="373.20" stroke="#8a8a8a" stroke-width="0.8"/>
<line x1="245.70" y1="346.60" x2="261.70" y2="346.60" stroke="#8a8a8a" stroke-width="0.8"/>
<circle cx="250.00" cy="328.60" r="1.5" fill="#fff" stroke="#222" stroke-width="0.8"/>
<circle cx="257.80" cy="341.10" r="1.5" fill="#fff" stroke="#222" stroke-width="0.8"/>
<circle cx="257.80" cy="352.60" r="1.5" fill="#fff" stroke="#222" stroke-width="0.8"/>
<circle cx="249.50" cy="358.80" r="1.5" fill="#fff" stroke="#222" stroke-width="0.8"/>
<circle cx="253.50" cy="364.50" r="1.5" fill="#fff" stroke="#222" stroke-width="0.8"/>
<circle cx="253.50" cy="380.30" r="1.5" fill="#fff" stroke="#222" stroke-width="0.8"/>
<text x="337.70" y="145.40" font-size="5.8" font-weight="bold" fill="#3c3c3c" textLength="25.50" lengthAdjust="spacingAndGlyphs">Rise time</text>
<line x1="328.60" y1="147.40" x2="371.50" y2="147.40" stroke="#b0b0b0" stroke-width="0.9"/>
<text x="386.60" y="145.60" font-size="5.8" font-weight="bold" fill="#3c3c3c" textLength="30.50" lengthAdjust="spacingAndGlyphs">Decay time</text>
<line x1="380.00" y1="147.60" x2="421.90" y2="147.60" stroke="#b0b0b0" stroke-width="0.9"/>
<line x1="325.50" y1="147.80" x2="325.50" y2="253.80" stroke="#3a3a3a" stroke-width="0.9"/>
<line x1="323.50" y1="157.30" x2="325.50" y2="157.30" stroke="#3a3a3a" stroke-width="0.9"/>
<text x="323.20" y="160.16" font-size="8.0" fill="#1c1c1c" text-anchor="end" stroke="#1c1c1c" stroke-width="0.1">2.5</text>
<line x1="323.50" y1="176.50" x2="325.50" y2="176.50" stroke="#3a3a3a" stroke-width="0.9"/>
<text x="323.20" y="179.36" font-size="8.0" fill="#1c1c1c" text-anchor="end" stroke="#1c1c1c" stroke-width="0.1">2.0</text>
<line x1="323.50" y1="195.70" x2="325.50" y2="195.70" stroke="#3a3a3a" stroke-width="0.9"/>
<text x="323.20" y="198.56" font-size="8.0" fill="#1c1c1c" text-anchor="end" stroke="#1c1c1c" stroke-width="0.1">1.5</text>
<line x1="323.50" y1="214.90" x2="325.50" y2="214.90" stroke="#3a3a3a" stroke-width="0.9"/>
<text x="323.20" y="217.76" font-size="8.0" fill="#1c1c1c" text-anchor="end" stroke="#1c1c1c" stroke-width="0.1">1.0</text>
<line x1="323.50" y1="234.10" x2="325.50" y2="234.10" stroke="#3a3a3a" stroke-width="0.9"/>
<text x="323.20" y="236.96" font-size="8.0" fill="#1c1c1c" text-anchor="end" stroke="#1c1c1c" stroke-width="0.1">0.5</text>
<line x1="323.50" y1="253.30" x2="325.50" y2="253.30" stroke="#3a3a3a" stroke-width="0.9"/>
<text x="323.20" y="256.16" font-size="8.0" fill="#1c1c1c" text-anchor="end" stroke="#1c1c1c" stroke-width="0.1">0.0</text>
<line x1="324.20" y1="166.90" x2="325.50" y2="166.90" stroke="#3a3a3a" stroke-width="0.7"/>
<line x1="324.20" y1="186.10" x2="325.50" y2="186.10" stroke="#3a3a3a" stroke-width="0.7"/>
<line x1="324.20" y1="205.30" x2="325.50" y2="205.30" stroke="#3a3a3a" stroke-width="0.7"/>
<line x1="324.20" y1="224.50" x2="325.50" y2="224.50" stroke="#3a3a3a" stroke-width="0.7"/>
<line x1="324.20" y1="243.70" x2="325.50" y2="243.70" stroke="#3a3a3a" stroke-width="0.7"/>
<line x1="325.50" y1="253.30" x2="423.10" y2="253.30" stroke="#3a3a3a" stroke-width="0.9"/>
<line x1="330.60" y1="253.30" x2="330.60" y2="254.80" stroke="#3a3a3a" stroke-width="0.7"/>
<line x1="341.20" y1="253.30" x2="341.20" y2="254.80" stroke="#3a3a3a" stroke-width="0.7"/>
<line x1="351.80" y1="253.30" x2="351.80" y2="254.80" stroke="#3a3a3a" stroke-width="0.7"/>
<line x1="362.50" y1="253.30" x2="362.50" y2="254.80" stroke="#3a3a3a" stroke-width="0.7"/>
<line x1="384.80" y1="253.30" x2="384.80" y2="254.80" stroke="#3a3a3a" stroke-width="0.7"/>
<line x1="395.90" y1="253.30" x2="395.90" y2="254.80" stroke="#3a3a3a" stroke-width="0.7"/>
<line x1="405.80" y1="253.30" x2="405.80" y2="254.80" stroke="#3a3a3a" stroke-width="0.7"/>
<line x1="416.90" y1="253.30" x2="416.90" y2="254.80" stroke="#3a3a3a" stroke-width="0.7"/>
<text x="309.80" y="199.40" font-size="7.7" fill="#333" text-anchor="middle" textLength="31.00" lengthAdjust="spacingAndGlyphs" transform="rotate(-90 309.80 199.40)" stroke="#333" stroke-width="0.05">Time, ms</text>
<text x="331.00" y="260.60" font-size="5.4" fill="#3c3c3c" text-anchor="middle" textLength="7.80" lengthAdjust="spacingAndGlyphs" stroke="#3c3c3c" stroke-width="0.12">0.5</text>
<text x="342.30" y="260.60" font-size="5.4" fill="#3c3c3c" text-anchor="middle" textLength="6.40" lengthAdjust="spacingAndGlyphs" stroke="#3c3c3c" stroke-width="0.12">10</text>
<text x="352.20" y="260.60" font-size="5.4" fill="#3c3c3c" text-anchor="middle" textLength="7.80" lengthAdjust="spacingAndGlyphs" stroke="#3c3c3c" stroke-width="0.12">0.5</text>
<text x="363.50" y="260.60" font-size="5.4" fill="#3c3c3c" text-anchor="middle" textLength="6.40" lengthAdjust="spacingAndGlyphs" stroke="#3c3c3c" stroke-width="0.12">10</text>
<line x1="326.40" y1="262.50" x2="345.50" y2="262.50" stroke="#555" stroke-width="0.9"/>
<text x="337.55" y="270.20" font-size="7.8" fill="#1c1c1c" text-anchor="middle" textLength="15.30" lengthAdjust="spacingAndGlyphs" stroke="#1c1c1c" stroke-width="0.22">FUS</text>
<line x1="348.30" y1="262.50" x2="368.10" y2="262.50" stroke="#c0c0c0" stroke-width="0.9"/>
<text x="360.00" y="270.20" font-size="7.8" fill="#1c1c1c" text-anchor="middle" textLength="12.00" lengthAdjust="spacingAndGlyphs" stroke="#1c1c1c" stroke-width="0.22">WT</text>
<text x="384.05" y="259.80" font-size="5.4" fill="#3c3c3c" text-anchor="middle" textLength="7.50" lengthAdjust="spacingAndGlyphs" stroke="#3c3c3c" stroke-width="0.12">0.5</text>
<text x="395.90" y="259.80" font-size="5.4" fill="#3c3c3c" text-anchor="middle" textLength="5.00" lengthAdjust="spacingAndGlyphs" stroke="#3c3c3c" stroke-width="0.12">10</text>
<text x="406.30" y="259.80" font-size="5.4" fill="#3c3c3c" text-anchor="middle" textLength="7.40" lengthAdjust="spacingAndGlyphs" stroke="#3c3c3c" stroke-width="0.12">0.5</text>
<text x="416.95" y="259.80" font-size="5.4" fill="#3c3c3c" text-anchor="middle" textLength="4.90" lengthAdjust="spacingAndGlyphs" stroke="#3c3c3c" stroke-width="0.12">10</text>
<text x="425.35" y="259.80" font-size="5.4" fill="#3c3c3c" text-anchor="middle" textLength="6.90" lengthAdjust="spacingAndGlyphs" stroke="#3c3c3c" stroke-width="0.12">Hz</text>
<line x1="380.00" y1="261.50" x2="399.00" y2="261.50" stroke="#555" stroke-width="0.9"/>
<text x="391.30" y="270.00" font-size="7.8" fill="#1c1c1c" text-anchor="middle" textLength="15.60" lengthAdjust="spacingAndGlyphs" stroke="#1c1c1c" stroke-width="0.22">FUS</text>
<line x1="402.00" y1="261.50" x2="420.00" y2="261.50" stroke="#c0c0c0" stroke-width="0.9"/>
<text x="412.00" y="270.00" font-size="7.8" fill="#1c1c1c" text-anchor="middle" textLength="12.40" lengthAdjust="spacingAndGlyphs" stroke="#1c1c1c" stroke-width="0.22">WT</text>
<line x1="338.40" y1="227.50" x2="368.10" y2="227.50" stroke="#ababab" stroke-width="1.15"/>
<text x="355.20" y="227.20" font-size="5.9" font-style="italic" fill="#2e2e2e" text-anchor="middle" textLength="7.80" lengthAdjust="spacingAndGlyphs">NS</text>
<line x1="327.10" y1="237.40" x2="358.50" y2="237.40" stroke="#ababab" stroke-width="1.15"/>
<text x="344.30" y="237.10" font-size="5.9" font-style="italic" fill="#2e2e2e" text-anchor="middle" textLength="7.80" lengthAdjust="spacingAndGlyphs">NS</text>
<circle cx="326.00" cy="242.48" r="1.7" fill="#111"/>
<circle cx="326.90" cy="243.09" r="1.7" fill="#111"/>
<circle cx="327.80" cy="242.74" r="1.7" fill="#111"/>
<circle cx="328.70" cy="243.21" r="1.7" fill="#111"/>
<circle cx="329.60" cy="243.25" r="1.7" fill="#111"/>
<circle cx="330.50" cy="242.13" r="1.7" fill="#111"/>
<circle cx="331.40" cy="242.03" r="1.7" fill="#111"/>
<circle cx="332.30" cy="243.67" r="1.7" fill="#111"/>
<circle cx="333.20" cy="242.52" r="1.7" fill="#111"/>
<circle cx="334.10" cy="242.47" r="1.7" fill="#111"/>
<circle cx="335.00" cy="243.99" r="1.7" fill="#111"/>
<circle cx="335.90" cy="242.94" r="1.7" fill="#111"/>
<circle cx="336.80" cy="243.67" r="1.7" fill="#111"/>
<circle cx="337.70" cy="242.95" r="1.7" fill="#111"/>
<circle cx="338.60" cy="242.08" r="1.7" fill="#111"/>
<circle cx="339.50" cy="241.10" r="1.7" fill="#111"/>
<circle cx="340.40" cy="242.07" r="1.7" fill="#111"/>
<circle cx="341.30" cy="242.54" r="1.7" fill="#111"/>
<circle cx="342.20" cy="241.85" r="1.7" fill="#111"/>
<circle cx="343.10" cy="243.48" r="1.7" fill="#111"/>
<circle cx="344.00" cy="243.34" r="1.7" fill="#111"/>
<circle cx="344.90" cy="242.13" r="1.7" fill="#111"/>
<circle cx="345.80" cy="243.52" r="1.7" fill="#111"/>
<circle cx="347.50" cy="242.50" r="1.5" fill="#fff" stroke="#222" stroke-width="0.8"/>
<circle cx="348.80" cy="244.00" r="1.5" fill="#fff" stroke="#222" stroke-width="0.8"/>
<circle cx="350.00" cy="246.00" r="1.5" fill="#fff" stroke="#222" stroke-width="0.8"/>
<circle cx="351.30" cy="244.50" r="1.5" fill="#fff" stroke="#222" stroke-width="0.8"/>
<circle cx="352.50" cy="243.00" r="1.5" fill="#fff" stroke="#222" stroke-width="0.8"/>
<circle cx="353.80" cy="244.80" r="1.5" fill="#fff" stroke="#222" stroke-width="0.8"/>
<circle cx="355.00" cy="243.30" r="1.5" fill="#fff" stroke="#222" stroke-width="0.8"/>
<circle cx="356.30" cy="242.00" r="1.5" fill="#fff" stroke="#222" stroke-width="0.8"/>
<circle cx="357.50" cy="241.00" r="1.5" fill="#fff" stroke="#222" stroke-width="0.8"/>
<circle cx="358.80" cy="239.80" r="1.5" fill="#fff" stroke="#222" stroke-width="0.8"/>
<circle cx="360.00" cy="241.50" r="1.5" fill="#fff" stroke="#222" stroke-width="0.8"/>
<circle cx="361.30" cy="243.50" r="1.5" fill="#fff" stroke="#222" stroke-width="0.8"/>
<circle cx="362.50" cy="244.50" r="1.5" fill="#fff" stroke="#222" stroke-width="0.8"/>
<circle cx="363.80" cy="243.20" r="1.5" fill="#fff" stroke="#222" stroke-width="0.8"/>
<circle cx="365.00" cy="242.30" r="1.5" fill="#fff" stroke="#222" stroke-width="0.8"/>
<circle cx="366.30" cy="243.60" r="1.5" fill="#fff" stroke="#222" stroke-width="0.8"/>
<circle cx="367.50" cy="241.80" r="1.5" fill="#fff" stroke="#222" stroke-width="0.8"/>
<line x1="391.20" y1="157.40" x2="420.70" y2="157.40" stroke="#ababab" stroke-width="1.15"/>
<text x="407.00" y="156.80" font-size="5.9" font-style="italic" fill="#2e2e2e" text-anchor="middle" textLength="7.80" lengthAdjust="spacingAndGlyphs">NS</text>
<line x1="382.70" y1="165.70" x2="409.20" y2="165.70" stroke="#ababab" stroke-width="1.15"/>
<text x="398.00" y="165.10" font-size="5.9" font-style="italic" fill="#2e2e2e" text-anchor="middle" textLength="7.80" lengthAdjust="spacingAndGlyphs">NS</text>
<line x1="384.80" y1="175.00" x2="384.80" y2="206.60" stroke="#8a8a8a" stroke-width="0.8"/>
<circle cx="384.80" cy="159.40" r="1.7" fill="#111"/>
<circle cx="384.80" cy="184.00" r="1.7" fill="#111"/>
<circle cx="382.40" cy="188.70" r="1.7" fill="#111"/>
<circle cx="387.30" cy="190.60" r="1.7" fill="#111"/>
<circle cx="382.90" cy="191.90" r="1.7" fill="#111"/>
<circle cx="387.30" cy="196.60" r="1.7" fill="#111"/>
<circle cx="384.80" cy="200.40" r="1.7" fill="#111"/>
<circle cx="384.80" cy="211.70" r="1.7" fill="#111"/>
<line x1="395.60" y1="175.00" x2="395.60" y2="207.00" stroke="#8a8a8a" stroke-width="0.8"/>
<line x1="391.80" y1="193.80" x2="399.40" y2="193.80" stroke="#8a8a8a" stroke-width="0.8"/>
<rect x="394.00" y="173.90" width="3.2" height="3.2" fill="#111"/>
<rect x="394.00" y="180.30" width="3.2" height="3.2" fill="#111"/>
<rect x="396.40" y="186.50" width="3.2" height="3.2" fill="#111"/>
<rect x="392.10" y="189.70" width="3.2" height="3.2" fill="#111"/>
<rect x="394.00" y="194.60" width="3.2" height="3.2" fill="#111"/>
<rect x="396.40" y="198.80" width="3.2" height="3.2" fill="#111"/>
<rect x="391.70" y="202.60" width="3.2" height="3.2" fill="#111"/>
<rect x="394.00" y="213.90" width="3.2" height="3.2" fill="#111"/>
<line x1="406.10" y1="179.60" x2="406.10" y2="204.20" stroke="#8a8a8a" stroke-width="0.8"/>
<line x1="402.60" y1="191.90" x2="409.60" y2="191.90" stroke="#8a8a8a" stroke-width="0.8"/>
<circle cx="403.30" cy="181.10" r="1.5" fill="#fff" stroke="#222" stroke-width="0.8"/>
<circle cx="406.10" cy="180.60" r="1.5" fill="#fff" stroke="#222" stroke-width="0.8"/>
<circle cx="409.30" cy="180.60" r="1.5" fill="#fff" stroke="#222" stroke-width="0.8"/>
<circle cx="407.50" cy="184.30" r="1.5" fill="#fff" stroke="#222" stroke-width="0.8"/>
<circle cx="405.00" cy="188.10" r="1.5" fill="#fff" stroke="#222" stroke-width="0.8"/>
<circle cx="407.50" cy="190.60" r="1.5" fill="#fff" stroke="#222" stroke-width="0.8"/>
<circle cx="402.70" cy="193.20" r="1.5" fill="#fff" stroke="#222" stroke-width="0.8"/>
<circle cx="408.80" cy="193.80" r="1.5" fill="#fff" stroke="#222" stroke-width="0.8"/>
<circle cx="405.00" cy="196.20" r="1.5" fill="#fff" stroke="#222" stroke-width="0.8"/>
<circle cx="408.40" cy="196.20" r="1.5" fill="#fff" stroke="#222" stroke-width="0.8"/>
<circle cx="405.60" cy="198.90" r="1.5" fill="#fff" stroke="#222" stroke-width="0.8"/>
<circle cx="406.10" cy="202.30" r="1.5" fill="#fff" stroke="#222" stroke-width="0.8"/>
<circle cx="406.10" cy="214.00" r="1.5" fill="#fff" stroke="#222" stroke-width="0.8"/>
<line x1="416.90" y1="171.10" x2="416.90" y2="196.60" stroke="#8a8a8a" stroke-width="0.8"/>
<line x1="410.90" y1="187.20" x2="422.90" y2="187.20" stroke="#8a8a8a" stroke-width="0.8"/>
<rect x="415.55" y="165.45" width="2.7" height="2.7" fill="#fff" stroke="#222" stroke-width="0.8"/>
<rect x="415.55" y="171.15" width="2.7" height="2.7" fill="#fff" stroke="#222" stroke-width="0.8"/>
<rect x="418.35" y="182.95" width="2.7" height="2.7" fill="#fff" stroke="#222" stroke-width="0.8"/>
<rect x="417.45" y="184.35" width="2.7" height="2.7" fill="#fff" stroke="#222" stroke-width="0.8"/>
<rect x="413.05" y="187.35" width="2.7" height="2.7" fill="#fff" stroke="#222" stroke-width="0.8"/>
<rect x="414.55" y="188.65" width="2.7" height="2.7" fill="#fff" stroke="#222" stroke-width="0.8"/>
<rect x="414.25" y="194.85" width="2.7" height="2.7" fill="#fff" stroke="#222" stroke-width="0.8"/>
<rect x="416.85" y="196.75" width="2.7" height="2.7" fill="#fff" stroke="#222" stroke-width="0.8"/>
<rect x="415.55" y="201.85" width="2.7" height="2.7" fill="#fff" stroke="#222" stroke-width="0.8"/>
<line x1="460.90" y1="150.00" x2="460.90" y2="254.00" stroke="#3a3a3a" stroke-width="0.9"/>
<line x1="458.90" y1="150.00" x2="460.90" y2="150.00" stroke="#3a3a3a" stroke-width="0.9"/>
<text x="458.60" y="152.86" font-size="8.0" fill="#1c1c1c" text-anchor="end" stroke="#1c1c1c" stroke-width="0.1">1.0</text>
<line x1="458.90" y1="170.70" x2="460.90" y2="170.70" stroke="#3a3a3a" stroke-width="0.9"/>
<text x="458.60" y="173.56" font-size="8.0" fill="#1c1c1c" text-anchor="end" stroke="#1c1c1c" stroke-width="0.1">0.8</text>
<line x1="458.90" y1="191.40" x2="460.90" y2="191.40" stroke="#3a3a3a" stroke-width="0.9"/>
<text x="458.60" y="194.26" font-size="8.0" fill="#1c1c1c" text-anchor="end" stroke="#1c1c1c" stroke-width="0.1">0.6</text>
<line x1="458.90" y1="212.10" x2="460.90" y2="212.10" stroke="#3a3a3a" stroke-width="0.9"/>
<text x="458.60" y="214.96" font-size="8.0" fill="#1c1c1c" text-anchor="end" stroke="#1c1c1c" stroke-width="0.1">0.4</text>
<line x1="458.90" y1="232.80" x2="460.90" y2="232.80" stroke="#3a3a3a" stroke-width="0.9"/>
<text x="458.60" y="235.66" font-size="8.0" fill="#1c1c1c" text-anchor="end" stroke="#1c1c1c" stroke-width="0.1">0.2</text>
<line x1="458.90" y1="253.50" x2="460.90" y2="253.50" stroke="#3a3a3a" stroke-width="0.9"/>
<text x="458.60" y="256.36" font-size="8.0" fill="#1c1c1c" text-anchor="end" stroke="#1c1c1c" stroke-width="0.1">0.0</text>
<line x1="459.60" y1="160.35" x2="460.90" y2="160.35" stroke="#3a3a3a" stroke-width="0.7"/>
<line x1="459.60" y1="181.05" x2="460.90" y2="181.05" stroke="#3a3a3a" stroke-width="0.7"/>
<line x1="459.60" y1="201.75" x2="460.90" y2="201.75" stroke="#3a3a3a" stroke-width="0.7"/>
<line x1="459.60" y1="222.45" x2="460.90" y2="222.45" stroke="#3a3a3a" stroke-width="0.7"/>
<line x1="459.60" y1="243.15" x2="460.90" y2="243.15" stroke="#3a3a3a" stroke-width="0.7"/>
<line x1="460.90" y1="253.50" x2="542.60" y2="253.50" stroke="#3a3a3a" stroke-width="0.9"/>
<line x1="471.60" y1="253.50" x2="471.60" y2="255.00" stroke="#3a3a3a" stroke-width="0.7"/>
<line x1="491.90" y1="253.50" x2="491.90" y2="255.00" stroke="#3a3a3a" stroke-width="0.7"/>
<line x1="511.60" y1="253.50" x2="511.60" y2="255.00" stroke="#3a3a3a" stroke-width="0.7"/>
<line x1="532.70" y1="253.50" x2="532.70" y2="255.00" stroke="#3a3a3a" stroke-width="0.7"/>
<text x="445.30" y="200.00" font-size="7.7" fill="#333" text-anchor="middle" textLength="70.80" lengthAdjust="spacingAndGlyphs" transform="rotate(-90 445.30 200.00)" stroke="#333" stroke-width="0.05">Quantal content (m)</text>
<text x="472.05" y="260.00" font-size="5.4" fill="#3c3c3c" text-anchor="middle" textLength="7.50" lengthAdjust="spacingAndGlyphs" stroke="#3c3c3c" stroke-width="0.12">0.5</text>
<text x="492.10" y="260.00" font-size="5.4" fill="#3c3c3c" text-anchor="middle" textLength="5.40" lengthAdjust="spacingAndGlyphs" stroke="#3c3c3c" stroke-width="0.12">10</text>
<text x="512.40" y="260.00" font-size="5.4" fill="#3c3c3c" text-anchor="middle" textLength="7.40" lengthAdjust="spacingAndGlyphs" stroke="#3c3c3c" stroke-width="0.12">0.5</text>
<text x="533.60" y="260.00" font-size="5.4" fill="#3c3c3c" text-anchor="middle" textLength="6.80" lengthAdjust="spacingAndGlyphs" stroke="#3c3c3c" stroke-width="0.12">10</text>
<text x="540.90" y="260.00" font-size="5.4" fill="#3c3c3c" text-anchor="middle" textLength="5.80" lengthAdjust="spacingAndGlyphs" stroke="#3c3c3c" stroke-width="0.12">Hz</text>
<line x1="467.10" y1="261.50" x2="499.80" y2="261.50" stroke="#555" stroke-width="0.9"/>
<text x="486.00" y="269.40" font-size="7.8" fill="#1c1c1c" text-anchor="middle" textLength="16.00" lengthAdjust="spacingAndGlyphs" stroke="#1c1c1c" stroke-width="0.22">FUS</text>
<line x1="507.90" y1="261.50" x2="538.90" y2="261.50" stroke="#c0c0c0" stroke-width="0.9"/>
<text x="525.35" y="269.40" font-size="7.8" fill="#1c1c1c" text-anchor="middle" textLength="12.50" lengthAdjust="spacingAndGlyphs" stroke="#1c1c1c" stroke-width="0.22">WT</text>
<line x1="488.60" y1="151.40" x2="540.10" y2="151.40" stroke="#ababab" stroke-width="1.15"/>
<text x="515.50" y="150.80" font-size="5.9" font-style="italic" fill="#2e2e2e" text-anchor="middle" textLength="7.80" lengthAdjust="spacingAndGlyphs">NS</text>
<line x1="466.10" y1="163.20" x2="518.10" y2="163.20" stroke="#ababab" stroke-width="1.15"/>
<text x="492.70" y="162.60" font-size="5.9" font-style="italic" fill="#2e2e2e" text-anchor="middle" textLength="7.80" lengthAdjust="spacingAndGlyphs">NS</text>
<line x1="470.10" y1="180.40" x2="495.20" y2="180.40" stroke="#ababab" stroke-width="1.15"/>
<text x="482.60" y="182.30" font-size="9.0" fill="#1a1a1a" text-anchor="middle" textLength="3.90" lengthAdjust="spacingAndGlyphs" stroke="#1a1a1a" stroke-width="0.2">*</text>
<line x1="510.50" y1="180.90" x2="535.40" y2="180.90" stroke="#ababab" stroke-width="1.15"/>
<text x="523.50" y="182.80" font-size="9.0" fill="#1a1a1a" text-anchor="middle" textLength="8.40" lengthAdjust="spacingAndGlyphs" stroke="#1a1a1a" stroke-width="0.2">**</text>
<line x1="471.60" y1="200.20" x2="471.60" y2="239.80" stroke="#8a8a8a" stroke-width="0.8"/>
<line x1="470.00" y1="200.20" x2="473.20" y2="200.20" stroke="#8a8a8a" stroke-width="0.8"/>
<line x1="470.00" y1="239.80" x2="473.20" y2="239.80" stroke="#8a8a8a" stroke-width="0.8"/>
<line x1="463.90" y1="220.00" x2="479.30" y2="220.00" stroke="#8a8a8a" stroke-width="0.8"/>
<circle cx="472.10" cy="186.10" r="1.7" fill="#111"/>
<circle cx="471.60" cy="194.20" r="1.7" fill="#111"/>
<circle cx="471.10" cy="217.00" r="1.7" fill="#111"/>
<circle cx="466.10" cy="223.20" r="1.7" fill="#111"/>
<circle cx="477.10" cy="227.40" r="1.7" fill="#111"/>
<circle cx="471.60" cy="231.40" r="1.7" fill="#111"/>
<circle cx="469.00" cy="235.80" r="1.7" fill="#111"/>
<circle cx="474.20" cy="243.20" r="1.7" fill="#111"/>
<line x1="491.90" y1="188.60" x2="491.90" y2="220.70" stroke="#8a8a8a" stroke-width="0.8"/>
<line x1="490.30" y1="188.60" x2="493.50" y2="188.60" stroke="#8a8a8a" stroke-width="0.8"/>
<line x1="490.30" y1="220.70" x2="493.50" y2="220.70" stroke="#8a8a8a" stroke-width="0.8"/>
<line x1="484.40" y1="205.10" x2="499.40" y2="205.10" stroke="#8a8a8a" stroke-width="0.8"/>
<rect x="489.80" y="168.70" width="3.2" height="3.2" fill="#111"/>
<rect x="487.30" y="195.60" width="3.2" height="3.2" fill="#111"/>
<rect x="492.70" y="200.10" width="3.2" height="3.2" fill="#111"/>
<rect x="484.80" y="210.00" width="3.2" height="3.2" fill="#111"/>
<rect x="489.80" y="208.00" width="3.2" height="3.2" fill="#111"/>
<rect x="495.70" y="210.00" width="3.2" height="3.2" fill="#111"/>
<rect x="490.70" y="222.30" width="3.2" height="3.2" fill="#111"/>
<line x1="511.60" y1="222.00" x2="511.60" y2="244.20" stroke="#8a8a8a" stroke-width="0.8"/>
<line x1="510.00" y1="222.00" x2="513.20" y2="222.00" stroke="#8a8a8a" stroke-width="0.8"/>
<line x1="510.00" y1="244.20" x2="513.20" y2="244.20" stroke="#8a8a8a" stroke-width="0.8"/>
<line x1="504.10" y1="232.30" x2="519.10" y2="232.30" stroke="#8a8a8a" stroke-width="0.8"/>
<circle cx="511.60" cy="210.80" r="1.5" fill="#fff" stroke="#222" stroke-width="0.8"/>
<circle cx="514.60" cy="218.20" r="1.5" fill="#fff" stroke="#222" stroke-width="0.8"/>
<circle cx="509.20" cy="222.00" r="1.5" fill="#fff" stroke="#222" stroke-width="0.8"/>
<circle cx="511.60" cy="225.70" r="1.5" fill="#fff" stroke="#222" stroke-width="0.8"/>
<circle cx="517.10" cy="229.40" r="1.5" fill="#fff" stroke="#222" stroke-width="0.8"/>
<circle cx="506.70" cy="233.10" r="1.5" fill="#fff" stroke="#222" stroke-width="0.8"/>
<circle cx="511.60" cy="234.80" r="1.5" fill="#fff" stroke="#222" stroke-width="0.8"/>
<circle cx="506.70" cy="238.80" r="1.5" fill="#fff" stroke="#222" stroke-width="0.8"/>
<circle cx="512.10" cy="243.70" r="1.5" fill="#fff" stroke="#222" stroke-width="0.8"/>
<circle cx="507.20" cy="244.70" r="1.5" fill="#fff" stroke="#222" stroke-width="0.8"/>
<circle cx="517.10" cy="244.20" r="1.5" fill="#fff" stroke="#222" stroke-width="0.8"/>
<circle cx="517.10" cy="248.70" r="1.5" fill="#fff" stroke="#222" stroke-width="0.8"/>
<line x1="532.70" y1="196.70" x2="532.70" y2="230.60" stroke="#8a8a8a" stroke-width="0.8"/>
<line x1="531.10" y1="196.70" x2="534.30" y2="196.70" stroke="#8a8a8a" stroke-width="0.8"/>
<line x1="531.10" y1="230.60" x2="534.30" y2="230.60" stroke="#8a8a8a" stroke-width="0.8"/>
<line x1="523.20" y1="214.00" x2="542.20" y2="214.00" stroke="#8a8a8a" stroke-width="0.8"/>
<rect x="530.55" y="185.45" width="2.7" height="2.7" fill="#fff" stroke="#222" stroke-width="0.8"/>
<rect x="530.55" y="192.15" width="2.7" height="2.7" fill="#fff" stroke="#222" stroke-width="0.8"/>
<rect x="527.15" y="203.25" width="2.7" height="2.7" fill="#fff" stroke="#222" stroke-width="0.8"/>
<rect x="534.55" y="207.75" width="2.7" height="2.7" fill="#fff" stroke="#222" stroke-width="0.8"/>
<rect x="534.55" y="213.95" width="2.7" height="2.7" fill="#fff" stroke="#222" stroke-width="0.8"/>
<rect x="527.15" y="228.75" width="2.7" height="2.7" fill="#fff" stroke="#222" stroke-width="0.8"/>
<rect x="534.55" y="228.75" width="2.7" height="2.7" fill="#fff" stroke="#222" stroke-width="0.8"/>
<rect x="530.55" y="235.95" width="2.7" height="2.7" fill="#fff" stroke="#222" stroke-width="0.8"/>
<text x="337.30" y="291.60" font-size="5.8" font-weight="bold" fill="#3c3c3c" textLength="26.00" lengthAdjust="spacingAndGlyphs">Rise time</text>
<line x1="328.80" y1="293.70" x2="371.60" y2="293.70" stroke="#b0b0b0" stroke-width="0.9"/>
<text x="385.90" y="292.00" font-size="5.8" font-weight="bold" fill="#3c3c3c" textLength="31.20" lengthAdjust="spacingAndGlyphs">Decay time</text>
<line x1="380.00" y1="293.30" x2="421.90" y2="293.30" stroke="#b0b0b0" stroke-width="0.9"/>
<line x1="325.50" y1="295.20" x2="325.50" y2="402.60" stroke="#3a3a3a" stroke-width="0.9"/>
<line x1="323.50" y1="305.90" x2="325.50" y2="305.90" stroke="#3a3a3a" stroke-width="0.9"/>
<text x="323.20" y="308.76" font-size="8.0" fill="#1c1c1c" text-anchor="end" stroke="#1c1c1c" stroke-width="0.1">2.5</text>
<line x1="323.50" y1="325.10" x2="325.50" y2="325.10" stroke="#3a3a3a" stroke-width="0.9"/>
<text x="323.20" y="327.96" font-size="8.0" fill="#1c1c1c" text-anchor="end" stroke="#1c1c1c" stroke-width="0.1">2.0</text>
<line x1="323.50" y1="344.40" x2="325.50" y2="344.40" stroke="#3a3a3a" stroke-width="0.9"/>
<text x="323.20" y="347.26" font-size="8.0" fill="#1c1c1c" text-anchor="end" stroke="#1c1c1c" stroke-width="0.1">1.5</text>
<line x1="323.50" y1="363.60" x2="325.50" y2="363.60" stroke="#3a3a3a" stroke-width="0.9"/>
<text x="323.20" y="366.46" font-size="8.0" fill="#1c1c1c" text-anchor="end" stroke="#1c1c1c" stroke-width="0.1">1.0</text>
<line x1="323.50" y1="382.90" x2="325.50" y2="382.90" stroke="#3a3a3a" stroke-width="0.9"/>
<text x="323.20" y="385.76" font-size="8.0" fill="#1c1c1c" text-anchor="end" stroke="#1c1c1c" stroke-width="0.1">0.5</text>
<line x1="323.50" y1="402.10" x2="325.50" y2="402.10" stroke="#3a3a3a" stroke-width="0.9"/>
<text x="323.20" y="404.96" font-size="8.0" fill="#1c1c1c" text-anchor="end" stroke="#1c1c1c" stroke-width="0.1">0.0</text>
<line x1="324.20" y1="315.50" x2="325.50" y2="315.50" stroke="#3a3a3a" stroke-width="0.7"/>
<line x1="324.20" y1="334.80" x2="325.50" y2="334.80" stroke="#3a3a3a" stroke-width="0.7"/>
<line x1="324.20" y1="354.00" x2="325.50" y2="354.00" stroke="#3a3a3a" stroke-width="0.7"/>
<line x1="324.20" y1="373.20" x2="325.50" y2="373.20" stroke="#3a3a3a" stroke-width="0.7"/>
<line x1="324.20" y1="392.50" x2="325.50" y2="392.50" stroke="#3a3a3a" stroke-width="0.7"/>
<line x1="325.50" y1="402.40" x2="422.70" y2="402.40" stroke="#3a3a3a" stroke-width="0.9"/>
<line x1="331.50" y1="402.40" x2="331.50" y2="403.90" stroke="#3a3a3a" stroke-width="0.7"/>
<line x1="342.70" y1="402.40" x2="342.70" y2="403.90" stroke="#3a3a3a" stroke-width="0.7"/>
<line x1="352.60" y1="402.40" x2="352.60" y2="403.90" stroke="#3a3a3a" stroke-width="0.7"/>
<line x1="363.90" y1="402.40" x2="363.90" y2="403.90" stroke="#3a3a3a" stroke-width="0.7"/>
<line x1="384.80" y1="402.40" x2="384.80" y2="403.90" stroke="#3a3a3a" stroke-width="0.7"/>
<line x1="395.40" y1="402.40" x2="395.40" y2="403.90" stroke="#3a3a3a" stroke-width="0.7"/>
<line x1="406.50" y1="402.40" x2="406.50" y2="403.90" stroke="#3a3a3a" stroke-width="0.7"/>
<line x1="417.10" y1="402.40" x2="417.10" y2="403.90" stroke="#3a3a3a" stroke-width="0.7"/>
<text x="309.80" y="355.40" font-size="7.7" fill="#333" text-anchor="middle" textLength="30.70" lengthAdjust="spacingAndGlyphs" transform="rotate(-90 309.80 355.40)" stroke="#333" stroke-width="0.05">Time, ms</text>
<text x="331.55" y="410.00" font-size="5.4" fill="#3c3c3c" text-anchor="middle" textLength="7.70" lengthAdjust="spacingAndGlyphs" stroke="#3c3c3c" stroke-width="0.12">0.5</text>
<text x="342.75" y="410.00" font-size="5.4" fill="#3c3c3c" text-anchor="middle" textLength="6.70" lengthAdjust="spacingAndGlyphs" stroke="#3c3c3c" stroke-width="0.12">10</text>
<text x="352.60" y="410.00" font-size="5.4" fill="#3c3c3c" text-anchor="middle" textLength="7.80" lengthAdjust="spacingAndGlyphs" stroke="#3c3c3c" stroke-width="0.12">0.5</text>
<text x="363.90" y="410.00" font-size="5.4" fill="#3c3c3c" text-anchor="middle" textLength="6.00" lengthAdjust="spacingAndGlyphs" stroke="#3c3c3c" stroke-width="0.12">10</text>
<line x1="327.00" y1="411.50" x2="346.00" y2="411.50" stroke="#555" stroke-width="0.9"/>
<text x="337.80" y="420.20" font-size="7.8" fill="#1c1c1c" text-anchor="middle" textLength="15.60" lengthAdjust="spacingAndGlyphs" stroke="#1c1c1c" stroke-width="0.22">FUS</text>
<line x1="348.00" y1="411.50" x2="368.00" y2="411.50" stroke="#c0c0c0" stroke-width="0.9"/>
<text x="359.85" y="420.20" font-size="7.8" fill="#1c1c1c" text-anchor="middle" textLength="13.30" lengthAdjust="spacingAndGlyphs" stroke="#1c1c1c" stroke-width="0.22">WT</text>
<text x="384.65" y="409.70" font-size="5.4" fill="#3c3c3c" text-anchor="middle" textLength="7.30" lengthAdjust="spacingAndGlyphs" stroke="#3c3c3c" stroke-width="0.12">0.5</text>
<text x="396.00" y="409.70" font-size="5.4" fill="#3c3c3c" text-anchor="middle" textLength="5.00" lengthAdjust="spacingAndGlyphs" stroke="#3c3c3c" stroke-width="0.12">10</text>
<text x="406.75" y="409.70" font-size="5.4" fill="#3c3c3c" text-anchor="middle" textLength="6.50" lengthAdjust="spacingAndGlyphs" stroke="#3c3c3c" stroke-width="0.12">0.5</text>
<text x="416.75" y="409.70" font-size="5.4" fill="#3c3c3c" text-anchor="middle" textLength="5.50" lengthAdjust="spacingAndGlyphs" stroke="#3c3c3c" stroke-width="0.12">10</text>
<text x="425.25" y="409.70" font-size="5.4" fill="#3c3c3c" text-anchor="middle" textLength="7.50" lengthAdjust="spacingAndGlyphs" stroke="#3c3c3c" stroke-width="0.12">Hz</text>
<line x1="380.00" y1="411.50" x2="399.00" y2="411.50" stroke="#555" stroke-width="0.9"/>
<text x="392.40" y="420.20" font-size="7.8" fill="#1c1c1c" text-anchor="middle" textLength="15.40" lengthAdjust="spacingAndGlyphs" stroke="#1c1c1c" stroke-width="0.22">FUS</text>
<line x1="402.00" y1="411.50" x2="421.00" y2="411.50" stroke="#c0c0c0" stroke-width="0.9"/>
<text x="412.90" y="420.20" font-size="7.8" fill="#1c1c1c" text-anchor="middle" textLength="12.20" lengthAdjust="spacingAndGlyphs" stroke="#1c1c1c" stroke-width="0.22">WT</text>
<line x1="338.80" y1="372.10" x2="368.70" y2="372.10" stroke="#ababab" stroke-width="1.15"/>
<text x="355.20" y="371.80" font-size="5.9" font-style="italic" fill="#2e2e2e" text-anchor="middle" textLength="7.80" lengthAdjust="spacingAndGlyphs">NS</text>
<line x1="326.60" y1="381.50" x2="358.70" y2="381.50" stroke="#ababab" stroke-width="1.15"/>
<text x="344.20" y="381.20" font-size="5.9" font-style="italic" fill="#2e2e2e" text-anchor="middle" textLength="7.80" lengthAdjust="spacingAndGlyphs">NS</text>
<circle cx="326.80" cy="390.50" r="1.7" fill="#111"/>
<circle cx="328.00" cy="391.50" r="1.7" fill="#111"/>
<circle cx="329.20" cy="390.00" r="1.7" fill="#111"/>
<circle cx="330.40" cy="391.20" r="1.7" fill="#111"/>
<circle cx="331.60" cy="389.60" r="1.7" fill="#111"/>
<circle cx="332.80" cy="391.00" r="1.7" fill="#111"/>
<circle cx="334.00" cy="390.00" r="1.7" fill="#111"/>
<circle cx="335.20" cy="391.40" r="1.7" fill="#111"/>
<circle cx="336.00" cy="389.80" r="1.7" fill="#111"/>
<circle cx="337.20" cy="390.80" r="1.7" fill="#111"/>
<circle cx="338.40" cy="389.60" r="1.7" fill="#111"/>
<circle cx="339.60" cy="391.00" r="1.7" fill="#111"/>
<circle cx="340.80" cy="389.40" r="1.7" fill="#111"/>
<circle cx="342.00" cy="390.40" r="1.7" fill="#111"/>
<circle cx="343.00" cy="386.20" r="1.7" fill="#111"/>
<circle cx="343.40" cy="388.40" r="1.7" fill="#111"/>
<circle cx="344.60" cy="390.80" r="1.7" fill="#111"/>
<circle cx="345.80" cy="389.80" r="1.7" fill="#111"/>
<circle cx="346.80" cy="391.20" r="1.7" fill="#111"/>
<circle cx="348.60" cy="390.20" r="1.5" fill="#fff" stroke="#222" stroke-width="0.8"/>
<circle cx="350.00" cy="391.60" r="1.5" fill="#fff" stroke="#222" stroke-width="0.8"/>
<circle cx="351.40" cy="390.40" r="1.5" fill="#fff" stroke="#222" stroke-width="0.8"/>
<circle cx="352.80" cy="392.20" r="1.5" fill="#fff" stroke="#222" stroke-width="0.8"/>
<circle cx="354.20" cy="390.80" r="1.5" fill="#fff" stroke="#222" stroke-width="0.8"/>
<circle cx="355.60" cy="389.40" r="1.5" fill="#fff" stroke="#222" stroke-width="0.8"/>
<circle cx="357.00" cy="390.80" r="1.5" fill="#fff" stroke="#222" stroke-width="0.8"/>
<circle cx="358.40" cy="389.20" r="1.5" fill="#fff" stroke="#222" stroke-width="0.8"/>
<circle cx="359.80" cy="390.60" r="1.5" fill="#fff" stroke="#222" stroke-width="0.8"/>
<circle cx="361.20" cy="389.40" r="1.5" fill="#fff" stroke="#222" stroke-width="0.8"/>
<circle cx="362.60" cy="391.00" r="1.5" fill="#fff" stroke="#222" stroke-width="0.8"/>
<circle cx="364.00" cy="389.80" r="1.5" fill="#fff" stroke="#222" stroke-width="0.8"/>
<circle cx="365.40" cy="388.60" r="1.5" fill="#fff" stroke="#222" stroke-width="0.8"/>
<circle cx="366.80" cy="390.20" r="1.5" fill="#fff" stroke="#222" stroke-width="0.8"/>
<circle cx="368.00" cy="389.00" r="1.5" fill="#fff" stroke="#222" stroke-width="0.8"/>
<line x1="391.20" y1="309.20" x2="421.20" y2="309.20" stroke="#ababab" stroke-width="1.15"/>
<text x="407.00" y="311.10" font-size="9.0" fill="#1a1a1a" text-anchor="middle" textLength="3.90" lengthAdjust="spacingAndGlyphs" stroke="#1a1a1a" stroke-width="0.2">*</text>
<line x1="382.70" y1="317.10" x2="410.60" y2="317.10" stroke="#ababab" stroke-width="1.15"/>
<text x="399.00" y="316.50" font-size="5.9" font-style="italic" fill="#2e2e2e" text-anchor="middle" textLength="7.80" lengthAdjust="spacingAndGlyphs">NS</text>
<line x1="382.70" y1="323.80" x2="397.20" y2="323.80" stroke="#ababab" stroke-width="1.15"/>
<text x="389.70" y="325.70" font-size="9.0" fill="#1a1a1a" text-anchor="middle" textLength="3.90" lengthAdjust="spacingAndGlyphs" stroke="#1a1a1a" stroke-width="0.2">*</text>
<circle cx="386.50" cy="330.00" r="1.7" fill="#111"/>
<circle cx="383.00" cy="332.00" r="1.7" fill="#111"/>
<circle cx="382.30" cy="333.80" r="1.7" fill="#111"/>
<circle cx="387.60" cy="334.80" r="1.7" fill="#111"/>
<circle cx="384.60" cy="337.50" r="1.7" fill="#111"/>
<circle cx="382.00" cy="341.80" r="1.7" fill="#111"/>
<circle cx="386.20" cy="344.60" r="1.7" fill="#111"/>
<circle cx="384.20" cy="347.80" r="1.7" fill="#111"/>
<circle cx="386.80" cy="348.80" r="1.7" fill="#111"/>
<circle cx="383.20" cy="352.80" r="1.7" fill="#111"/>
<circle cx="385.00" cy="354.20" r="1.7" fill="#111"/>
<rect x="394.20" y="324.80" width="3.2" height="3.2" fill="#111"/>
<rect x="392.40" y="338.20" width="3.2" height="3.2" fill="#111"/>
<rect x="395.90" y="338.60" width="3.2" height="3.2" fill="#111"/>
<rect x="391.90" y="344.60" width="3.2" height="3.2" fill="#111"/>
<rect x="395.40" y="345.90" width="3.2" height="3.2" fill="#111"/>
<rect x="393.40" y="348.40" width="3.2" height="3.2" fill="#111"/>
<rect x="394.00" y="351.90" width="3.2" height="3.2" fill="#111"/>
<rect x="394.60" y="355.90" width="3.2" height="3.2" fill="#111"/>
<line x1="406.30" y1="331.00" x2="406.30" y2="348.00" stroke="#8a8a8a" stroke-width="0.8"/>
<circle cx="406.00" cy="329.00" r="1.5" fill="#fff" stroke="#222" stroke-width="0.8"/>
<circle cx="404.50" cy="335.20" r="1.5" fill="#fff" stroke="#222" stroke-width="0.8"/>
<circle cx="408.00" cy="336.00" r="1.5" fill="#fff" stroke="#222" stroke-width="0.8"/>
<circle cx="402.60" cy="340.60" r="1.5" fill="#fff" stroke="#222" stroke-width="0.8"/>
<circle cx="406.00" cy="340.20" r="1.5" fill="#fff" stroke="#222" stroke-width="0.8"/>
<circle cx="409.50" cy="341.00" r="1.5" fill="#fff" stroke="#222" stroke-width="0.8"/>
<circle cx="406.00" cy="344.50" r="1.5" fill="#fff" stroke="#222" stroke-width="0.8"/>
<circle cx="406.20" cy="348.60" r="1.5" fill="#fff" stroke="#222" stroke-width="0.8"/>
<line x1="417.10" y1="323.50" x2="417.10" y2="346.50" stroke="#8a8a8a" stroke-width="0.8"/>
<line x1="411.60" y1="337.30" x2="422.60" y2="337.30" stroke="#8a8a8a" stroke-width="0.8"/>
<rect x="414.25" y="322.25" width="2.7" height="2.7" fill="#fff" stroke="#222" stroke-width="0.8"/>
<rect x="417.15" y="322.25" width="2.7" height="2.7" fill="#fff" stroke="#222" stroke-width="0.8"/>
<rect x="415.75" y="328.65" width="2.7" height="2.7" fill="#fff" stroke="#222" stroke-width="0.8"/>
<rect x="412.65" y="341.85" width="2.7" height="2.7" fill="#fff" stroke="#222" stroke-width="0.8"/>
<rect x="415.65" y="342.85" width="2.7" height="2.7" fill="#fff" stroke="#222" stroke-width="0.8"/>
<rect x="418.65" y="342.25" width="2.7" height="2.7" fill="#fff" stroke="#222" stroke-width="0.8"/>
<rect x="415.65" y="346.85" width="2.7" height="2.7" fill="#fff" stroke="#222" stroke-width="0.8"/>
<path d="M394.59999999999997 363.0 L398.2 363.0 L398.2 371.0 L400.59999999999997 371.0 L396.4 378.0 L392.2 371.0 L394.59999999999997 371.0 Z" fill="#c2c2c2"/>
<line x1="464.50" y1="295.30" x2="464.50" y2="401.80" stroke="#3a3a3a" stroke-width="0.9"/>
<line x1="462.50" y1="305.20" x2="464.50" y2="305.20" stroke="#3a3a3a" stroke-width="0.9"/>
<text x="462.20" y="308.06" font-size="8.0" fill="#1c1c1c" text-anchor="end" stroke="#1c1c1c" stroke-width="0.1">1.0</text>
<line x1="462.50" y1="324.50" x2="464.50" y2="324.50" stroke="#3a3a3a" stroke-width="0.9"/>
<text x="462.20" y="327.36" font-size="8.0" fill="#1c1c1c" text-anchor="end" stroke="#1c1c1c" stroke-width="0.1">0.8</text>
<line x1="462.50" y1="343.60" x2="464.50" y2="343.60" stroke="#3a3a3a" stroke-width="0.9"/>
<text x="462.20" y="346.46" font-size="8.0" fill="#1c1c1c" text-anchor="end" stroke="#1c1c1c" stroke-width="0.1">0.6</text>
<line x1="462.50" y1="362.60" x2="464.50" y2="362.60" stroke="#3a3a3a" stroke-width="0.9"/>
<text x="462.20" y="365.46" font-size="8.0" fill="#1c1c1c" text-anchor="end" stroke="#1c1c1c" stroke-width="0.1">0.4</text>
<line x1="462.50" y1="381.80" x2="464.50" y2="381.80" stroke="#3a3a3a" stroke-width="0.9"/>
<text x="462.20" y="384.66" font-size="8.0" fill="#1c1c1c" text-anchor="end" stroke="#1c1c1c" stroke-width="0.1">0.2</text>
<line x1="462.50" y1="401.30" x2="464.50" y2="401.30" stroke="#3a3a3a" stroke-width="0.9"/>
<text x="462.20" y="404.16" font-size="8.0" fill="#1c1c1c" text-anchor="end" stroke="#1c1c1c" stroke-width="0.1">0.0</text>
<line x1="463.20" y1="314.85" x2="464.50" y2="314.85" stroke="#3a3a3a" stroke-width="0.7"/>
<line x1="463.20" y1="334.05" x2="464.50" y2="334.05" stroke="#3a3a3a" stroke-width="0.7"/>
<line x1="463.20" y1="353.10" x2="464.50" y2="353.10" stroke="#3a3a3a" stroke-width="0.7"/>
<line x1="463.20" y1="372.20" x2="464.50" y2="372.20" stroke="#3a3a3a" stroke-width="0.7"/>
<line x1="463.20" y1="391.55" x2="464.50" y2="391.55" stroke="#3a3a3a" stroke-width="0.7"/>
<line x1="464.50" y1="401.50" x2="546.50" y2="401.50" stroke="#3a3a3a" stroke-width="0.9"/>
<line x1="474.40" y1="401.50" x2="474.40" y2="403.00" stroke="#3a3a3a" stroke-width="0.7"/>
<line x1="495.40" y1="401.50" x2="495.40" y2="403.00" stroke="#3a3a3a" stroke-width="0.7"/>
<line x1="515.40" y1="401.50" x2="515.40" y2="403.00" stroke="#3a3a3a" stroke-width="0.7"/>
<line x1="536.50" y1="401.50" x2="536.50" y2="403.00" stroke="#3a3a3a" stroke-width="0.7"/>
<text x="449.00" y="348.60" font-size="7.7" fill="#333" text-anchor="middle" textLength="70.20" lengthAdjust="spacingAndGlyphs" transform="rotate(-90 449.00 348.60)" stroke="#333" stroke-width="0.05">Quantal content (m)</text>
<text x="475.45" y="410.00" font-size="5.4" fill="#3c3c3c" text-anchor="middle" textLength="7.50" lengthAdjust="spacingAndGlyphs" stroke="#3c3c3c" stroke-width="0.12">0.5</text>
<text x="495.70" y="410.00" font-size="5.4" fill="#3c3c3c" text-anchor="middle" textLength="6.20" lengthAdjust="spacingAndGlyphs" stroke="#3c3c3c" stroke-width="0.12">10</text>
<text x="516.05" y="410.00" font-size="5.4" fill="#3c3c3c" text-anchor="middle" textLength="8.90" lengthAdjust="spacingAndGlyphs" stroke="#3c3c3c" stroke-width="0.12">0.5</text>
<text x="535.75" y="410.00" font-size="5.4" fill="#3c3c3c" text-anchor="middle" textLength="6.50" lengthAdjust="spacingAndGlyphs" stroke="#3c3c3c" stroke-width="0.12">10</text>
<text x="543.80" y="410.00" font-size="5.4" fill="#3c3c3c" text-anchor="middle" textLength="7.60" lengthAdjust="spacingAndGlyphs" stroke="#3c3c3c" stroke-width="0.12">Hz</text>
<line x1="470.40" y1="411.50" x2="503.20" y2="411.50" stroke="#555" stroke-width="0.9"/>
<text x="489.70" y="418.80" font-size="7.8" fill="#1c1c1c" text-anchor="middle" textLength="15.20" lengthAdjust="spacingAndGlyphs" stroke="#1c1c1c" stroke-width="0.22">FUS</text>
<line x1="512.10" y1="411.50" x2="545.40" y2="411.50" stroke="#c0c0c0" stroke-width="0.9"/>
<text x="528.75" y="418.80" font-size="7.8" fill="#1c1c1c" text-anchor="middle" textLength="12.10" lengthAdjust="spacingAndGlyphs" stroke="#1c1c1c" stroke-width="0.22">WT</text>
<line x1="490.00" y1="287.00" x2="543.50" y2="287.00" stroke="#ababab" stroke-width="1.15"/>
<text x="515.10" y="288.90" font-size="9.0" fill="#1a1a1a" text-anchor="middle" textLength="3.90" lengthAdjust="spacingAndGlyphs" stroke="#1a1a1a" stroke-width="0.2">*</text>
<line x1="469.30" y1="292.40" x2="522.70" y2="292.40" stroke="#ababab" stroke-width="1.15"/>
<text x="499.40" y="294.30" font-size="9.0" fill="#1a1a1a" text-anchor="middle" textLength="3.90" lengthAdjust="spacingAndGlyphs" stroke="#1a1a1a" stroke-width="0.2">*</text>
<line x1="471.00" y1="298.50" x2="500.30" y2="298.50" stroke="#ababab" stroke-width="1.15"/>
<text x="486.30" y="300.40" font-size="9.0" fill="#1a1a1a" text-anchor="middle" textLength="12.90" lengthAdjust="spacingAndGlyphs" stroke="#1a1a1a" stroke-width="0.2">***</text>
<line x1="509.60" y1="341.30" x2="539.10" y2="341.30" stroke="#ababab" stroke-width="1.15"/>
<text x="524.50" y="343.20" font-size="9.0" fill="#1a1a1a" text-anchor="middle" textLength="8.40" lengthAdjust="spacingAndGlyphs" stroke="#1a1a1a" stroke-width="0.2">**</text>
<path d="M472.9 327.6 L476.5 327.6 L476.5 320.8 L478.9 320.8 L474.7 313.8 L470.5 320.8 L472.9 320.8 Z" fill="#c2c2c2"/>
<path d="M493.59999999999997 385.0 L497.2 385.0 L497.2 378.0 L499.59999999999997 378.0 L495.4 371.0 L491.2 378.0 L493.59999999999997 378.0 Z" fill="#c2c2c2"/>
<line x1="474.40" y1="346.60" x2="474.40" y2="377.70" stroke="#8a8a8a" stroke-width="0.8"/>
<line x1="472.80" y1="346.60" x2="476.00" y2="346.60" stroke="#8a8a8a" stroke-width="0.8"/>
<line x1="472.80" y1="377.70" x2="476.00" y2="377.70" stroke="#8a8a8a" stroke-width="0.8"/>
<line x1="468.10" y1="362.20" x2="480.70" y2="362.20" stroke="#8a8a8a" stroke-width="0.8"/>
<circle cx="474.70" cy="333.50" r="1.7" fill="#111"/>
<circle cx="481.30" cy="344.40" r="1.7" fill="#111"/>
<circle cx="472.60" cy="356.20" r="1.7" fill="#111"/>
<circle cx="476.60" cy="355.60" r="1.7" fill="#111"/>
<circle cx="468.80" cy="359.50" r="1.7" fill="#111"/>
<circle cx="481.00" cy="363.70" r="1.7" fill="#111"/>
<circle cx="468.80" cy="373.30" r="1.7" fill="#111"/>
<circle cx="477.00" cy="370.40" r="1.7" fill="#111"/>
<circle cx="472.60" cy="378.40" r="1.7" fill="#111"/>
<circle cx="474.80" cy="386.60" r="1.7" fill="#111"/>
<line x1="495.40" y1="300.00" x2="495.40" y2="358.80" stroke="#666" stroke-width="0.8"/>
<line x1="493.80" y1="300.00" x2="497.00" y2="300.00" stroke="#666" stroke-width="0.8"/>
<line x1="493.80" y1="358.80" x2="497.00" y2="358.80" stroke="#666" stroke-width="0.8"/>
<line x1="487.40" y1="335.60" x2="503.40" y2="335.60" stroke="#666" stroke-width="0.8"/>
<rect x="491.00" y="303.10" width="3.2" height="3.2" fill="#111"/>
<rect x="496.60" y="299.70" width="3.2" height="3.2" fill="#111"/>
<rect x="493.60" y="311.90" width="3.2" height="3.2" fill="#111"/>
<rect x="488.20" y="327.50" width="3.2" height="3.2" fill="#111"/>
<rect x="493.60" y="328.60" width="3.2" height="3.2" fill="#111"/>
<rect x="499.10" y="336.10" width="3.2" height="3.2" fill="#111"/>
<rect x="488.30" y="357.20" width="3.2" height="3.2" fill="#111"/>
<rect x="493.80" y="351.20" width="3.2" height="3.2" fill="#111"/>
<rect x="499.40" y="359.00" width="3.2" height="3.2" fill="#111"/>
<rect x="493.80" y="364.60" width="3.2" height="3.2" fill="#111"/>
<line x1="515.40" y1="366.20" x2="515.40" y2="386.00" stroke="#8a8a8a" stroke-width="0.8"/>
<line x1="513.80" y1="366.20" x2="517.00" y2="366.20" stroke="#8a8a8a" stroke-width="0.8"/>
<line x1="513.80" y1="386.00" x2="517.00" y2="386.00" stroke="#8a8a8a" stroke-width="0.8"/>
<line x1="507.40" y1="376.60" x2="523.40" y2="376.60" stroke="#8a8a8a" stroke-width="0.8"/>
<circle cx="516.10" cy="358.40" r="1.5" fill="#fff" stroke="#222" stroke-width="0.8"/>
<circle cx="522.10" cy="368.40" r="1.5" fill="#fff" stroke="#222" stroke-width="0.8"/>
<circle cx="509.40" cy="377.70" r="1.5" fill="#fff" stroke="#222" stroke-width="0.8"/>
<circle cx="512.50" cy="377.70" r="1.5" fill="#fff" stroke="#222" stroke-width="0.8"/>
<circle cx="515.40" cy="377.70" r="1.5" fill="#fff" stroke="#222" stroke-width="0.8"/>
<circle cx="518.30" cy="379.20" r="1.5" fill="#fff" stroke="#222" stroke-width="0.8"/>
<circle cx="513.20" cy="385.50" r="1.5" fill="#fff" stroke="#222" stroke-width="0.8"/>
<circle cx="518.30" cy="386.60" r="1.5" fill="#fff" stroke="#222" stroke-width="0.8"/>
<line x1="536.50" y1="351.00" x2="536.50" y2="383.00" stroke="#8a8a8a" stroke-width="0.8"/>
<line x1="534.90" y1="351.00" x2="538.10" y2="351.00" stroke="#8a8a8a" stroke-width="0.8"/>
<line x1="534.90" y1="383.00" x2="538.10" y2="383.00" stroke="#8a8a8a" stroke-width="0.8"/>
<line x1="528.00" y1="365.00" x2="545.00" y2="365.00" stroke="#8a8a8a" stroke-width="0.8"/>
<rect x="532.95" y="343.05" width="2.7" height="2.7" fill="#fff" stroke="#222" stroke-width="0.8"/>
<rect x="536.95" y="350.85" width="2.7" height="2.7" fill="#fff" stroke="#222" stroke-width="0.8"/>
<rect x="536.95" y="362.35" width="2.7" height="2.7" fill="#fff" stroke="#222" stroke-width="0.8"/>
<rect x="541.75" y="364.15" width="2.7" height="2.7" fill="#fff" stroke="#222" stroke-width="0.8"/>
<rect x="528.95" y="368.15" width="2.7" height="2.7" fill="#fff" stroke="#222" stroke-width="0.8"/>
<rect x="533.35" y="378.55" width="2.7" height="2.7" fill="#fff" stroke="#222" stroke-width="0.8"/>
<rect x="535.55" y="382.35" width="2.7" height="2.7" fill="#fff" stroke="#222" stroke-width="0.8"/>
</svg>
</body></html>
